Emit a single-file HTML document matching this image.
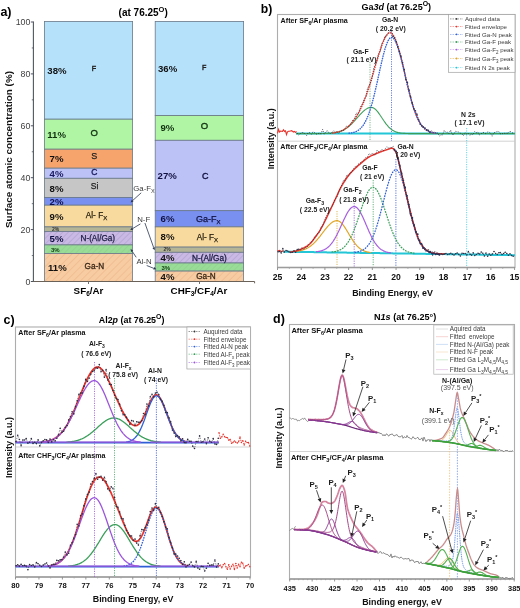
<!DOCTYPE html>
<html><head><meta charset="utf-8"><style>
html,body{margin:0;padding:0;background:#fff;width:520px;height:608px;overflow:hidden}
svg{display:block;will-change:transform;font-family:"Liberation Sans", sans-serif}
</style></head><body>
<svg width="520" height="608" viewBox="0 0 520 608">
<rect width="520" height="608" fill="#fff"/>
<text x="0.4" y="16.0" font-size="12.5" font-weight="bold" text-anchor="start" fill="#000" >a)</text>
<text x="143.2" y="15.6" font-size="10.0" font-weight="bold" text-anchor="middle" fill="#000" >(at 76.25<tspan baseline-shift="3.9" font-size="7.5">O</tspan>)</text>
<defs><pattern id="h1" patternUnits="userSpaceOnUse" width="4" height="4" patternTransform="rotate(45)"><rect width="4" height="4" fill="#c9b9e4"/><line x1="0" y1="0" x2="0" y2="4" stroke="#a999c8" stroke-width="1"/></pattern><pattern id="h2" patternUnits="userSpaceOnUse" width="4" height="4" patternTransform="rotate(45)"><rect width="4" height="4" fill="#99dc97"/><line x1="0" y1="0" x2="0" y2="4" stroke="#84ca84" stroke-width="0.8"/></pattern><pattern id="h3" patternUnits="userSpaceOnUse" width="5" height="5" patternTransform="rotate(45)"><rect width="5" height="5" fill="#f8cca2"/><line x1="0" y1="0" x2="0" y2="5" stroke="#e8b080" stroke-width="1"/></pattern></defs>
<rect x="44.5" y="21.5" width="88.1" height="97.7" fill="#b5e1fb" stroke="#6a7888" stroke-width="0.8"/>
<rect x="44.5" y="119.2" width="88.1" height="29.999999999999986" fill="#b0f5a4" stroke="#6a7888" stroke-width="0.8"/>
<rect x="44.5" y="149.2" width="88.1" height="19.0" fill="#f6a46c" stroke="#6a7888" stroke-width="0.8"/>
<rect x="44.5" y="168.2" width="88.1" height="10.100000000000023" fill="#bcc2f6" stroke="#6a7888" stroke-width="0.8"/>
<rect x="44.5" y="178.3" width="88.1" height="19.099999999999994" fill="#c6c6c6" stroke="#6a7888" stroke-width="0.8"/>
<rect x="44.5" y="197.4" width="88.1" height="7.799999999999983" fill="#7a90f0" stroke="#6a7888" stroke-width="0.8"/>
<rect x="44.5" y="205.2" width="88.1" height="21.700000000000017" fill="#f8da9e" stroke="#6a7888" stroke-width="0.8"/>
<rect x="44.5" y="226.9" width="88.1" height="4.599999999999994" fill="#b4b496" stroke="#6a7888" stroke-width="0.8"/>
<rect x="44.5" y="231.5" width="88.1" height="13.400000000000006" fill="url(#h1)" stroke="#6a7888" stroke-width="0.8"/>
<rect x="44.5" y="244.9" width="88.1" height="8.599999999999994" fill="url(#h2)" stroke="#6a7888" stroke-width="0.8"/>
<rect x="44.5" y="253.5" width="88.1" height="28.0" fill="url(#h3)" stroke="#6a7888" stroke-width="0.8"/>
<rect x="155.2" y="21.5" width="88.4" height="94.1" fill="#b5e1fb" stroke="#6a7888" stroke-width="0.8"/>
<rect x="155.2" y="115.6" width="88.4" height="24.700000000000017" fill="#b0f5a4" stroke="#6a7888" stroke-width="0.8"/>
<rect x="155.2" y="140.3" width="88.4" height="70.39999999999998" fill="#bcc2f6" stroke="#6a7888" stroke-width="0.8"/>
<rect x="155.2" y="210.7" width="88.4" height="16.200000000000017" fill="#7a90f0" stroke="#6a7888" stroke-width="0.8"/>
<rect x="155.2" y="226.9" width="88.4" height="20.19999999999999" fill="#f8da9e" stroke="#6a7888" stroke-width="0.8"/>
<rect x="155.2" y="247.1" width="88.4" height="5.200000000000017" fill="#b4b496" stroke="#6a7888" stroke-width="0.8"/>
<rect x="155.2" y="252.3" width="88.4" height="10.699999999999989" fill="url(#h1)" stroke="#6a7888" stroke-width="0.8"/>
<rect x="155.2" y="263.0" width="88.4" height="8.100000000000023" fill="url(#h2)" stroke="#6a7888" stroke-width="0.8"/>
<rect x="155.2" y="271.1" width="88.4" height="10.399999999999977" fill="url(#h3)" stroke="#6a7888" stroke-width="0.8"/>
<line x1="33.4" y1="21.5" x2="33.4" y2="282" stroke="#4e5660" stroke-width="1.1" />
<line x1="33" y1="281.5" x2="254.6" y2="281.5" stroke="#6a6258" stroke-width="1.1" />
<line x1="254.6" y1="281.5" x2="254.6" y2="283.3" stroke="#6a6258" stroke-width="1" />
<line x1="30.8" y1="281.5" x2="33.4" y2="281.5" stroke="#4e5660" stroke-width="1" />
<text x="30.4" y="284.7" font-size="8.8" font-weight="normal" text-anchor="end" fill="#404040" >0</text>
<line x1="31.8" y1="255.55" x2="33.4" y2="255.55" stroke="#4e5660" stroke-width="0.8" />
<line x1="30.8" y1="229.6" x2="33.4" y2="229.6" stroke="#4e5660" stroke-width="1" />
<text x="30.4" y="232.79999999999998" font-size="8.8" font-weight="normal" text-anchor="end" fill="#404040" >20</text>
<line x1="31.8" y1="203.64999999999998" x2="33.4" y2="203.64999999999998" stroke="#4e5660" stroke-width="0.8" />
<line x1="30.8" y1="177.7" x2="33.4" y2="177.7" stroke="#4e5660" stroke-width="1" />
<text x="30.4" y="180.89999999999998" font-size="8.8" font-weight="normal" text-anchor="end" fill="#404040" >40</text>
<line x1="31.8" y1="151.75" x2="33.4" y2="151.75" stroke="#4e5660" stroke-width="0.8" />
<line x1="30.8" y1="125.79999999999998" x2="33.4" y2="125.79999999999998" stroke="#4e5660" stroke-width="1" />
<text x="30.4" y="128.99999999999997" font-size="8.8" font-weight="normal" text-anchor="end" fill="#404040" >60</text>
<line x1="31.8" y1="99.85" x2="33.4" y2="99.85" stroke="#4e5660" stroke-width="0.8" />
<line x1="30.8" y1="73.89999999999998" x2="33.4" y2="73.89999999999998" stroke="#4e5660" stroke-width="1" />
<text x="30.4" y="77.09999999999998" font-size="8.8" font-weight="normal" text-anchor="end" fill="#404040" >80</text>
<line x1="31.8" y1="47.94999999999999" x2="33.4" y2="47.94999999999999" stroke="#4e5660" stroke-width="0.8" />
<line x1="30.8" y1="22.0" x2="33.4" y2="22.0" stroke="#4e5660" stroke-width="1" />
<text x="30.4" y="25.2" font-size="8.8" font-weight="normal" text-anchor="end" fill="#404040" >100</text>
<line x1="88.5" y1="281.5" x2="88.5" y2="284" stroke="#707070" stroke-width="1" />
<line x1="199.5" y1="281.5" x2="199.5" y2="284" stroke="#707070" stroke-width="1" />
<text x="88.5" y="294.2" font-size="9.8" font-weight="bold" text-anchor="middle" fill="#000" >SF<tspan baseline-shift="-2" font-size="6.5">6</tspan>/Ar</text>
<text x="199" y="294.2" font-size="9.8" font-weight="bold" text-anchor="middle" fill="#000" >CHF<tspan baseline-shift="-2" font-size="6.5">3</tspan>/CF<tspan baseline-shift="-2" font-size="6.5">4</tspan>/Ar</text>
<text transform="translate(12.1,149.5) rotate(-90)" font-size="9.9" font-weight="bold" text-anchor="middle" fill="#111">Surface atomic concentration (%)</text>
<text x="47.3" y="73.956" font-size="9.6" font-weight="bold" text-anchor="start" fill="#111" >38%</text>
<text x="94" y="71.392" font-size="7.2" font-weight="normal" text-anchor="middle" fill="#222" stroke="#222" stroke-width="0.4">F</text>
<text x="47.3" y="137.65599999999998" font-size="9.6" font-weight="bold" text-anchor="start" fill="#103010" >11%</text>
<text x="94.3" y="135.82" font-size="9.5" font-weight="normal" text-anchor="middle" fill="#103010" stroke="#103010" stroke-width="0.35">O</text>
<text x="49.6" y="162.356" font-size="9.6" font-weight="bold" text-anchor="start" fill="#111" >7%</text>
<text x="94.3" y="159.44" font-size="9" font-weight="normal" text-anchor="middle" fill="#222" stroke="#222" stroke-width="0.25">S</text>
<text x="49.6" y="176.956" font-size="9.6" font-weight="bold" text-anchor="start" fill="#1a1a60" >4%</text>
<text x="94.3" y="175.36" font-size="8.5" font-weight="normal" text-anchor="middle" fill="#1a1a60" stroke="#1a1a60" stroke-width="0.35">C</text>
<text x="49.6" y="191.956" font-size="9.6" font-weight="bold" text-anchor="start" fill="#111" >8%</text>
<text x="94.5" y="189.26" font-size="8.5" font-weight="normal" text-anchor="middle" fill="#222" stroke="#222" stroke-width="0.25">Si</text>
<text x="49.6" y="205.05599999999998" font-size="9.6" font-weight="bold" text-anchor="start" fill="#101050" >2%</text>
<text x="49.6" y="219.956" font-size="9.6" font-weight="bold" text-anchor="start" fill="#111" >9%</text>
<text x="96.5" y="217.852" font-size="8.2" font-weight="normal" text-anchor="middle" fill="#2a2210" stroke="#2a2210" stroke-width="0.25">Al- F<tspan baseline-shift="-2" font-size="6">X</tspan></text>
<text x="52" y="231" font-size="5" font-weight="bold" text-anchor="start" fill="#333" >2%</text>
<text x="49.6" y="241.956" font-size="9.6" font-weight="bold" text-anchor="start" fill="#101040" >5%</text>
<text x="97.8" y="240.952" font-size="8.2" font-weight="normal" text-anchor="middle" fill="#1c1c44" stroke="#1c1c44" stroke-width="0.25">N-(Al/Ga)</text>
<text x="51" y="251.5" font-size="6" font-weight="bold" text-anchor="start" fill="#104010" >3%</text>
<text x="48" y="270.75600000000003" font-size="9.6" font-weight="bold" text-anchor="start" fill="#111" >11%</text>
<text x="94.3" y="269.152" font-size="8.2" font-weight="normal" text-anchor="middle" fill="#3a2818" stroke="#3a2818" stroke-width="0.3">Ga-N</text>
<text x="158" y="72.256" font-size="9.6" font-weight="bold" text-anchor="start" fill="#111" >36%</text>
<text x="204.3" y="70.092" font-size="7.2" font-weight="normal" text-anchor="middle" fill="#222" stroke="#222" stroke-width="0.4">F</text>
<text x="160.5" y="130.956" font-size="9.6" font-weight="bold" text-anchor="start" fill="#103010" >9%</text>
<text x="204.4" y="129.22" font-size="9.5" font-weight="normal" text-anchor="middle" fill="#103010" stroke="#103010" stroke-width="0.35">O</text>
<text x="157.6" y="178.756" font-size="9.6" font-weight="bold" text-anchor="start" fill="#101040" >27%</text>
<text x="205.2" y="178.54000000000002" font-size="9" font-weight="normal" text-anchor="middle" fill="#101040" stroke="#101040" stroke-width="0.35">C</text>
<text x="160.6" y="222.256" font-size="9.6" font-weight="bold" text-anchor="start" fill="#101040" >6%</text>
<text x="208.2" y="221.54000000000002" font-size="9" font-weight="normal" text-anchor="middle" fill="#101040" stroke="#101040" stroke-width="0.25">Ga-F<tspan baseline-shift="-2" font-size="6">X</tspan></text>
<text x="160.6" y="240.356" font-size="9.6" font-weight="bold" text-anchor="start" fill="#111" >8%</text>
<text x="207.4" y="240.052" font-size="8.2" font-weight="normal" text-anchor="middle" fill="#2a2210" stroke="#2a2210" stroke-width="0.25">Al- F<tspan baseline-shift="-2" font-size="6">X</tspan></text>
<text x="163.5" y="251.3" font-size="5" font-weight="bold" text-anchor="start" fill="#333" >2%</text>
<text x="160.6" y="261.156" font-size="9.6" font-weight="bold" text-anchor="start" fill="#111" >4%</text>
<text x="209.4" y="260.652" font-size="8.2" font-weight="normal" text-anchor="middle" fill="#1c1c44" stroke="#1c1c44" stroke-width="0.3">N-(Al/Ga)</text>
<text x="161.5" y="269.5" font-size="6" font-weight="bold" text-anchor="start" fill="#104010" >3%</text>
<text x="160.6" y="279.956" font-size="9.6" font-weight="bold" text-anchor="start" fill="#111" >4%</text>
<text x="206" y="279.452" font-size="8.2" font-weight="normal" text-anchor="middle" fill="#3a2818" stroke="#3a2818" stroke-width="0.3">Ga-N</text>
<text x="144" y="190.808" font-size="7.8" font-weight="normal" text-anchor="middle" fill="#3a3a3a" >Ga-F<tspan baseline-shift="-2" font-size="5.5">X</tspan></text>
<text x="143.7" y="222.108" font-size="7.8" font-weight="normal" text-anchor="middle" fill="#3a3a3a" >N-F</text>
<text x="144" y="264.308" font-size="7.8" font-weight="normal" text-anchor="middle" fill="#3a3a3a" >Al-N</text>
<line x1="141.2" y1="192.8" x2="132.7" y2="200.5" stroke="#2a3550" stroke-width="0.8"/>
<path d="M130.6,202.4 L131.8,199.6 L133.5,201.5 Z" fill="#2a3550"/>
<line x1="140.4" y1="223.9" x2="132.6" y2="228.6" stroke="#2a3550" stroke-width="0.8"/>
<path d="M130.2,230.0 L131.9,227.4 L133.3,229.7 Z" fill="#2a3550"/>
<line x1="144.9" y1="223.0" x2="153.7" y2="247.7" stroke="#2a3550" stroke-width="0.8"/>
<path d="M154.6,250.3 L152.4,248.1 L154.9,247.2 Z" fill="#2a3550"/>
<line x1="136.2" y1="257.3" x2="132.2" y2="251.3" stroke="#2a3550" stroke-width="0.8"/>
<path d="M130.6,249.0 L133.2,250.6 L131.1,252.0 Z" fill="#2a3550"/>
<line x1="146.7" y1="265.5" x2="153.7" y2="268.3" stroke="#2a3550" stroke-width="0.8"/>
<path d="M156.3,269.3 L153.2,269.5 L154.2,267.1 Z" fill="#2a3550"/>
<text x="260.8" y="13.4" font-size="12.2" font-weight="bold" text-anchor="start" fill="#000" >b)</text>
<text x="396.3" y="9.6" font-size="9.0" font-weight="bold" text-anchor="middle" fill="#000" >Ga<tspan font-style="italic">3d</tspan> (at 76.25<tspan baseline-shift="3.6" font-size="6.9">O</tspan>)</text>
<rect x="277.5" y="14.5" width="237.5" height="253.0" fill="none" stroke="#adadad" stroke-width="1.1"/>
<line x1="277.5" y1="267.5" x2="515" y2="267.5" stroke="#9c9c9c" stroke-width="1.3" />
<line x1="277.5" y1="141.2" x2="515" y2="141.2" stroke="#c8c8c8" stroke-width="0.8" />
<line x1="370.0" y1="62" x2="370.0" y2="141" stroke="#5aa870" stroke-width="0.8" stroke-dasharray="1.2,1.2"/>
<line x1="391.5" y1="30" x2="391.5" y2="141" stroke="#4060d8" stroke-width="0.8" stroke-dasharray="1.2,1.2"/>
<line x1="466.7" y1="128" x2="466.7" y2="266.5" stroke="#40c8d8" stroke-width="0.8" stroke-dasharray="1.2,1.2"/>
<line x1="337.0" y1="211" x2="337.0" y2="266.5" stroke="#d8a830" stroke-width="0.8" stroke-dasharray="1.2,1.2"/>
<line x1="354.2" y1="203" x2="354.2" y2="266.5" stroke="#9050d0" stroke-width="0.8" stroke-dasharray="1.2,1.2"/>
<line x1="373.2" y1="180" x2="373.2" y2="266.5" stroke="#40a060" stroke-width="0.8" stroke-dasharray="1.2,1.2"/>
<line x1="395.9" y1="159" x2="395.9" y2="266.5" stroke="#3050d0" stroke-width="0.8" stroke-dasharray="1.2,1.2"/>
<path d="M296.0,133.6 L296.5,133.6 L297.0,133.6 L297.5,133.6 L298.0,133.6 L298.5,133.6 L299.0,133.6 L299.5,133.6 L300.0,133.6 L300.5,133.6 L301.0,133.6 L301.5,133.6 L302.0,133.6 L302.5,133.6 L303.0,133.6 L303.5,133.6 L304.0,133.6 L304.5,133.6 L305.0,133.6 L305.5,133.6 L306.0,133.6 L306.5,133.6 L307.0,133.6 L307.5,133.6 L308.0,133.6 L308.5,133.6 L309.0,133.6 L309.5,133.6 L310.0,133.6 L310.5,133.6 L311.0,133.6 L311.5,133.6 L312.0,133.6 L312.5,133.6 L313.0,133.6 L313.5,133.6 L314.0,133.6 L314.5,133.6 L315.0,133.6 L315.5,133.6 L316.0,133.6 L316.5,133.6 L317.0,133.6 L317.5,133.6 L318.0,133.6 L318.5,133.6 L319.0,133.6 L319.5,133.6 L320.0,133.6 L320.5,133.6 L321.0,133.6 L321.5,133.6 L322.0,133.6 L322.5,133.6 L323.0,133.6 L323.5,133.6 L324.0,133.6 L324.5,133.6 L325.0,133.6 L325.5,133.6 L326.0,133.6 L326.5,133.6 L327.0,133.6 L327.5,133.6 L328.0,133.6 L328.5,133.6 L329.0,133.6 L329.5,133.6 L330.0,133.6 L330.5,133.6 L331.0,133.6 L331.5,133.6 L332.0,133.6 L332.5,133.6 L333.0,133.6 L333.5,133.6 L334.0,133.6 L334.5,133.6 L335.0,133.6 L335.5,133.6 L336.0,133.6 L336.5,133.6 L337.0,133.6 L337.5,133.6 L338.0,133.6 L338.5,133.6 L339.0,133.6 L339.5,133.6 L340.0,133.6 L340.5,133.6 L341.0,133.6 L341.5,133.6 L342.0,133.6 L342.5,133.6 L343.0,133.6 L343.5,133.6 L344.0,133.6 L344.5,133.6 L345.0,133.6 L345.5,133.6 L346.0,133.6 L346.5,133.6 L347.0,133.6 L347.5,133.6 L348.0,133.6 L348.5,133.6 L349.0,133.6 L349.5,133.6 L350.0,133.6 L350.5,133.6 L351.0,133.6 L351.5,133.6 L352.0,133.6 L352.5,133.6 L353.0,133.6 L353.5,133.6 L354.0,133.6 L354.5,133.6 L355.0,133.6 L355.5,133.6 L356.0,133.6 L356.5,133.6 L357.0,133.6 L357.5,133.6 L358.0,133.6 L358.5,133.6 L359.0,133.6 L359.5,133.6 L360.0,133.6 L360.5,133.6 L361.0,133.6 L361.5,133.6 L362.0,133.6 L362.5,133.6 L363.0,133.6 L363.5,133.6 L364.0,133.6 L364.5,133.6 L365.0,133.6 L365.5,133.6 L366.0,133.6 L366.5,133.6 L367.0,133.6 L367.5,133.6 L368.0,133.6 L368.5,133.6 L369.0,133.6 L369.5,133.6 L370.0,133.6 L370.5,133.6 L371.0,133.6 L371.5,133.6 L372.0,133.6 L372.5,133.6 L373.0,133.6 L373.5,133.6 L374.0,133.6 L374.5,133.6 L375.0,133.6 L375.5,133.6 L376.0,133.6 L376.5,133.6 L377.0,133.6 L377.5,133.6 L378.0,133.6 L378.5,133.6 L379.0,133.6 L379.5,133.6 L380.0,133.6 L380.5,133.6 L381.0,133.6 L381.5,133.6 L382.0,133.6 L382.5,133.6 L383.0,133.6 L383.5,133.6 L384.0,133.6 L384.5,133.6 L385.0,133.6 L385.5,133.6 L386.0,133.6 L386.5,133.6 L387.0,133.6 L387.5,133.6 L388.0,133.6 L388.5,133.6 L389.0,133.6 L389.5,133.6 L390.0,133.6 L390.5,133.6 L391.0,133.6 L391.5,133.6 L392.0,133.6 L392.5,133.6 L393.0,133.6 L393.5,133.6 L394.0,133.6 L394.5,133.6 L395.0,133.6 L395.5,133.6 L396.0,133.6 L396.5,133.6 L397.0,133.6 L397.5,133.6 L398.0,133.6 L398.5,133.6 L399.0,133.6 L399.5,133.6 L400.0,133.6 L400.5,133.6 L401.0,133.6 L401.5,133.6 L402.0,133.6 L402.5,133.6 L403.0,133.6 L403.5,133.6 L404.0,133.6 L404.5,133.6 L405.0,133.6 L405.5,133.6 L406.0,133.6 L406.5,133.6 L407.0,133.6 L407.5,133.6 L408.0,133.6 L408.5,133.6 L409.0,133.6 L409.5,133.6 L410.0,133.6 L410.5,133.6 L411.0,133.6 L411.5,133.6 L412.0,133.6 L412.5,133.6 L413.0,133.6 L413.5,133.6 L414.0,133.6 L414.5,133.6 L415.0,133.6 L415.5,133.6 L416.0,133.6 L416.5,133.6 L417.0,133.6 L417.5,133.6 L418.0,133.6 L418.5,133.6 L419.0,133.6 L419.5,133.6 L420.0,133.6 L420.5,133.6 L421.0,133.6 L421.5,133.6 L422.0,133.6 L422.5,133.6 L423.0,133.6 L423.5,133.6 L424.0,133.6 L424.5,133.6 L425.0,133.6 L425.5,133.6 L426.0,133.6 L426.5,133.6 L427.0,133.6 L427.5,133.6 L428.0,133.6 L428.5,133.6 L429.0,133.6 L429.5,133.6 L430.0,133.6 L430.5,133.6 L431.0,133.6 L431.5,133.6 L432.0,133.6 L432.5,133.6 L433.0,133.6 L433.5,133.6 L434.0,133.6 L434.5,133.6 L435.0,133.6 L435.5,133.6 L436.0,133.6 L436.5,133.6 L437.0,133.6 L437.5,133.6 L438.0,133.6 L438.5,133.6 L439.0,133.6 L439.5,133.6 L440.0,133.6 L440.5,133.6 L441.0,133.6 L441.5,133.6 L442.0,133.6 L442.5,133.6 L443.0,133.6 L443.5,133.6 L444.0,133.6 L444.5,133.6 L445.0,133.6 L445.5,133.6 L446.0,133.6 L446.5,133.6 L447.0,133.6 L447.5,133.6 L448.0,133.6 L448.5,133.6 L449.0,133.6 L449.5,133.6 L450.0,133.6 L450.5,133.6 L451.0,133.6 L451.5,133.6 L452.0,133.6 L452.5,133.6 L453.0,133.6 L453.5,133.6 L454.0,133.6 L454.5,133.6 L455.0,133.6 L455.5,133.6 L456.0,133.6 L456.5,133.6 L457.0,133.6 L457.5,133.6 L458.0,133.6 L458.5,133.6 L459.0,133.6 L459.5,133.6 L460.0,133.6 L460.5,133.6 L461.0,133.6 L461.5,133.6 L462.0,133.6 L462.5,133.6 L463.0,133.6 L463.5,133.6 L464.0,133.6 L464.5,133.6 L465.0,133.6 L465.5,133.6 L466.0,133.6 L466.5,133.6 L467.0,133.6 L467.5,133.6 L468.0,133.6 L468.5,133.6 L469.0,133.6 L469.5,133.6 L470.0,133.6 L470.5,133.6 L471.0,133.6 L471.5,133.6 L472.0,133.6 L472.5,133.6 L473.0,133.6 L473.5,133.6 L474.0,133.6 L474.5,133.6 L475.0,133.6 L475.5,133.6 L476.0,133.6 L476.5,133.6 L477.0,133.6 L477.5,133.6 L478.0,133.6 L478.5,133.6 L479.0,133.6 L479.5,133.6 L480.0,133.6 L480.5,133.6 L481.0,133.6 L481.5,133.6 L482.0,133.6 L482.5,133.6 L483.0,133.6 L483.5,133.6 L484.0,133.6 L484.5,133.6 L485.0,133.6 L485.5,133.6 L486.0,133.6 L486.5,133.6 L487.0,133.6 L487.5,133.6 L488.0,133.6 L488.5,133.6 L489.0,133.6 L489.5,133.6 L490.0,133.6 L490.5,133.6 L491.0,133.6 L491.5,133.6 L492.0,133.6 L492.5,133.6 L493.0,133.6 L493.5,133.6 L494.0,133.6 L494.5,133.6 L495.0,133.6 L495.5,133.6 L496.0,133.6 L496.5,133.6 L497.0,133.6 L497.5,133.6 L498.0,133.6 L498.5,133.6 L499.0,133.6 L499.5,133.6 L500.0,133.6 L500.5,133.6 L501.0,133.6 L501.5,133.6 L502.0,133.6 L502.5,133.6 L503.0,133.6 L503.5,133.6 L504.0,133.6 L504.5,133.6 L505.0,133.6 L505.5,133.6 L506.0,133.6 L506.5,133.6 L507.0,133.6 L507.5,133.6 L508.0,133.6 L508.5,133.6 L509.0,133.6 L509.5,133.6 L510.0,133.6 L510.5,133.6 L511.0,133.6 L511.5,133.6 L512.0,133.6 L512.5,133.6 L513.0,133.6 L513.5,133.6 L514.0,133.6 L514.5,133.6 L515.0,133.6" fill="none" stroke="#22c6d6" stroke-width="2"/>
<path d="M296.0,133.6 L296.5,133.6 L297.0,133.6 L297.5,133.6 L298.0,133.6 L298.5,133.6 L299.0,133.6 L299.5,133.6 L300.0,133.6 L300.5,133.6 L301.0,133.6 L301.5,133.6 L302.0,133.6 L302.5,133.6 L303.0,133.6 L303.5,133.6 L304.0,133.6 L304.5,133.6 L305.0,133.6 L305.5,133.6 L306.0,133.6 L306.5,133.6 L307.0,133.6 L307.5,133.6 L308.0,133.6 L308.5,133.6 L309.0,133.6 L309.5,133.6 L310.0,133.6 L310.5,133.6 L311.0,133.6 L311.5,133.6 L312.0,133.6 L312.5,133.6 L313.0,133.6 L313.5,133.6 L314.0,133.6 L314.5,133.6 L315.0,133.6 L315.5,133.6 L316.0,133.6 L316.5,133.6 L317.0,133.6 L317.5,133.6 L318.0,133.6 L318.5,133.6 L319.0,133.6 L319.5,133.6 L320.0,133.6 L320.5,133.6 L321.0,133.6 L321.5,133.6 L322.0,133.5 L322.5,133.5 L323.0,133.5 L323.5,133.5 L324.0,133.5 L324.5,133.5 L325.0,133.5 L325.5,133.5 L326.0,133.5 L326.5,133.4 L327.0,133.4 L327.5,133.4 L328.0,133.4 L328.5,133.4 L329.0,133.3 L329.5,133.3 L330.0,133.3 L330.5,133.2 L331.0,133.2 L331.5,133.1 L332.0,133.1 L332.5,133.0 L333.0,133.0 L333.5,132.9 L334.0,132.8 L334.5,132.8 L335.0,132.7 L335.5,132.6 L336.0,132.5 L336.5,132.4 L337.0,132.3 L337.5,132.2 L338.0,132.1 L338.5,131.9 L339.0,131.8 L339.5,131.6 L340.0,131.4 L340.5,131.3 L341.0,131.1 L341.5,130.9 L342.0,130.7 L342.5,130.4 L343.0,130.2 L343.5,130.0 L344.0,129.7 L344.5,129.4 L345.0,129.1 L345.5,128.8 L346.0,128.5 L346.5,128.1 L347.0,127.8 L347.5,127.4 L348.0,127.0 L348.5,126.6 L349.0,126.2 L349.5,125.8 L350.0,125.4 L350.5,124.9 L351.0,124.4 L351.5,124.0 L352.0,123.5 L352.5,123.0 L353.0,122.4 L353.5,121.9 L354.0,121.4 L354.5,120.8 L355.0,120.3 L355.5,119.7 L356.0,119.2 L356.5,118.6 L357.0,118.0 L357.5,117.5 L358.0,116.9 L358.5,116.4 L359.0,115.8 L359.5,115.2 L360.0,114.7 L360.5,114.1 L361.0,113.6 L361.5,113.1 L362.0,112.6 L362.5,112.1 L363.0,111.6 L363.5,111.2 L364.0,110.7 L364.5,110.3 L365.0,109.9 L365.5,109.6 L366.0,109.2 L366.5,108.9 L367.0,108.6 L367.5,108.3 L368.0,108.1 L368.5,107.9 L369.0,107.8 L369.5,107.6 L370.0,107.5 L370.5,107.4 L371.0,107.4 L371.5,107.4 L372.0,107.5 L372.5,107.6 L373.0,107.7 L373.5,108.0 L374.0,108.3 L374.5,108.6 L375.0,109.0 L375.5,109.4 L376.0,109.9 L376.5,110.4 L377.0,111.0 L377.5,111.6 L378.0,112.2 L378.5,112.9 L379.0,113.6 L379.5,114.3 L380.0,115.0 L380.5,115.8 L381.0,116.5 L381.5,117.3 L382.0,118.0 L382.5,118.8 L383.0,119.5 L383.5,120.3 L384.0,121.0 L384.5,121.7 L385.0,122.4 L385.5,123.1 L386.0,123.8 L386.5,124.4 L387.0,125.0 L387.5,125.6 L388.0,126.2 L388.5,126.8 L389.0,127.3 L389.5,127.8 L390.0,128.2 L390.5,128.7 L391.0,129.1 L391.5,129.5 L392.0,129.8 L392.5,130.2 L393.0,130.5 L393.5,130.8 L394.0,131.1 L394.5,131.3 L395.0,131.5 L395.5,131.8 L396.0,132.0 L396.5,132.1 L397.0,132.3 L397.5,132.4 L398.0,132.6 L398.5,132.7 L399.0,132.8 L399.5,132.9 L400.0,133.0 L400.5,133.1 L401.0,133.1 L401.5,133.2 L402.0,133.2 L402.5,133.3 L403.0,133.3 L403.5,133.4 L404.0,133.4 L404.5,133.4 L405.0,133.4 L405.5,133.5 L406.0,133.5 L406.5,133.5 L407.0,133.5 L407.5,133.5 L408.0,133.5 L408.5,133.6 L409.0,133.6 L409.5,133.6 L410.0,133.6 L410.5,133.6 L411.0,133.6 L411.5,133.6 L412.0,133.6 L412.5,133.6 L413.0,133.6 L413.5,133.6 L414.0,133.6 L414.5,133.6 L415.0,133.6 L415.5,133.6 L416.0,133.6 L416.5,133.6 L417.0,133.6 L417.5,133.6 L418.0,133.6 L418.5,133.6 L419.0,133.6 L419.5,133.6 L420.0,133.6 L420.5,133.6 L421.0,133.6 L421.5,133.6 L422.0,133.6 L422.5,133.6 L423.0,133.6 L423.5,133.6 L424.0,133.6 L424.5,133.6 L425.0,133.6 L425.5,133.6 L426.0,133.6 L426.5,133.6 L427.0,133.6 L427.5,133.6 L428.0,133.6 L428.5,133.6 L429.0,133.6 L429.5,133.6 L430.0,133.6 L430.5,133.6 L431.0,133.6 L431.5,133.6 L432.0,133.6 L432.5,133.6 L433.0,133.6 L433.5,133.6 L434.0,133.6 L434.5,133.6 L435.0,133.6 L435.5,133.6 L436.0,133.6 L436.5,133.6 L437.0,133.6 L437.5,133.6 L438.0,133.6 L438.5,133.6 L439.0,133.6 L439.5,133.6 L440.0,133.6 L440.5,133.6 L441.0,133.6 L441.5,133.6 L442.0,133.6 L442.5,133.6 L443.0,133.6 L443.5,133.6 L444.0,133.6 L444.5,133.6 L445.0,133.6 L445.5,133.6 L446.0,133.6 L446.5,133.6 L447.0,133.6 L447.5,133.6 L448.0,133.6 L448.5,133.6 L449.0,133.6 L449.5,133.6 L450.0,133.6 L450.5,133.6 L451.0,133.6 L451.5,133.6 L452.0,133.6 L452.5,133.6 L453.0,133.6 L453.5,133.6 L454.0,133.6 L454.5,133.6 L455.0,133.6 L455.5,133.6 L456.0,133.6 L456.5,133.6 L457.0,133.6 L457.5,133.6 L458.0,133.6 L458.5,133.6 L459.0,133.6 L459.5,133.6 L460.0,133.6 L460.5,133.6 L461.0,133.6 L461.5,133.6 L462.0,133.6 L462.5,133.6 L463.0,133.6 L463.5,133.6 L464.0,133.6 L464.5,133.6 L465.0,133.6 L465.5,133.6 L466.0,133.6 L466.5,133.6 L467.0,133.6 L467.5,133.6 L468.0,133.6 L468.5,133.6 L469.0,133.6 L469.5,133.6 L470.0,133.6 L470.5,133.6 L471.0,133.6 L471.5,133.6 L472.0,133.6 L472.5,133.6 L473.0,133.6 L473.5,133.6 L474.0,133.6 L474.5,133.6 L475.0,133.6 L475.5,133.6 L476.0,133.6 L476.5,133.6 L477.0,133.6 L477.5,133.6 L478.0,133.6 L478.5,133.6 L479.0,133.6 L479.5,133.6 L480.0,133.6 L480.5,133.6 L481.0,133.6 L481.5,133.6 L482.0,133.6 L482.5,133.6 L483.0,133.6 L483.5,133.6 L484.0,133.6 L484.5,133.6 L485.0,133.6 L485.5,133.6 L486.0,133.6 L486.5,133.6 L487.0,133.6 L487.5,133.6 L488.0,133.6 L488.5,133.6 L489.0,133.6 L489.5,133.6 L490.0,133.6 L490.5,133.6 L491.0,133.6 L491.5,133.6 L492.0,133.6 L492.5,133.6 L493.0,133.6 L493.5,133.6 L494.0,133.6 L494.5,133.6 L495.0,133.6 L495.5,133.6 L496.0,133.6 L496.5,133.6 L497.0,133.6 L497.5,133.6 L498.0,133.6 L498.5,133.6 L499.0,133.6 L499.5,133.6 L500.0,133.6 L500.5,133.6 L501.0,133.6 L501.5,133.6 L502.0,133.6 L502.5,133.6 L503.0,133.6 L503.5,133.6 L504.0,133.6 L504.5,133.6 L505.0,133.6 L505.5,133.6 L506.0,133.6 L506.5,133.6 L507.0,133.6 L507.5,133.6 L508.0,133.6 L508.5,133.6 L509.0,133.6 L509.5,133.6 L510.0,133.6 L510.5,133.6 L511.0,133.6 L511.5,133.6 L512.0,133.6 L512.5,133.6 L513.0,133.6 L513.5,133.6 L514.0,133.6 L514.5,133.6 L515.0,133.6" fill="none" stroke="#3a9f5a" stroke-width="1.1"/>
<path d="M332.0,133.1 L332.5,133.0 L333.0,133.0 L333.5,132.9 L334.0,132.8 L334.5,132.8 L335.0,132.7 L335.5,132.6 L336.0,132.5 L336.5,132.4 L337.0,132.3 L337.5,132.2 L338.0,132.0 L338.5,131.9 L339.0,131.7 L339.5,131.6 L340.0,131.4 L340.5,131.2 L341.0,131.0 L341.5,130.8 L342.0,130.6 L342.5,130.4 L343.0,130.1 L343.5,129.9 L344.0,129.6 L344.5,129.3 L345.0,129.0 L345.5,128.7 L346.0,128.3 L346.5,127.9 L347.0,127.6 L347.5,127.2 L348.0,126.7 L348.5,126.3 L349.0,125.8 L349.5,125.4 L350.0,124.9 L350.5,124.3 L351.0,123.8 L351.5,123.2 L352.0,122.6 L352.5,122.0 L353.0,121.4 L353.5,120.8 L354.0,120.1 L354.5,119.4 L355.0,118.6 L355.5,117.9 L356.0,117.1 L356.5,116.3 L357.0,115.5 L357.5,114.7 L358.0,113.8 L358.5,112.9 L359.0,112.0 L359.5,111.0 L360.0,110.0 L360.5,109.0 L361.0,108.0 L361.5,106.9 L362.0,105.8 L362.5,104.7 L363.0,103.6 L363.5,102.4 L364.0,101.2 L364.5,99.9 L365.0,98.6 L365.5,97.3 L366.0,96.0 L366.5,94.6 L367.0,93.2 L367.5,91.8 L368.0,90.3 L368.5,88.8 L369.0,87.2 L369.5,85.7 L370.0,84.0 L370.5,82.4 L371.0,80.7 L371.5,79.0 L372.0,77.3 L372.5,75.6 L373.0,73.9 L373.5,72.2 L374.0,70.5 L374.5,68.8 L375.0,67.1 L375.5,65.4 L376.0,63.7 L376.5,62.0 L377.0,60.3 L377.5,58.7 L378.0,57.1 L378.5,55.5 L379.0,53.9 L379.5,52.3 L380.0,50.8 L380.5,49.3 L381.0,47.8 L381.5,46.4 L382.0,45.0 L382.5,43.6 L383.0,42.4 L383.5,41.1 L384.0,40.0 L384.5,38.9 L385.0,37.9 L385.5,36.9 L386.0,36.1 L386.5,35.3 L387.0,34.6 L387.5,34.0 L388.0,33.5 L388.5,33.2 L389.0,32.9 L389.5,32.7 L390.0,32.7 L390.5,32.8 L391.0,33.0 L391.5,33.3 L392.0,33.7 L392.5,34.2 L393.0,34.9 L393.5,35.6 L394.0,36.5 L394.5,37.4 L395.0,38.5 L395.5,39.6 L396.0,40.9 L396.5,42.2 L397.0,43.6 L397.5,45.2 L398.0,46.7 L398.5,48.4 L399.0,50.2 L399.5,52.0 L400.0,53.8 L400.5,55.8 L401.0,57.7 L401.5,59.8 L402.0,61.8 L402.5,63.9 L403.0,66.0 L403.5,68.2 L404.0,70.3 L404.5,72.5 L405.0,74.7 L405.5,76.8 L406.0,79.0 L406.5,81.1 L407.0,83.3 L407.5,85.4 L408.0,87.5 L408.5,89.5 L409.0,91.5 L409.5,93.5 L410.0,95.4 L410.5,97.3 L411.0,99.2 L411.5,101.0 L412.0,102.7 L412.5,104.4 L413.0,106.0 L413.5,107.6 L414.0,109.1 L414.5,110.6 L415.0,112.0 L415.5,113.3 L416.0,114.6 L416.5,115.8 L417.0,117.0 L417.5,118.1 L418.0,119.2 L418.5,120.2 L419.0,121.1 L419.5,122.0 L420.0,122.9 L420.5,123.7 L421.0,124.4 L421.5,125.2 L422.0,125.8 L422.5,126.4 L423.0,127.0 L423.5,127.6 L424.0,128.1 L424.5,128.5 L425.0,129.0 L425.5,129.4 L426.0,129.7 L426.5,130.1 L427.0,130.4 L427.5,130.7 L428.0,131.0 L428.5,131.2 L429.0,131.5 L429.5,131.7 L430.0,131.9 L430.5,132.0 L431.0,132.2 L431.5,132.3 L432.0,132.5 L432.5,132.6 L433.0,132.7 L433.5,132.8 L434.0,132.9 L434.5,133.0 L435.0,133.0 L435.5,133.1" fill="none" stroke="#e8322a" stroke-width="1.4" stroke-dasharray="1.6,0.7"/>
<path d="M348.5,133.3 L349.0,133.2 L349.5,133.2 L350.0,133.1 L350.5,133.0 L351.0,133.0 L351.5,132.9 L352.0,132.8 L352.5,132.7 L353.0,132.6 L353.5,132.4 L354.0,132.3 L354.5,132.1 L355.0,132.0 L355.5,131.8 L356.0,131.5 L356.5,131.3 L357.0,131.1 L357.5,130.8 L358.0,130.5 L358.5,130.1 L359.0,129.8 L359.5,129.4 L360.0,128.9 L360.5,128.5 L361.0,128.0 L361.5,127.4 L362.0,126.8 L362.5,126.2 L363.0,125.5 L363.5,124.8 L364.0,124.0 L364.5,123.2 L365.0,122.3 L365.5,121.4 L366.0,120.4 L366.5,119.3 L367.0,118.2 L367.5,117.0 L368.0,115.8 L368.5,114.5 L369.0,113.1 L369.5,111.6 L370.0,110.1 L370.5,108.6 L371.0,106.9 L371.5,105.2 L372.0,103.5 L372.5,101.6 L373.0,99.7 L373.5,97.8 L374.0,95.8 L374.5,93.8 L375.0,91.7 L375.5,89.6 L376.0,87.4 L376.5,85.2 L377.0,83.0 L377.5,80.7 L378.0,78.4 L378.5,76.2 L379.0,73.9 L379.5,71.6 L380.0,69.3 L380.5,67.1 L381.0,64.9 L381.5,62.7 L382.0,60.6 L382.5,58.5 L383.0,56.4 L383.5,54.5 L384.0,52.6 L384.5,50.8 L385.0,49.0 L385.5,47.4 L386.0,45.9 L386.5,44.5 L387.0,43.2 L387.5,42.0 L388.0,40.9 L388.5,40.0 L389.0,39.2 L389.5,38.6 L390.0,38.1 L390.5,37.7 L391.0,37.5 L391.5,37.4 L392.0,37.5 L392.5,37.7 L393.0,38.0 L393.5,38.4 L394.0,39.0 L394.5,39.7 L395.0,40.5 L395.5,41.5 L396.0,42.5 L396.5,43.7 L397.0,45.0 L397.5,46.3 L398.0,47.8 L398.5,49.3 L399.0,51.0 L399.5,52.7 L400.0,54.5 L400.5,56.3 L401.0,58.2 L401.5,60.2 L402.0,62.2 L402.5,64.2 L403.0,66.3 L403.5,68.4 L404.0,70.5 L404.5,72.7 L405.0,74.8 L405.5,77.0 L406.0,79.1 L406.5,81.2 L407.0,83.4 L407.5,85.4 L408.0,87.5 L408.5,89.6 L409.0,91.6 L409.5,93.5 L410.0,95.5 L410.5,97.3 L411.0,99.2 L411.5,101.0 L412.0,102.7 L412.5,104.4 L413.0,106.0 L413.5,107.6 L414.0,109.1 L414.5,110.6 L415.0,112.0 L415.5,113.3 L416.0,114.6 L416.5,115.8 L417.0,117.0 L417.5,118.1 L418.0,119.2 L418.5,120.2 L419.0,121.1 L419.5,122.0 L420.0,122.9 L420.5,123.7 L421.0,124.4 L421.5,125.2 L422.0,125.8 L422.5,126.4 L423.0,127.0 L423.5,127.6 L424.0,128.1 L424.5,128.5 L425.0,129.0 L425.5,129.4 L426.0,129.7 L426.5,130.1 L427.0,130.4 L427.5,130.7 L428.0,131.0 L428.5,131.2 L429.0,131.5 L429.5,131.7 L430.0,131.9 L430.5,132.0 L431.0,132.2 L431.5,132.3 L432.0,132.5 L432.5,132.6 L433.0,132.7 L433.5,132.8 L434.0,132.9 L434.5,133.0 L435.0,133.0 L435.5,133.1 L436.0,133.1 L436.5,133.2 L437.0,133.2 L437.5,133.3" fill="none" stroke="#2f5fd6" stroke-width="1.3" stroke-dasharray="1.6,0.8"/>
<path d="M277.5,133.4 L278.5,129.3 L279.5,132.0 L280.5,131.1 L281.5,131.2 L282.5,131.4 L283.5,129.8 L284.5,131.4 L285.5,130.8 L286.5,134.6 L287.5,131.8 L288.5,131.3 L289.5,131.3 L290.5,131.0 L291.5,130.7 L292.5,131.2 L293.5,132.0 L294.5,131.4 L295.5,132.5 L296.5,131.4" fill="none" stroke="#e8322a" stroke-width="1.1"/>
<path d="M297.0,133.0 L298.6,135.0 L300.2,133.7 L301.8,132.3 L303.4,132.8 L305.0,133.7 L306.6,135.5 L308.2,132.6 L309.8,132.7 L311.4,134.3 L313.0,131.8 L314.6,132.6 L316.2,134.1 L317.8,133.7 L319.4,133.1 L321.0,133.8 L322.6,129.3 L324.2,134.2 L325.8,131.6 L327.4,130.6 L329.0,133.1 L330.6,133.5 L332.2,131.9 L333.8,130.9 L335.4,132.0 L337.0,131.6 L338.6,133.1 L340.2,131.7 L341.8,130.4 L343.4,130.8 L345.0,128.1 L346.6,126.1 L348.2,126.7 L349.8,125.2 L351.4,122.5 L353.0,119.8 L354.6,118.9 L356.2,113.0 L357.8,114.4 L359.4,111.2 L361.0,105.3 L362.6,104.0 L364.2,98.8 L365.8,96.9 L367.4,88.8 L369.0,85.4 L370.6,82.4 L372.2,77.5 L373.8,67.7 L375.4,64.5 L377.0,60.2 L378.6,53.7 L380.2,51.6 L381.8,43.4 L383.4,41.2 L385.0,35.9 L386.6,36.4 L388.2,32.7 L389.8,31.6 L391.4,30.4 L393.0,36.5 L394.6,38.0 L396.2,41.8 L397.8,47.0 L399.4,51.5 L401.0,56.3 L402.6,62.7 L404.2,69.6 L405.8,79.3 L407.4,82.5 L409.0,90.1 L410.6,96.7 L412.2,103.1 L413.8,108.7 L415.4,110.8 L417.0,114.2 L418.6,119.8 L420.2,124.2 L421.8,125.9 L423.4,127.1 L425.0,128.0 L426.6,129.9 L428.2,130.2 L429.8,132.2 L431.4,130.7 L433.0,132.3 L434.6,132.2 L436.2,133.3 L437.8,133.0 L439.4,136.1 L441.0,134.8 L442.6,134.9 L444.2,130.3 L445.8,132.5 L447.4,132.2 L449.0,133.7 L450.6,130.0 L452.2,134.5 L453.8,134.4 L455.4,131.3 L457.0,131.7 L458.6,132.0 L460.2,133.1 L461.8,133.8 L463.4,135.7 L465.0,132.7 L466.6,134.0 L468.2,133.2 L469.8,135.3 L471.4,134.0 L473.0,134.8 L474.6,131.6 L476.2,132.8 L477.8,131.9 L479.4,135.0 L481.0,133.9 L482.6,132.6 L484.2,132.4 L485.8,133.6 L487.4,132.1 L489.0,131.8 L490.6,133.6 L492.2,136.2 L493.8,132.7 L495.4,132.3 L497.0,131.5 L498.6,131.3 L500.2,133.7 L501.8,134.1 L503.4,133.0 L505.0,133.4 L506.6,133.2 L508.2,133.2 L509.8,131.0 L511.4,132.4 L513.0,133.1" fill="none" stroke="#2a2a3a" stroke-width="0.7" stroke-dasharray="1.2,1.2"/>
<circle cx="393.0" cy="36.5" r="0.8" fill="#303050"/>
<circle cx="394.6" cy="38.0" r="0.8" fill="#303050"/>
<circle cx="396.2" cy="41.8" r="0.8" fill="#303050"/>
<circle cx="397.8" cy="47.0" r="0.8" fill="#303050"/>
<circle cx="399.4" cy="51.5" r="0.8" fill="#303050"/>
<circle cx="401.0" cy="56.3" r="0.8" fill="#303050"/>
<circle cx="402.6" cy="62.7" r="0.8" fill="#303050"/>
<circle cx="404.2" cy="69.6" r="0.8" fill="#303050"/>
<circle cx="405.8" cy="79.3" r="0.8" fill="#303050"/>
<circle cx="407.4" cy="82.5" r="0.8" fill="#303050"/>
<circle cx="409.0" cy="90.1" r="0.8" fill="#303050"/>
<circle cx="410.6" cy="96.7" r="0.8" fill="#303050"/>
<circle cx="412.2" cy="103.1" r="0.8" fill="#303050"/>
<circle cx="413.8" cy="108.7" r="0.8" fill="#303050"/>
<circle cx="415.4" cy="110.8" r="0.8" fill="#303050"/>
<circle cx="417.0" cy="114.2" r="0.8" fill="#303050"/>
<circle cx="418.6" cy="119.8" r="0.8" fill="#303050"/>
<circle cx="420.2" cy="124.2" r="0.8" fill="#303050"/>
<circle cx="421.8" cy="125.9" r="0.8" fill="#303050"/>
<circle cx="423.4" cy="127.1" r="0.8" fill="#303050"/>
<circle cx="425.0" cy="128.0" r="0.8" fill="#303050"/>
<circle cx="426.6" cy="129.9" r="0.8" fill="#303050"/>
<circle cx="428.2" cy="130.2" r="0.8" fill="#303050"/>
<circle cx="429.8" cy="132.2" r="0.8" fill="#303050"/>
<path d="M283.0,251.7 L283.5,251.7 L284.0,251.7 L284.5,251.7 L285.0,251.7 L285.5,251.7 L286.0,251.7 L286.5,251.7 L287.0,251.7 L287.5,251.8 L288.0,251.8 L288.5,251.8 L289.0,251.8 L289.5,251.8 L290.0,251.8 L290.5,251.8 L291.0,251.8 L291.5,251.8 L292.0,251.8 L292.5,251.8 L293.0,251.8 L293.5,251.8 L294.0,251.9 L294.5,251.9 L295.0,251.9 L295.5,251.9 L296.0,251.9 L296.5,251.9 L297.0,251.9 L297.5,251.9 L298.0,251.9 L298.5,251.9 L299.0,251.9 L299.5,251.9 L300.0,251.9 L300.5,251.9 L301.0,252.0 L301.5,252.0 L302.0,252.0 L302.5,252.0 L303.0,252.0 L303.5,252.0 L304.0,252.0 L304.5,252.0 L305.0,252.0 L305.5,252.0 L306.0,252.0 L306.5,252.0 L307.0,252.0 L307.5,252.1 L308.0,252.1 L308.5,252.1 L309.0,252.1 L309.5,252.1 L310.0,252.1 L310.5,252.1 L311.0,252.1 L311.5,252.1 L312.0,252.1 L312.5,252.1 L313.0,252.1 L313.5,252.1 L314.0,252.2 L314.5,252.2 L315.0,252.2 L315.5,252.2 L316.0,252.2 L316.5,252.2 L317.0,252.2 L317.5,252.2 L318.0,252.2 L318.5,252.2 L319.0,252.2 L319.5,252.2 L320.0,252.2 L320.5,252.3 L321.0,252.3 L321.5,252.3 L322.0,252.3 L322.5,252.3 L323.0,252.3 L323.5,252.3 L324.0,252.3 L324.5,252.3 L325.0,252.3 L325.5,252.3 L326.0,252.3 L326.5,252.3 L327.0,252.4 L327.5,252.4 L328.0,252.4 L328.5,252.4 L329.0,252.4 L329.5,252.4 L330.0,252.4 L330.5,252.4 L331.0,252.4 L331.5,252.4 L332.0,252.4 L332.5,252.4 L333.0,252.4 L333.5,252.4 L334.0,252.5 L334.5,252.5 L335.0,252.5 L335.5,252.5 L336.0,252.5 L336.5,252.5 L337.0,252.5 L337.5,252.5 L338.0,252.5 L338.5,252.5 L339.0,252.5 L339.5,252.5 L340.0,252.5 L340.5,252.6 L341.0,252.6 L341.5,252.6 L342.0,252.6 L342.5,252.6 L343.0,252.6 L343.5,252.6 L344.0,252.6 L344.5,252.6 L345.0,252.6 L345.5,252.6 L346.0,252.6 L346.5,252.6 L347.0,252.7 L347.5,252.7 L348.0,252.7 L348.5,252.7 L349.0,252.7 L349.5,252.7 L350.0,252.7 L350.5,252.7 L351.0,252.7 L351.5,252.7 L352.0,252.7 L352.5,252.7 L353.0,252.7 L353.5,252.8 L354.0,252.8 L354.5,252.8 L355.0,252.8 L355.5,252.8 L356.0,252.8 L356.5,252.8 L357.0,252.8 L357.5,252.8 L358.0,252.8 L358.5,252.8 L359.0,252.8 L359.5,252.8 L360.0,252.9 L360.5,252.9 L361.0,252.9 L361.5,252.9 L362.0,252.9 L362.5,252.9 L363.0,252.9 L363.5,252.9 L364.0,252.9 L364.5,252.9 L365.0,252.9 L365.5,252.9 L366.0,252.9 L366.5,252.9 L367.0,253.0 L367.5,253.0 L368.0,253.0 L368.5,253.0 L369.0,253.0 L369.5,253.0 L370.0,253.0 L370.5,253.0 L371.0,253.0 L371.5,253.0 L372.0,253.0 L372.5,253.0 L373.0,253.0 L373.5,253.1 L374.0,253.1 L374.5,253.1 L375.0,253.1 L375.5,253.1 L376.0,253.1 L376.5,253.1 L377.0,253.1 L377.5,253.1 L378.0,253.1 L378.5,253.1 L379.0,253.1 L379.5,253.1 L380.0,253.2 L380.5,253.2 L381.0,253.2 L381.5,253.2 L382.0,253.2 L382.5,253.2 L383.0,253.2 L383.5,253.2 L384.0,253.2 L384.5,253.2 L385.0,253.2 L385.5,253.2 L386.0,253.2 L386.5,253.3 L387.0,253.3 L387.5,253.3 L388.0,253.3 L388.5,253.3 L389.0,253.3 L389.5,253.3 L390.0,253.3 L390.5,253.3 L391.0,253.3 L391.5,253.3 L392.0,253.3 L392.5,253.3 L393.0,253.4 L393.5,253.4 L394.0,253.4 L394.5,253.4 L395.0,253.4 L395.5,253.4 L396.0,253.4 L396.5,253.4 L397.0,253.4 L397.5,253.4 L398.0,253.4 L398.5,253.4 L399.0,253.4 L399.5,253.4 L400.0,253.5 L400.5,253.5 L401.0,253.5 L401.5,253.5 L402.0,253.5 L402.5,253.5 L403.0,253.5 L403.5,253.5 L404.0,253.5 L404.5,253.5 L405.0,253.5 L405.5,253.5 L406.0,253.5 L406.5,253.6 L407.0,253.6 L407.5,253.6 L408.0,253.6 L408.5,253.6 L409.0,253.6 L409.5,253.6 L410.0,253.6 L410.5,253.6 L411.0,253.6 L411.5,253.6 L412.0,253.6 L412.5,253.6 L413.0,253.7 L413.5,253.7 L414.0,253.7 L414.5,253.7 L415.0,253.7 L415.5,253.7 L416.0,253.7 L416.5,253.7 L417.0,253.7 L417.5,253.7 L418.0,253.7 L418.5,253.7 L419.0,253.7 L419.5,253.8 L420.0,253.8 L420.5,253.8 L421.0,253.8 L421.5,253.8 L422.0,253.8 L422.5,253.8 L423.0,253.8 L423.5,253.8 L424.0,253.8 L424.5,253.8 L425.0,253.8 L425.5,253.8 L426.0,253.9 L426.5,253.9 L427.0,253.9 L427.5,253.9 L428.0,253.9 L428.5,253.9 L429.0,253.9 L429.5,253.9 L430.0,253.9 L430.5,253.9 L431.0,253.9 L431.5,253.9 L432.0,253.9 L432.5,253.9 L433.0,254.0 L433.5,254.0 L434.0,254.0 L434.5,254.0 L435.0,254.0 L435.5,254.0 L436.0,254.0 L436.5,254.0 L437.0,254.0 L437.5,254.0 L438.0,254.0 L438.5,254.0 L439.0,254.0 L439.5,254.1 L440.0,254.1 L440.5,254.1 L441.0,254.1 L441.5,254.1 L442.0,254.1 L442.5,254.1 L443.0,254.1 L443.5,254.1 L444.0,254.1 L444.5,254.1 L445.0,254.1 L445.5,254.1 L446.0,254.2 L446.5,254.2 L447.0,254.2 L447.5,254.2 L448.0,254.2 L448.5,254.2 L449.0,254.2 L449.5,254.2 L450.0,254.2 L450.5,254.2 L451.0,254.2 L451.5,254.2 L452.0,254.2 L452.5,254.3 L453.0,254.3 L453.5,254.3 L454.0,254.3 L454.5,254.3 L455.0,254.3 L455.5,254.3 L456.0,254.3 L456.5,254.3 L457.0,254.3 L457.5,254.3 L458.0,254.3 L458.5,254.3 L459.0,254.4 L459.5,254.4 L460.0,254.4 L460.5,254.4 L461.0,254.4 L461.5,254.4 L462.0,254.4 L462.5,254.4 L463.0,254.4 L463.5,254.4 L464.0,254.4 L464.5,254.4 L465.0,254.4 L465.5,254.4 L466.0,254.5 L466.5,254.5 L467.0,254.5 L467.5,254.5 L468.0,254.5 L468.5,254.5 L469.0,254.5 L469.5,254.5 L470.0,254.5 L470.5,254.5 L471.0,254.5 L471.5,254.5 L472.0,254.5 L472.5,254.6 L473.0,254.6 L473.5,254.6 L474.0,254.6 L474.5,254.6 L475.0,254.6 L475.5,254.6 L476.0,254.6 L476.5,254.6 L477.0,254.6 L477.5,254.6 L478.0,254.6 L478.5,254.6 L479.0,254.7 L479.5,254.7 L480.0,254.7 L480.5,254.7 L481.0,254.7 L481.5,254.7 L482.0,254.7 L482.5,254.7 L483.0,254.7 L483.5,254.7 L484.0,254.7 L484.5,254.7 L485.0,254.7 L485.5,254.8 L486.0,254.8 L486.5,254.8 L487.0,254.8 L487.5,254.8 L488.0,254.8 L488.5,254.8 L489.0,254.8 L489.5,254.8 L490.0,254.8 L490.5,254.8 L491.0,254.8 L491.5,254.8 L492.0,254.9 L492.5,254.9 L493.0,254.9 L493.5,254.9 L494.0,254.9 L494.5,254.9 L495.0,254.9 L495.5,254.9 L496.0,254.9 L496.5,254.9 L497.0,254.9 L497.5,254.9 L498.0,254.9 L498.5,254.9 L499.0,255.0 L499.5,255.0 L500.0,255.0 L500.5,255.0 L501.0,255.0 L501.5,255.0 L502.0,255.0 L502.5,255.0 L503.0,255.0 L503.5,255.0 L504.0,255.0 L504.5,255.0 L505.0,255.0 L505.5,255.1 L506.0,255.1 L506.5,255.1 L507.0,255.1 L507.5,255.1 L508.0,255.1 L508.5,255.1 L509.0,255.1 L509.5,255.1 L510.0,255.1 L510.5,255.1 L511.0,255.1 L511.5,255.1 L512.0,255.2 L512.5,255.2 L513.0,255.2 L513.5,255.2 L514.0,255.2 L514.5,255.2 L515.0,255.2" fill="none" stroke="#22c6d6" stroke-width="2"/>
<path d="M294.5,251.4 L295.0,251.4 L295.5,251.3 L296.0,251.3 L296.5,251.2 L297.0,251.2 L297.5,251.1 L298.0,251.1 L298.5,251.0 L299.0,250.9 L299.5,250.8 L300.0,250.7 L300.5,250.6 L301.0,250.5 L301.5,250.4 L302.0,250.2 L302.5,250.1 L303.0,250.0 L303.5,249.8 L304.0,249.6 L304.5,249.4 L305.0,249.2 L305.5,249.0 L306.0,248.8 L306.5,248.6 L307.0,248.3 L307.5,248.0 L308.0,247.8 L308.5,247.5 L309.0,247.1 L309.5,246.8 L310.0,246.5 L310.5,246.1 L311.0,245.7 L311.5,245.3 L312.0,244.9 L312.5,244.5 L313.0,244.1 L313.5,243.6 L314.0,243.1 L314.5,242.6 L315.0,242.1 L315.5,241.6 L316.0,241.0 L316.5,240.5 L317.0,239.9 L317.5,239.3 L318.0,238.7 L318.5,238.1 L319.0,237.5 L319.5,236.9 L320.0,236.3 L320.5,235.6 L321.0,235.0 L321.5,234.3 L322.0,233.7 L322.5,233.0 L323.0,232.3 L323.5,231.7 L324.0,231.0 L324.5,230.4 L325.0,229.7 L325.5,229.1 L326.0,228.5 L326.5,227.9 L327.0,227.3 L327.5,226.7 L328.0,226.1 L328.5,225.6 L329.0,225.1 L329.5,224.6 L330.0,224.1 L330.5,223.6 L331.0,223.2 L331.5,222.8 L332.0,222.5 L332.5,222.1 L333.0,221.8 L333.5,221.6 L334.0,221.3 L334.5,221.1 L335.0,221.0 L335.5,220.8 L336.0,220.8 L336.5,220.7 L337.0,220.7 L337.5,220.7 L338.0,220.8 L338.5,221.0 L339.0,221.2 L339.5,221.5 L340.0,221.8 L340.5,222.2 L341.0,222.6 L341.5,223.1 L342.0,223.6 L342.5,224.2 L343.0,224.8 L343.5,225.5 L344.0,226.2 L344.5,226.9 L345.0,227.7 L345.5,228.4 L346.0,229.2 L346.5,230.0 L347.0,230.9 L347.5,231.7 L348.0,232.5 L348.5,233.4 L349.0,234.2 L349.5,235.1 L350.0,235.9 L350.5,236.7 L351.0,237.6 L351.5,238.4 L352.0,239.1 L352.5,239.9 L353.0,240.7 L353.5,241.4 L354.0,242.1 L354.5,242.8 L355.0,243.4 L355.5,244.1 L356.0,244.7 L356.5,245.2 L357.0,245.8 L357.5,246.3 L358.0,246.8 L358.5,247.3 L359.0,247.7 L359.5,248.2 L360.0,248.5 L360.5,248.9 L361.0,249.3 L361.5,249.6 L362.0,249.9 L362.5,250.2 L363.0,250.4 L363.5,250.7 L364.0,250.9 L364.5,251.1 L365.0,251.3 L365.5,251.5 L366.0,251.6 L366.5,251.8 L367.0,251.9 L367.5,252.0 L368.0,252.1 L368.5,252.2 L369.0,252.3 L369.5,252.4 L370.0,252.5 L370.5,252.6 L371.0,252.6" fill="none" stroke="#e0a526" stroke-width="1.2"/>
<path d="M316.0,251.8 L316.5,251.7 L317.0,251.6 L317.5,251.6 L318.0,251.5 L318.5,251.4 L319.0,251.4 L319.5,251.3 L320.0,251.1 L320.5,251.0 L321.0,250.9 L321.5,250.8 L322.0,250.6 L322.5,250.4 L323.0,250.2 L323.5,250.0 L324.0,249.8 L324.5,249.6 L325.0,249.3 L325.5,249.0 L326.0,248.7 L326.5,248.4 L327.0,248.0 L327.5,247.6 L328.0,247.2 L328.5,246.8 L329.0,246.3 L329.5,245.8 L330.0,245.3 L330.5,244.7 L331.0,244.2 L331.5,243.5 L332.0,242.9 L332.5,242.2 L333.0,241.5 L333.5,240.7 L334.0,239.9 L334.5,239.1 L335.0,238.3 L335.5,237.4 L336.0,236.5 L336.5,235.5 L337.0,234.6 L337.5,233.6 L338.0,232.6 L338.5,231.5 L339.0,230.5 L339.5,229.4 L340.0,228.3 L340.5,227.2 L341.0,226.1 L341.5,225.0 L342.0,223.9 L342.5,222.8 L343.0,221.7 L343.5,220.6 L344.0,219.5 L344.5,218.4 L345.0,217.4 L345.5,216.4 L346.0,215.4 L346.5,214.4 L347.0,213.5 L347.5,212.6 L348.0,211.8 L348.5,211.0 L349.0,210.3 L349.5,209.6 L350.0,209.0 L350.5,208.5 L351.0,208.0 L351.5,207.6 L352.0,207.2 L352.5,207.0 L353.0,206.8 L353.5,206.6 L354.0,206.6 L354.5,206.6 L355.0,206.7 L355.5,206.9 L356.0,207.1 L356.5,207.4 L357.0,207.8 L357.5,208.3 L358.0,208.9 L358.5,209.5 L359.0,210.2 L359.5,210.9 L360.0,211.7 L360.5,212.6 L361.0,213.5 L361.5,214.5 L362.0,215.5 L362.5,216.5 L363.0,217.6 L363.5,218.7 L364.0,219.8 L364.5,221.0 L365.0,222.1 L365.5,223.3 L366.0,224.5 L366.5,225.6 L367.0,226.8 L367.5,228.0 L368.0,229.1 L368.5,230.3 L369.0,231.4 L369.5,232.5 L370.0,233.6 L370.5,234.6 L371.0,235.7 L371.5,236.7 L372.0,237.7 L372.5,238.6 L373.0,239.5 L373.5,240.4 L374.0,241.2 L374.5,242.0 L375.0,242.8 L375.5,243.5 L376.0,244.2 L376.5,244.9 L377.0,245.5 L377.5,246.1 L378.0,246.7 L378.5,247.2 L379.0,247.7 L379.5,248.1 L380.0,248.6 L380.5,249.0 L381.0,249.4 L381.5,249.7 L382.0,250.0 L382.5,250.3 L383.0,250.6 L383.5,250.9 L384.0,251.1 L384.5,251.3 L385.0,251.5 L385.5,251.7 L386.0,251.9 L386.5,252.0 L387.0,252.2 L387.5,252.3 L388.0,252.4 L388.5,252.5 L389.0,252.6 L389.5,252.7 L390.0,252.8 L390.5,252.8 L391.0,252.9" fill="none" stroke="#a55ee0" stroke-width="1.2"/>
<path d="M331.5,252.0 L332.0,252.0 L332.5,251.9 L333.0,251.9 L333.5,251.8 L334.0,251.7 L334.5,251.6 L335.0,251.6 L335.5,251.5 L336.0,251.3 L336.5,251.2 L337.0,251.1 L337.5,250.9 L338.0,250.8 L338.5,250.6 L339.0,250.4 L339.5,250.2 L340.0,249.9 L340.5,249.7 L341.0,249.4 L341.5,249.1 L342.0,248.7 L342.5,248.4 L343.0,248.0 L343.5,247.6 L344.0,247.1 L344.5,246.7 L345.0,246.2 L345.5,245.6 L346.0,245.0 L346.5,244.4 L347.0,243.7 L347.5,243.1 L348.0,242.3 L348.5,241.5 L349.0,240.7 L349.5,239.8 L350.0,238.9 L350.5,238.0 L351.0,237.0 L351.5,236.0 L352.0,234.9 L352.5,233.8 L353.0,232.6 L353.5,231.4 L354.0,230.1 L354.5,228.9 L355.0,227.5 L355.5,226.2 L356.0,224.8 L356.5,223.4 L357.0,222.0 L357.5,220.5 L358.0,219.0 L358.5,217.5 L359.0,216.0 L359.5,214.5 L360.0,212.9 L360.5,211.4 L361.0,209.9 L361.5,208.4 L362.0,206.9 L362.5,205.4 L363.0,203.9 L363.5,202.5 L364.0,201.1 L364.5,199.8 L365.0,198.5 L365.5,197.2 L366.0,196.0 L366.5,194.9 L367.0,193.8 L367.5,192.8 L368.0,191.9 L368.5,191.0 L369.0,190.2 L369.5,189.5 L370.0,188.9 L370.5,188.4 L371.0,188.0 L371.5,187.7 L372.0,187.4 L372.5,187.3 L373.0,187.2 L373.5,187.3 L374.0,187.5 L374.5,187.7 L375.0,188.1 L375.5,188.5 L376.0,189.0 L376.5,189.6 L377.0,190.4 L377.5,191.1 L378.0,192.0 L378.5,193.0 L379.0,194.0 L379.5,195.1 L380.0,196.2 L380.5,197.4 L381.0,198.7 L381.5,200.0 L382.0,201.4 L382.5,202.8 L383.0,204.3 L383.5,205.7 L384.0,207.2 L384.5,208.7 L385.0,210.3 L385.5,211.8 L386.0,213.3 L386.5,214.9 L387.0,216.4 L387.5,217.9 L388.0,219.5 L388.5,221.0 L389.0,222.4 L389.5,223.9 L390.0,225.3 L390.5,226.7 L391.0,228.1 L391.5,229.4 L392.0,230.7 L392.5,232.0 L393.0,233.2 L393.5,234.4 L394.0,235.5 L394.5,236.6 L395.0,237.7 L395.5,238.7 L396.0,239.6 L396.5,240.6 L397.0,241.4 L397.5,242.3 L398.0,243.1 L398.5,243.8 L399.0,244.5 L399.5,245.2 L400.0,245.8 L400.5,246.4 L401.0,247.0 L401.5,247.5 L402.0,248.0 L402.5,248.5 L403.0,248.9 L403.5,249.3 L404.0,249.7 L404.5,250.0 L405.0,250.4 L405.5,250.6 L406.0,250.9 L406.5,251.2 L407.0,251.4 L407.5,251.6 L408.0,251.8 L408.5,252.0 L409.0,252.2 L409.5,252.3 L410.0,252.5 L410.5,252.6 L411.0,252.7 L411.5,252.8 L412.0,252.9 L412.5,253.0 L413.0,253.1 L413.5,253.1 L414.0,253.2 L414.5,253.3" fill="none" stroke="#3a9f5a" stroke-width="1.2" stroke-dasharray="1.8,1"/>
<path d="M354.5,252.4 L355.0,252.3 L355.5,252.3 L356.0,252.2 L356.5,252.1 L357.0,252.0 L357.5,251.9 L358.0,251.8 L358.5,251.7 L359.0,251.6 L359.5,251.5 L360.0,251.3 L360.5,251.1 L361.0,250.9 L361.5,250.7 L362.0,250.5 L362.5,250.3 L363.0,250.0 L363.5,249.7 L364.0,249.3 L364.5,249.0 L365.0,248.6 L365.5,248.2 L366.0,247.7 L366.5,247.2 L367.0,246.7 L367.5,246.1 L368.0,245.5 L368.5,244.8 L369.0,244.1 L369.5,243.3 L370.0,242.5 L370.5,241.7 L371.0,240.8 L371.5,239.8 L372.0,238.8 L372.5,237.7 L373.0,236.6 L373.5,235.4 L374.0,234.1 L374.5,232.8 L375.0,231.5 L375.5,230.0 L376.0,228.6 L376.5,227.0 L377.0,225.5 L377.5,223.8 L378.0,222.1 L378.5,220.4 L379.0,218.6 L379.5,216.8 L380.0,214.9 L380.5,213.0 L381.0,211.1 L381.5,209.2 L382.0,207.2 L382.5,205.2 L383.0,203.2 L383.5,201.2 L384.0,199.3 L384.5,197.3 L385.0,195.3 L385.5,193.4 L386.0,191.5 L386.5,189.6 L387.0,187.8 L387.5,186.0 L388.0,184.3 L388.5,182.7 L389.0,181.1 L389.5,179.6 L390.0,178.2 L390.5,176.8 L391.0,175.6 L391.5,174.5 L392.0,173.5 L392.5,172.6 L393.0,171.8 L393.5,171.1 L394.0,170.6 L394.5,170.2 L395.0,169.9 L395.5,169.7 L396.0,169.7 L396.5,169.8 L397.0,170.1 L397.5,170.5 L398.0,171.0 L398.5,171.7 L399.0,172.5 L399.5,173.4 L400.0,174.5 L400.5,175.7 L401.0,177.0 L401.5,178.4 L402.0,179.9 L402.5,181.5 L403.0,183.2 L403.5,185.0 L404.0,186.9 L404.5,188.8 L405.0,190.7 L405.5,192.8 L406.0,194.8 L406.5,196.9 L407.0,199.0 L407.5,201.1 L408.0,203.2 L408.5,205.4 L409.0,207.5 L409.5,209.6 L410.0,211.6 L410.5,213.7 L411.0,215.7 L411.5,217.7 L412.0,219.6 L412.5,221.5 L413.0,223.3 L413.5,225.1 L414.0,226.8 L414.5,228.5 L415.0,230.1 L415.5,231.6 L416.0,233.1 L416.5,234.5 L417.0,235.9 L417.5,237.2 L418.0,238.4 L418.5,239.5 L419.0,240.6 L419.5,241.7 L420.0,242.6 L420.5,243.5 L421.0,244.4 L421.5,245.2 L422.0,245.9 L422.5,246.6 L423.0,247.3 L423.5,247.9 L424.0,248.4 L424.5,248.9 L425.0,249.4 L425.5,249.8 L426.0,250.2 L426.5,250.6 L427.0,251.0 L427.5,251.3 L428.0,251.5 L428.5,251.8 L429.0,252.0 L429.5,252.2 L430.0,252.4 L430.5,252.6 L431.0,252.8 L431.5,252.9 L432.0,253.0 L432.5,253.2 L433.0,253.3 L433.5,253.3 L434.0,253.4 L434.5,253.5 L435.0,253.6" fill="none" stroke="#2f5fd6" stroke-width="1.2" stroke-dasharray="1.8,1"/>
<path d="M290.0,252.0 L290.5,252.0 L291.0,251.9 L291.5,251.9 L292.0,251.8 L292.5,251.7 L293.0,251.6 L293.5,251.5 L294.0,251.4 L294.5,251.3 L295.0,251.2 L295.5,251.1 L296.0,251.0 L296.5,250.9 L297.0,250.7 L297.5,250.6 L298.0,250.4 L298.5,250.3 L299.0,250.1 L299.5,249.9 L300.0,249.7 L300.5,249.5 L301.0,249.2 L301.5,249.0 L302.0,248.8 L302.5,248.5 L303.0,248.3 L303.5,248.1 L304.0,247.8 L304.5,247.5 L305.0,247.3 L305.5,247.0 L306.0,246.7 L306.5,246.4 L307.0,246.1 L307.5,245.8 L308.0,245.4 L308.5,245.0 L309.0,244.7 L309.5,244.3 L310.0,243.8 L310.5,243.3 L311.0,242.8 L311.5,242.2 L312.0,241.6 L312.5,240.9 L313.0,240.2 L313.5,239.6 L314.0,238.9 L314.5,238.2 L315.0,237.5 L315.5,236.8 L316.0,236.2 L316.5,235.5 L317.0,234.8 L317.5,234.1 L318.0,233.4 L318.5,232.7 L319.0,231.9 L319.5,231.2 L320.0,230.4 L320.5,229.5 L321.0,228.6 L321.5,227.7 L322.0,226.8 L322.5,225.9 L323.0,224.9 L323.5,224.0 L324.0,223.0 L324.5,222.0 L325.0,221.0 L325.5,220.0 L326.0,218.9 L326.5,217.9 L327.0,216.8 L327.5,215.8 L328.0,214.7 L328.5,213.6 L329.0,212.6 L329.5,211.5 L330.0,210.4 L330.5,209.4 L331.0,208.3 L331.5,207.3 L332.0,206.2 L332.5,205.1 L333.0,204.1 L333.5,203.0 L334.0,202.0 L334.5,200.9 L335.0,199.8 L335.5,198.8 L336.0,197.7 L336.5,196.6 L337.0,195.6 L337.5,194.5 L338.0,193.4 L338.5,192.3 L339.0,191.2 L339.5,190.2 L340.0,189.2 L340.5,188.2 L341.0,187.2 L341.5,186.3 L342.0,185.4 L342.5,184.6 L343.0,183.7 L343.5,182.9 L344.0,182.1 L344.5,181.3 L345.0,180.5 L345.5,179.7 L346.0,179.0 L346.5,178.3 L347.0,177.5 L347.5,176.8 L348.0,176.2 L348.5,175.5 L349.0,174.9 L349.5,174.3 L350.0,173.7 L350.5,173.1 L351.0,172.5 L351.5,172.0 L352.0,171.5 L352.5,170.9 L353.0,170.4 L353.5,170.0 L354.0,169.5 L354.5,169.0 L355.0,168.5 L355.5,168.0 L356.0,167.6 L356.5,167.1 L357.0,166.7 L357.5,166.2 L358.0,165.8 L358.5,165.3 L359.0,164.9 L359.5,164.5 L360.0,164.1 L360.5,163.6 L361.0,163.2 L361.5,162.8 L362.0,162.4 L362.5,161.9 L363.0,161.5 L363.5,161.1 L364.0,160.6 L364.5,160.2 L365.0,159.8 L365.5,159.4 L366.0,159.0 L366.5,158.7 L367.0,158.3 L367.5,157.9 L368.0,157.6 L368.5,157.3 L369.0,157.0 L369.5,156.7 L370.0,156.4 L370.5,156.2 L371.0,155.9 L371.5,155.7 L372.0,155.4 L372.5,155.2 L373.0,155.0 L373.5,154.7 L374.0,154.5 L374.5,154.3 L375.0,154.1 L375.5,153.9 L376.0,153.7 L376.5,153.5 L377.0,153.3 L377.5,153.1 L378.0,152.9 L378.5,152.7 L379.0,152.5 L379.5,152.3 L380.0,152.1 L380.5,151.9 L381.0,151.7 L381.5,151.5 L382.0,151.3 L382.5,151.1 L383.0,151.0 L383.5,150.8 L384.0,150.6 L384.5,150.4 L385.0,150.3 L385.5,150.1 L386.0,149.9 L386.5,149.8 L387.0,149.6 L387.5,149.5 L388.0,149.3 L388.5,149.1 L389.0,148.9 L389.5,148.8 L390.0,148.6 L390.5,148.4 L391.0,148.3 L391.5,148.2 L392.0,148.2 L392.5,148.3 L393.0,148.6 L393.5,149.0 L394.0,149.5 L394.5,150.1 L395.0,150.8 L395.5,151.5 L396.0,152.4 L396.5,153.6 L397.0,155.1 L397.5,156.8 L398.0,158.7 L398.5,160.8 L399.0,163.0 L399.5,165.2 L400.0,167.5 L400.5,169.7 L401.0,171.8 L401.5,173.9 L402.0,176.0 L402.5,178.1 L403.0,180.3 L403.5,182.5 L404.0,184.7 L404.5,186.9 L405.0,189.2 L405.5,191.4 L406.0,193.6 L406.5,195.8 L407.0,197.9 L407.5,200.0 L408.0,202.1 L408.5,204.2 L409.0,206.2 L409.5,208.3 L410.0,210.3 L410.5,212.3 L411.0,214.3 L411.5,216.3 L412.0,218.1 L412.5,220.0 L413.0,221.8 L413.5,223.5 L414.0,225.2 L414.5,227.0 L415.0,228.7 L415.5,230.4 L416.0,232.1 L416.5,233.7 L417.0,235.2 L417.5,236.6 L418.0,238.0 L418.5,239.2 L419.0,240.2 L419.5,241.1 L420.0,242.0 L420.5,242.9 L421.0,243.7 L421.5,244.5 L422.0,245.2 L422.5,246.0 L423.0,246.6 L423.5,247.3 L424.0,247.9 L424.5,248.4 L425.0,249.0 L425.5,249.4 L426.0,249.8 L426.5,250.2 L427.0,250.5 L427.5,250.8 L428.0,251.0 L428.5,251.3 L429.0,251.6 L429.5,251.8 L430.0,252.0 L430.5,252.2 L431.0,252.4 L431.5,252.6 L432.0,252.8 L432.5,252.9 L433.0,253.1 L433.5,253.2 L434.0,253.3 L434.5,253.3 L435.0,253.4 L435.5,253.4 L436.0,253.5 L436.5,253.5 L437.0,253.6 L437.5,253.6 L438.0,253.6 L438.5,253.7 L439.0,253.7 L439.5,253.7 L440.0,253.8 L440.5,253.8 L441.0,253.8 L441.5,253.8 L442.0,253.8 L442.5,253.9 L443.0,253.9 L443.5,253.9 L444.0,253.9 L444.5,253.9 L445.0,253.9" fill="none" stroke="#e8322a" stroke-width="1.5"/>
<path d="M277.5,250.6 L278.5,250.8 L279.5,250.5 L280.5,250.9 L281.5,251.9 L282.5,250.9 L283.5,251.1" fill="none" stroke="#e8322a" stroke-width="1.2"/>
<path d="M278.0,251.8 L279.6,251.6 L281.2,252.9 L282.8,248.4 L284.4,251.9 L286.0,250.4 L287.6,251.1 L289.2,252.0 L290.8,252.4 L292.4,252.2 L294.0,250.8 L295.6,252.2 L297.2,249.5 L298.8,249.2 L300.4,249.7 L302.0,247.3 L303.6,249.8 L305.2,247.6 L306.8,248.0 L308.4,244.3 L310.0,242.6 L311.6,241.5 L313.2,240.1 L314.8,236.3 L316.4,235.3 L318.0,232.6 L319.6,232.1 L321.2,226.7 L322.8,225.8 L324.4,220.6 L326.0,217.0 L327.6,213.9 L329.2,209.9 L330.8,208.1 L332.4,205.8 L334.0,201.4 L335.6,198.5 L337.2,196.3 L338.8,191.2 L340.4,187.8 L342.0,184.3 L343.6,180.0 L345.2,180.3 L346.8,174.9 L348.4,175.6 L350.0,172.8 L351.6,172.4 L353.2,169.4 L354.8,166.9 L356.4,166.8 L358.0,164.3 L359.6,163.4 L361.2,162.3 L362.8,160.7 L364.4,159.3 L366.0,157.2 L367.6,156.9 L369.2,153.5 L370.8,155.0 L372.4,153.0 L374.0,155.0 L375.6,154.6 L377.2,150.0 L378.8,151.9 L380.4,151.0 L382.0,149.3 L383.6,150.6 L385.2,148.8 L386.8,146.8 L388.4,148.0 L390.0,147.6 L391.6,147.5 L393.2,146.4 L394.8,150.5 L396.4,153.4 L398.0,156.6 L399.6,164.1 L401.2,171.8 L402.8,177.9 L404.4,187.8 L406.0,193.1 L407.6,198.4 L409.2,205.3 L410.8,212.7 L412.4,221.6 L414.0,224.2 L415.6,230.1 L417.2,235.6 L418.8,239.0 L420.4,244.6 L422.0,243.8 L423.6,247.5 L425.2,248.5 L426.8,250.3 L428.4,249.0 L430.0,253.3 L431.6,251.7 L433.2,252.3 L434.8,251.5 L436.4,251.8 L438.0,253.5 L439.6,254.1 L441.2,253.9 L442.8,254.5 L444.4,254.0 L446.0,253.4 L447.6,254.4 L449.2,254.1 L450.8,253.3 L452.4,254.3 L454.0,255.0 L455.6,253.8 L457.2,253.1 L458.8,254.4 L460.4,255.9 L462.0,253.3 L463.6,253.5 L465.2,253.5 L466.8,255.1 L468.4,251.5 L470.0,254.2 L471.6,255.2 L473.2,252.8 L474.8,255.6 L476.4,254.5 L478.0,253.2 L479.6,254.1 L481.2,252.0 L482.8,253.2 L484.4,256.1 L486.0,252.9 L487.6,256.2 L489.2,253.9 L490.8,255.2 L492.4,254.1 L494.0,251.4 L495.6,253.4 L497.2,254.4 L498.8,252.8 L500.4,252.6 L502.0,254.6 L503.6,253.4 L505.2,252.2 L506.8,253.5 L508.4,255.3 L510.0,253.8 L511.6,255.5 L513.2,256.2" fill="none" stroke="#2a2a3a" stroke-width="0.7" stroke-dasharray="1.2,1.2"/>
<circle cx="278.0" cy="251.8" r="0.75" fill="#303048"/>
<circle cx="279.6" cy="251.6" r="0.75" fill="#303048"/>
<circle cx="281.2" cy="252.9" r="0.75" fill="#303048"/>
<circle cx="282.8" cy="248.4" r="0.75" fill="#303048"/>
<circle cx="284.4" cy="251.9" r="0.75" fill="#303048"/>
<circle cx="286.0" cy="250.4" r="0.75" fill="#303048"/>
<circle cx="287.6" cy="251.1" r="0.75" fill="#303048"/>
<circle cx="289.2" cy="252.0" r="0.75" fill="#303048"/>
<circle cx="290.8" cy="252.4" r="0.75" fill="#303048"/>
<circle cx="292.4" cy="252.2" r="0.75" fill="#303048"/>
<circle cx="294.0" cy="250.8" r="0.75" fill="#303048"/>
<circle cx="295.6" cy="252.2" r="0.75" fill="#303048"/>
<circle cx="297.2" cy="249.5" r="0.75" fill="#303048"/>
<circle cx="298.8" cy="249.2" r="0.75" fill="#303048"/>
<circle cx="441.2" cy="253.9" r="0.75" fill="#303048"/>
<circle cx="442.8" cy="254.5" r="0.75" fill="#303048"/>
<circle cx="444.4" cy="254.0" r="0.75" fill="#303048"/>
<circle cx="446.0" cy="253.4" r="0.75" fill="#303048"/>
<circle cx="447.6" cy="254.4" r="0.75" fill="#303048"/>
<circle cx="449.2" cy="254.1" r="0.75" fill="#303048"/>
<circle cx="450.8" cy="253.3" r="0.75" fill="#303048"/>
<circle cx="452.4" cy="254.3" r="0.75" fill="#303048"/>
<circle cx="454.0" cy="255.0" r="0.75" fill="#303048"/>
<circle cx="455.6" cy="253.8" r="0.75" fill="#303048"/>
<circle cx="457.2" cy="253.1" r="0.75" fill="#303048"/>
<circle cx="458.8" cy="254.4" r="0.75" fill="#303048"/>
<circle cx="460.4" cy="255.9" r="0.75" fill="#303048"/>
<circle cx="462.0" cy="253.3" r="0.75" fill="#303048"/>
<circle cx="463.6" cy="253.5" r="0.75" fill="#303048"/>
<circle cx="465.2" cy="253.5" r="0.75" fill="#303048"/>
<circle cx="466.8" cy="255.1" r="0.75" fill="#303048"/>
<circle cx="468.4" cy="251.5" r="0.75" fill="#303048"/>
<circle cx="470.0" cy="254.2" r="0.75" fill="#303048"/>
<circle cx="471.6" cy="255.2" r="0.75" fill="#303048"/>
<circle cx="473.2" cy="252.8" r="0.75" fill="#303048"/>
<circle cx="474.8" cy="255.6" r="0.75" fill="#303048"/>
<circle cx="476.4" cy="254.5" r="0.75" fill="#303048"/>
<circle cx="478.0" cy="253.2" r="0.75" fill="#303048"/>
<circle cx="479.6" cy="254.1" r="0.75" fill="#303048"/>
<circle cx="481.2" cy="252.0" r="0.75" fill="#303048"/>
<circle cx="482.8" cy="253.2" r="0.75" fill="#303048"/>
<circle cx="484.4" cy="256.1" r="0.75" fill="#303048"/>
<circle cx="486.0" cy="252.9" r="0.75" fill="#303048"/>
<circle cx="487.6" cy="256.2" r="0.75" fill="#303048"/>
<circle cx="489.2" cy="253.9" r="0.75" fill="#303048"/>
<circle cx="490.8" cy="255.2" r="0.75" fill="#303048"/>
<circle cx="492.4" cy="254.1" r="0.75" fill="#303048"/>
<circle cx="494.0" cy="251.4" r="0.75" fill="#303048"/>
<circle cx="495.6" cy="253.4" r="0.75" fill="#303048"/>
<circle cx="497.2" cy="254.4" r="0.75" fill="#303048"/>
<circle cx="498.8" cy="252.8" r="0.75" fill="#303048"/>
<circle cx="500.4" cy="252.6" r="0.75" fill="#303048"/>
<circle cx="502.0" cy="254.6" r="0.75" fill="#303048"/>
<circle cx="503.6" cy="253.4" r="0.75" fill="#303048"/>
<circle cx="505.2" cy="252.2" r="0.75" fill="#303048"/>
<circle cx="506.8" cy="253.5" r="0.75" fill="#303048"/>
<circle cx="508.4" cy="255.3" r="0.75" fill="#303048"/>
<circle cx="510.0" cy="253.8" r="0.75" fill="#303048"/>
<circle cx="511.6" cy="255.5" r="0.75" fill="#303048"/>
<circle cx="513.2" cy="256.2" r="0.75" fill="#303048"/>
<path d="M394.0,149.8 L394.9,150.0 L395.8,151.3 L396.7,154.4 L397.6,158.2 L398.5,161.3 L399.4,165.5 L400.3,168.7 L401.2,173.2 L402.1,176.3 L403.0,180.3 L403.9,183.5 L404.8,187.3 L405.7,192.2 L406.6,195.7 L407.5,199.6 L408.4,204.6 L409.3,207.7 L410.2,213.8 L411.1,215.7 L412.0,217.9 L412.9,222.3 L413.8,225.1 L414.7,227.4 L415.6,231.9 L416.5,233.3 L417.4,234.2 L418.3,239.6 L419.2,240.4 L420.1,243.7 L421.0,243.5 L421.9,244.4 L422.8,247.9 L423.7,247.0 L424.6,249.0 L425.5,250.9 L426.4,250.5 L427.3,250.9 L428.2,251.5 L429.1,252.6 L430.0,251.7 L430.9,253.2 L431.8,253.5 L432.7,255.1 L433.6,253.2 L434.5,252.9 L435.4,254.3 L436.3,253.5 L437.2,254.1 L438.1,254.1 L439.0,254.9 L439.9,253.5" fill="none" stroke="#283058" stroke-width="1.1" stroke-dasharray="1.4,0.6"/>
<circle cx="394.4" cy="149.8" r="0.85" fill="#283058"/>
<circle cx="396.2" cy="151.3" r="0.85" fill="#283058"/>
<circle cx="398.0" cy="158.2" r="0.85" fill="#283058"/>
<circle cx="399.8" cy="165.5" r="0.85" fill="#283058"/>
<circle cx="401.6" cy="173.2" r="0.85" fill="#283058"/>
<circle cx="403.4" cy="180.3" r="0.85" fill="#283058"/>
<circle cx="405.2" cy="187.3" r="0.85" fill="#283058"/>
<circle cx="407.0" cy="195.7" r="0.85" fill="#283058"/>
<circle cx="408.8" cy="204.6" r="0.85" fill="#283058"/>
<circle cx="410.6" cy="213.8" r="0.85" fill="#283058"/>
<circle cx="412.4" cy="217.9" r="0.85" fill="#283058"/>
<circle cx="414.2" cy="225.1" r="0.85" fill="#283058"/>
<circle cx="416.0" cy="231.9" r="0.85" fill="#283058"/>
<circle cx="417.8" cy="234.2" r="0.85" fill="#283058"/>
<circle cx="419.6" cy="240.4" r="0.85" fill="#283058"/>
<circle cx="421.4" cy="243.5" r="0.85" fill="#283058"/>
<circle cx="423.2" cy="247.9" r="0.85" fill="#283058"/>
<circle cx="425.0" cy="249.0" r="0.85" fill="#283058"/>
<circle cx="426.8" cy="250.5" r="0.85" fill="#283058"/>
<circle cx="428.6" cy="251.5" r="0.85" fill="#283058"/>
<circle cx="430.4" cy="251.7" r="0.85" fill="#283058"/>
<circle cx="432.2" cy="253.5" r="0.85" fill="#283058"/>
<circle cx="434.0" cy="253.2" r="0.85" fill="#283058"/>
<circle cx="435.8" cy="254.3" r="0.85" fill="#283058"/>
<circle cx="437.6" cy="254.1" r="0.85" fill="#283058"/>
<circle cx="439.4" cy="254.9" r="0.85" fill="#283058"/>
<text x="390" y="22.448" font-size="6.8" font-weight="bold" text-anchor="middle" fill="#1a1a1a" >Ga-N</text>
<text x="390.8" y="30.648" font-size="6.8" font-weight="bold" text-anchor="middle" fill="#1a1a1a" >( 20.2 eV)</text>
<text x="360.8" y="54.248" font-size="6.8" font-weight="bold" text-anchor="middle" fill="#1a1a1a" >Ga-F</text>
<text x="361.5" y="62.448" font-size="6.8" font-weight="bold" text-anchor="middle" fill="#1a1a1a" >( 21.1 eV)</text>
<text x="468.3" y="117.24799999999999" font-size="6.8" font-weight="bold" text-anchor="middle" fill="#1a1a1a" >N 2s</text>
<text x="469.5" y="124.948" font-size="6.8" font-weight="bold" text-anchor="middle" fill="#1a1a1a" >( 17.1 eV)</text>
<text x="405.6" y="148.74800000000002" font-size="6.8" font-weight="bold" text-anchor="middle" fill="#1a1a1a" >Ga-N</text>
<text x="408.1" y="157.448" font-size="6.8" font-weight="bold" text-anchor="middle" fill="#1a1a1a" >( 20 eV)</text>
<text x="370" y="169.948" font-size="6.8" font-weight="bold" text-anchor="middle" fill="#1a1a1a" >Ga-F</text>
<text x="372.1" y="178.74800000000002" font-size="6.8" font-weight="bold" text-anchor="middle" fill="#1a1a1a" >( 21 eV)</text>
<text x="352.5" y="192.448" font-size="6.8" font-weight="bold" text-anchor="middle" fill="#1a1a1a" >Ga-F<tspan baseline-shift="-1.8" font-size="5.3">2</tspan></text>
<text x="354.1" y="201.948" font-size="6.8" font-weight="bold" text-anchor="middle" fill="#1a1a1a" >( 21.8 eV)</text>
<text x="315" y="203.24800000000002" font-size="6.8" font-weight="bold" text-anchor="middle" fill="#1a1a1a" >Ga-F<tspan baseline-shift="-1.8" font-size="5.3">3</tspan></text>
<text x="314.8" y="211.948" font-size="6.8" font-weight="bold" text-anchor="middle" fill="#1a1a1a" >( 22.5 eV)</text>
<text x="280.6" y="22.5" font-size="7.15" font-weight="bold" text-anchor="start" fill="#111" >After SF<tspan baseline-shift="-1.8" font-size="5.3">6</tspan>/Ar plasma</text>
<text x="280.3" y="149.1" font-size="7.15" font-weight="bold" text-anchor="start" fill="#111" >After CHF<tspan baseline-shift="-1.8" font-size="5.3">3</tspan>/CF<tspan baseline-shift="-1.8" font-size="5.3">4</tspan>/Ar plasma</text>
<rect x="448.6" y="14.5" width="66.4" height="57.8" fill="#fff" stroke="#a0a0a0" stroke-width="0.7"/>
<line x1="450" y1="18.9" x2="463" y2="18.9" stroke="#333" stroke-width="0.6" stroke-dasharray="1.5,1" opacity="0.8"/>
<circle cx="456.5" cy="18.9" r="0.9" fill="#333"/>
<text x="465" y="21.099999999999998" font-size="6.15" font-weight="normal" text-anchor="start" fill="#3a3a3a" >Aquired data</text>
<line x1="450" y1="26.6" x2="463" y2="26.6" stroke="#e8322a" stroke-width="0.6" stroke-dasharray="1.5,1" opacity="0.8"/>
<circle cx="456.5" cy="26.6" r="0.9" fill="#e8322a"/>
<text x="465" y="28.8" font-size="6.15" font-weight="normal" text-anchor="start" fill="#3a3a3a" >Fitted envelope</text>
<line x1="450" y1="34.3" x2="463" y2="34.3" stroke="#2f5fd6" stroke-width="0.6" stroke-dasharray="1.5,1" opacity="0.8"/>
<circle cx="456.5" cy="34.3" r="0.9" fill="#2f5fd6"/>
<text x="465" y="36.5" font-size="6.15" font-weight="normal" text-anchor="start" fill="#3a3a3a" >Fitted Ga-N peak</text>
<line x1="450" y1="42.0" x2="463" y2="42.0" stroke="#3a9f5a" stroke-width="0.6" stroke-dasharray="1.5,1" opacity="0.8"/>
<circle cx="456.5" cy="42.0" r="0.9" fill="#3a9f5a"/>
<text x="465" y="44.2" font-size="6.15" font-weight="normal" text-anchor="start" fill="#3a3a3a" >Fitted Ga-F peak</text>
<line x1="450" y1="49.7" x2="463" y2="49.7" stroke="#a55ee0" stroke-width="0.6" stroke-dasharray="1.5,1" opacity="0.8"/>
<circle cx="456.5" cy="49.7" r="0.9" fill="#a55ee0"/>
<text x="465" y="51.900000000000006" font-size="6.15" font-weight="normal" text-anchor="start" fill="#3a3a3a" >Fitted Ga-F<tspan baseline-shift="-1.5" font-size="4.5">2</tspan> peak</text>
<line x1="450" y1="58.5" x2="463" y2="58.5" stroke="#e0a526" stroke-width="0.6" stroke-dasharray="1.5,1" opacity="0.8"/>
<circle cx="456.5" cy="58.5" r="0.9" fill="#e0a526"/>
<text x="465" y="60.7" font-size="6.15" font-weight="normal" text-anchor="start" fill="#3a3a3a" >Fitted Ga-F<tspan baseline-shift="-1.5" font-size="4.5">3</tspan> peak</text>
<line x1="450" y1="67.7" x2="463" y2="67.7" stroke="#22c6d6" stroke-width="0.6" stroke-dasharray="1.5,1" opacity="0.8"/>
<circle cx="456.5" cy="67.7" r="0.9" fill="#22c6d6"/>
<text x="465" y="69.9" font-size="6.15" font-weight="normal" text-anchor="start" fill="#3a3a3a" >Fitted N 2s peak</text>
<line x1="514.6" y1="267.5" x2="514.6" y2="270.0" stroke="#8a8a8a" stroke-width="0.9" />
<text x="514.6" y="279.9" font-size="8.6" font-weight="bold" text-anchor="middle" fill="#111" >15</text>
<line x1="490.89" y1="267.5" x2="490.89" y2="270.0" stroke="#8a8a8a" stroke-width="0.9" />
<text x="490.89" y="279.9" font-size="8.6" font-weight="bold" text-anchor="middle" fill="#111" >16</text>
<line x1="467.18" y1="267.5" x2="467.18" y2="270.0" stroke="#8a8a8a" stroke-width="0.9" />
<text x="467.18" y="279.9" font-size="8.6" font-weight="bold" text-anchor="middle" fill="#111" >17</text>
<line x1="443.47" y1="267.5" x2="443.47" y2="270.0" stroke="#8a8a8a" stroke-width="0.9" />
<text x="443.47" y="279.9" font-size="8.6" font-weight="bold" text-anchor="middle" fill="#111" >18</text>
<line x1="419.76" y1="267.5" x2="419.76" y2="270.0" stroke="#8a8a8a" stroke-width="0.9" />
<text x="419.76" y="279.9" font-size="8.6" font-weight="bold" text-anchor="middle" fill="#111" >19</text>
<line x1="396.05" y1="267.5" x2="396.05" y2="270.0" stroke="#8a8a8a" stroke-width="0.9" />
<text x="396.05" y="279.9" font-size="8.6" font-weight="bold" text-anchor="middle" fill="#111" >20</text>
<line x1="372.34000000000003" y1="267.5" x2="372.34000000000003" y2="270.0" stroke="#8a8a8a" stroke-width="0.9" />
<text x="372.34000000000003" y="279.9" font-size="8.6" font-weight="bold" text-anchor="middle" fill="#111" >21</text>
<line x1="348.63" y1="267.5" x2="348.63" y2="270.0" stroke="#8a8a8a" stroke-width="0.9" />
<text x="348.63" y="279.9" font-size="8.6" font-weight="bold" text-anchor="middle" fill="#111" >22</text>
<line x1="324.92" y1="267.5" x2="324.92" y2="270.0" stroke="#8a8a8a" stroke-width="0.9" />
<text x="324.92" y="279.9" font-size="8.6" font-weight="bold" text-anchor="middle" fill="#111" >23</text>
<line x1="301.21" y1="267.5" x2="301.21" y2="270.0" stroke="#8a8a8a" stroke-width="0.9" />
<text x="301.21" y="279.9" font-size="8.6" font-weight="bold" text-anchor="middle" fill="#111" >24</text>
<line x1="277.5" y1="267.5" x2="277.5" y2="270.0" stroke="#8a8a8a" stroke-width="0.9" />
<text x="277.5" y="279.9" font-size="8.6" font-weight="bold" text-anchor="middle" fill="#111" >25</text>
<line x1="502.745" y1="267.5" x2="502.745" y2="269.0" stroke="#a0a0a0" stroke-width="0.7" />
<line x1="479.03499999999997" y1="267.5" x2="479.03499999999997" y2="269.0" stroke="#a0a0a0" stroke-width="0.7" />
<line x1="455.32500000000005" y1="267.5" x2="455.32500000000005" y2="269.0" stroke="#a0a0a0" stroke-width="0.7" />
<line x1="431.615" y1="267.5" x2="431.615" y2="269.0" stroke="#a0a0a0" stroke-width="0.7" />
<line x1="407.905" y1="267.5" x2="407.905" y2="269.0" stroke="#a0a0a0" stroke-width="0.7" />
<line x1="384.195" y1="267.5" x2="384.195" y2="269.0" stroke="#a0a0a0" stroke-width="0.7" />
<line x1="360.485" y1="267.5" x2="360.485" y2="269.0" stroke="#a0a0a0" stroke-width="0.7" />
<line x1="336.775" y1="267.5" x2="336.775" y2="269.0" stroke="#a0a0a0" stroke-width="0.7" />
<line x1="313.065" y1="267.5" x2="313.065" y2="269.0" stroke="#a0a0a0" stroke-width="0.7" />
<line x1="289.355" y1="267.5" x2="289.355" y2="269.0" stroke="#a0a0a0" stroke-width="0.7" />
<text x="392.5" y="296" font-size="8.9" font-weight="bold" text-anchor="middle" fill="#111" >Binding Energy, eV</text>
<text transform="translate(274.3,138.7) rotate(-90)" font-size="9.0" font-weight="bold" text-anchor="middle" fill="#111">Intensity (a.u.)</text>
<text x="3.5" y="324" font-size="12.5" font-weight="bold" text-anchor="start" fill="#000" >c)</text>
<text x="131.6" y="323" font-size="8.9" font-weight="bold" text-anchor="middle" fill="#000" >Al2<tspan font-style="italic">p</tspan> (at 76.25<tspan baseline-shift="3.6" font-size="6.9">O</tspan>)</text>
<rect x="15.5" y="327" width="235.0" height="250" fill="none" stroke="#adadad" stroke-width="1.1"/>
<line x1="15.5" y1="577" x2="250.5" y2="577" stroke="#9c9c9c" stroke-width="1.3" />
<line x1="15.5" y1="447" x2="250.5" y2="447" stroke="#c8c8c8" stroke-width="0.8" />
<line x1="94.5" y1="362" x2="94.5" y2="577" stroke="#a050e0" stroke-width="0.8" stroke-dasharray="1.2,1.2"/>
<line x1="114.5" y1="378" x2="114.5" y2="577" stroke="#40a860" stroke-width="0.8" stroke-dasharray="1.2,1.2"/>
<line x1="156.4" y1="378" x2="156.4" y2="577" stroke="#3050d8" stroke-width="0.8" stroke-dasharray="1.2,1.2"/>
<path d="M15.5,442.6 L16.0,442.6 L16.5,442.6 L17.0,442.6 L17.5,442.6 L18.0,442.6 L18.5,442.6 L19.0,442.6 L19.5,442.6 L20.0,442.6 L20.5,442.6 L21.0,442.6 L21.5,442.6 L22.0,442.6 L22.5,442.6 L23.0,442.6 L23.5,442.6 L24.0,442.6 L24.5,442.6 L25.0,442.6 L25.5,442.6 L26.0,442.6 L26.5,442.6 L27.0,442.6 L27.5,442.6 L28.0,442.6 L28.5,442.6 L29.0,442.6 L29.5,442.6 L30.0,442.6 L30.5,442.6 L31.0,442.6 L31.5,442.6 L32.0,442.6 L32.5,442.6 L33.0,442.6 L33.5,442.6 L34.0,442.6 L34.5,442.6 L35.0,442.6 L35.5,442.6 L36.0,442.6 L36.5,442.6 L37.0,442.6 L37.5,442.6 L38.0,442.6 L38.5,442.6 L39.0,442.6 L39.5,442.6 L40.0,442.6 L40.5,442.6 L41.0,442.6 L41.5,442.6 L42.0,442.6 L42.5,442.6 L43.0,442.6 L43.5,442.6 L44.0,442.6 L44.5,442.6 L45.0,442.6 L45.5,442.6 L46.0,442.6 L46.5,442.6 L47.0,442.6 L47.5,442.6 L48.0,442.6 L48.5,442.6 L49.0,442.6 L49.5,442.6 L50.0,442.6 L50.5,442.6 L51.0,442.6 L51.5,442.6 L52.0,442.6 L52.5,442.6 L53.0,442.6 L53.5,442.6 L54.0,442.6 L54.5,442.6 L55.0,442.6 L55.5,442.6 L56.0,442.6 L56.5,442.6 L57.0,442.6 L57.5,442.6 L58.0,442.6 L58.5,442.6 L59.0,442.6 L59.5,442.6 L60.0,442.6 L60.5,442.6 L61.0,442.6 L61.5,442.6 L62.0,442.6 L62.5,442.6 L63.0,442.6 L63.5,442.6 L64.0,442.6 L64.5,442.6 L65.0,442.6 L65.5,442.6 L66.0,442.6 L66.5,442.6 L67.0,442.6 L67.5,442.6 L68.0,442.6 L68.5,442.6 L69.0,442.6 L69.5,442.6 L70.0,442.6 L70.5,442.6 L71.0,442.6 L71.5,442.6 L72.0,442.6 L72.5,442.6 L73.0,442.6 L73.5,442.6 L74.0,442.6 L74.5,442.6 L75.0,442.6 L75.5,442.6 L76.0,442.6 L76.5,442.6 L77.0,442.6 L77.5,442.6 L78.0,442.6 L78.5,442.6 L79.0,442.6 L79.5,442.6 L80.0,442.6 L80.5,442.6 L81.0,442.6 L81.5,442.6 L82.0,442.6 L82.5,442.6 L83.0,442.6 L83.5,442.6 L84.0,442.6 L84.5,442.6 L85.0,442.6 L85.5,442.6 L86.0,442.6 L86.5,442.6 L87.0,442.6 L87.5,442.6 L88.0,442.6 L88.5,442.6 L89.0,442.6 L89.5,442.6 L90.0,442.6 L90.5,442.6 L91.0,442.6 L91.5,442.6 L92.0,442.6 L92.5,442.6 L93.0,442.6 L93.5,442.6 L94.0,442.6 L94.5,442.6 L95.0,442.6 L95.5,442.6 L96.0,442.6 L96.5,442.6 L97.0,442.6 L97.5,442.6 L98.0,442.6 L98.5,442.6 L99.0,442.6 L99.5,442.6 L100.0,442.6 L100.5,442.6 L101.0,442.6 L101.5,442.6 L102.0,442.6 L102.5,442.6 L103.0,442.6 L103.5,442.6 L104.0,442.6 L104.5,442.6 L105.0,442.6 L105.5,442.6 L106.0,442.6 L106.5,442.6 L107.0,442.6 L107.5,442.6 L108.0,442.6 L108.5,442.6 L109.0,442.6 L109.5,442.6 L110.0,442.6 L110.5,442.6 L111.0,442.6 L111.5,442.6 L112.0,442.6 L112.5,442.6 L113.0,442.6 L113.5,442.6 L114.0,442.6 L114.5,442.6 L115.0,442.6 L115.5,442.6 L116.0,442.6 L116.5,442.6 L117.0,442.6 L117.5,442.6 L118.0,442.6 L118.5,442.6 L119.0,442.6 L119.5,442.6 L120.0,442.6 L120.5,442.6 L121.0,442.6 L121.5,442.6 L122.0,442.6 L122.5,442.6 L123.0,442.6 L123.5,442.6 L124.0,442.6 L124.5,442.6 L125.0,442.6 L125.5,442.6 L126.0,442.6 L126.5,442.6 L127.0,442.6 L127.5,442.6 L128.0,442.6 L128.5,442.6 L129.0,442.6 L129.5,442.6 L130.0,442.6 L130.5,442.6 L131.0,442.6 L131.5,442.6 L132.0,442.6 L132.5,442.6 L133.0,442.6 L133.5,442.6 L134.0,442.6 L134.5,442.6 L135.0,442.6 L135.5,442.6 L136.0,442.6 L136.5,442.6 L137.0,442.6 L137.5,442.6 L138.0,442.6 L138.5,442.6 L139.0,442.6 L139.5,442.6 L140.0,442.6 L140.5,442.6 L141.0,442.6 L141.5,442.6 L142.0,442.6 L142.5,442.6 L143.0,442.6 L143.5,442.6 L144.0,442.6 L144.5,442.6 L145.0,442.6 L145.5,442.6 L146.0,442.6 L146.5,442.6 L147.0,442.6 L147.5,442.6 L148.0,442.6 L148.5,442.6 L149.0,442.6 L149.5,442.6 L150.0,442.6 L150.5,442.6 L151.0,442.6 L151.5,442.6 L152.0,442.6 L152.5,442.6 L153.0,442.6 L153.5,442.6 L154.0,442.6 L154.5,442.6 L155.0,442.6 L155.5,442.6 L156.0,442.6 L156.5,442.6 L157.0,442.6 L157.5,442.6 L158.0,442.6 L158.5,442.6 L159.0,442.6 L159.5,442.6 L160.0,442.6 L160.5,442.6 L161.0,442.6 L161.5,442.6 L162.0,442.6 L162.5,442.6 L163.0,442.6 L163.5,442.6 L164.0,442.6 L164.5,442.6 L165.0,442.6 L165.5,442.6 L166.0,442.6 L166.5,442.6 L167.0,442.6 L167.5,442.6 L168.0,442.6 L168.5,442.6 L169.0,442.6 L169.5,442.6 L170.0,442.6 L170.5,442.6 L171.0,442.6 L171.5,442.6 L172.0,442.6 L172.5,442.6 L173.0,442.6 L173.5,442.6 L174.0,442.6 L174.5,442.6 L175.0,442.6 L175.5,442.6 L176.0,442.6 L176.5,442.6 L177.0,442.6 L177.5,442.6 L178.0,442.6 L178.5,442.6 L179.0,442.6 L179.5,442.6 L180.0,442.6 L180.5,442.6 L181.0,442.6 L181.5,442.6 L182.0,442.6 L182.5,442.6 L183.0,442.6 L183.5,442.6 L184.0,442.6 L184.5,442.6 L185.0,442.6 L185.5,442.6 L186.0,442.6 L186.5,442.6 L187.0,442.6 L187.5,442.6 L188.0,442.6 L188.5,442.6 L189.0,442.6 L189.5,442.6 L190.0,442.6 L190.5,442.6 L191.0,442.6 L191.5,442.6 L192.0,442.6 L192.5,442.6 L193.0,442.6 L193.5,442.6 L194.0,442.6 L194.5,442.6 L195.0,442.6 L195.5,442.6 L196.0,442.6 L196.5,442.6 L197.0,442.6 L197.5,442.6 L198.0,442.6 L198.5,442.6 L199.0,442.6 L199.5,442.6 L200.0,442.6 L200.5,442.6 L201.0,442.6 L201.5,442.6 L202.0,442.6 L202.5,442.6 L203.0,442.6 L203.5,442.6 L204.0,442.6 L204.5,442.6 L205.0,442.6 L205.5,442.6 L206.0,442.6 L206.5,442.6 L207.0,442.6 L207.5,442.6 L208.0,442.6 L208.5,442.6 L209.0,442.6 L209.5,442.6 L210.0,442.6 L210.5,442.6 L211.0,442.6 L211.5,442.6 L212.0,442.6 L212.5,442.6 L213.0,442.6 L213.5,442.6 L214.0,442.6 L214.5,442.6 L215.0,442.6 L215.5,442.6 L216.0,442.6 L216.5,442.6 L217.0,442.6 L217.5,442.6 L218.0,442.6 L218.5,442.6 L219.0,442.6" fill="none" stroke="#2f5fd6" stroke-width="1.6"/>
<path d="M42.5,442.0 L43.0,441.9 L43.5,441.9 L44.0,441.8 L44.5,441.7 L45.0,441.7 L45.5,441.6 L46.0,441.5 L46.5,441.4 L47.0,441.3 L47.5,441.2 L48.0,441.0 L48.5,440.9 L49.0,440.8 L49.5,440.6 L50.0,440.5 L50.5,440.3 L51.0,440.1 L51.5,439.9 L52.0,439.7 L52.5,439.5 L53.0,439.3 L53.5,439.0 L54.0,438.8 L54.5,438.5 L55.0,438.2 L55.5,437.9 L56.0,437.6 L56.5,437.2 L57.0,436.9 L57.5,436.5 L58.0,436.1 L58.5,435.7 L59.0,435.2 L59.5,434.8 L60.0,434.3 L60.5,433.8 L61.0,433.2 L61.5,432.7 L62.0,432.1 L62.5,431.5 L63.0,430.9 L63.5,430.2 L64.0,429.5 L64.5,428.8 L65.0,428.1 L65.5,427.4 L66.0,426.6 L66.5,425.8 L67.0,424.9 L67.5,424.1 L68.0,423.2 L68.5,422.3 L69.0,421.3 L69.5,420.4 L70.0,419.4 L70.5,418.4 L71.0,417.3 L71.5,416.3 L72.0,415.2 L72.5,414.1 L73.0,413.0 L73.5,411.8 L74.0,410.7 L74.5,409.5 L75.0,408.3 L75.5,407.1 L76.0,405.9 L76.5,404.6 L77.0,403.4 L77.5,402.1 L78.0,400.9 L78.5,399.6 L79.0,398.4 L79.5,397.1 L80.0,395.8 L80.5,394.6 L81.0,393.3 L81.5,392.1 L82.0,390.8 L82.5,389.6 L83.0,388.4 L83.5,387.2 L84.0,386.0 L84.5,384.8 L85.0,383.7 L85.5,382.6 L86.0,381.5 L86.5,380.4 L87.0,379.3 L87.5,378.3 L88.0,377.3 L88.5,376.4 L89.0,375.5 L89.5,374.6 L90.0,373.8 L90.5,373.0 L91.0,372.2 L91.5,371.5 L92.0,370.8 L92.5,370.2 L93.0,369.6 L93.5,369.1 L94.0,368.6 L94.5,368.2 L95.0,367.8 L95.5,367.5 L96.0,367.3 L96.5,367.1 L97.0,367.1 L97.5,367.0 L98.0,367.1 L98.5,367.2 L99.0,367.3 L99.5,367.6 L100.0,367.8 L100.5,368.2 L101.0,368.6 L101.5,369.1 L102.0,369.6 L102.5,370.2 L103.0,370.8 L103.5,371.5 L104.0,372.2 L104.5,372.9 L105.0,373.8 L105.5,374.6 L106.0,375.5 L106.5,376.4 L107.0,377.3 L107.5,378.3 L108.0,379.3 L108.5,380.4 L109.0,381.4 L109.5,382.5 L110.0,383.6 L110.5,384.7 L111.0,385.8 L111.5,386.9 L112.0,388.1 L112.5,389.2 L113.0,390.4 L113.5,391.5 L114.0,392.7 L114.5,393.8 L115.0,395.0 L115.5,396.1 L116.0,397.3 L116.5,398.4 L117.0,399.5 L117.5,400.6 L118.0,401.7 L118.5,402.8 L119.0,403.9 L119.5,405.0 L120.0,406.0 L120.5,407.1 L121.0,408.1 L121.5,409.1 L122.0,410.1 L122.5,411.1 L123.0,412.0 L123.5,413.0 L124.0,413.9 L124.5,414.8 L125.0,415.6 L125.5,416.4 L126.0,417.3 L126.5,418.0 L127.0,418.8 L127.5,419.5 L128.0,420.2 L128.5,420.9 L129.0,421.5 L129.5,422.1 L130.0,422.6 L130.5,423.2 L131.0,423.6 L131.5,424.1 L132.0,424.5 L132.5,424.8 L133.0,425.1 L133.5,425.3 L134.0,425.5 L134.5,425.6 L135.0,425.7 L135.5,425.7 L136.0,425.7 L136.5,425.5 L137.0,425.4 L137.5,425.1 L138.0,424.8 L138.5,424.4 L139.0,424.0 L139.5,423.5 L140.0,422.9 L140.5,422.3 L141.0,421.6 L141.5,420.8 L142.0,420.0 L142.5,419.1 L143.0,418.1 L143.5,417.1 L144.0,416.1 L144.5,415.0 L145.0,413.9 L145.5,412.7 L146.0,411.5 L146.5,410.4 L147.0,409.2 L147.5,408.0 L148.0,406.8 L148.5,405.6 L149.0,404.4 L149.5,403.3 L150.0,402.2 L150.5,401.2 L151.0,400.2 L151.5,399.3 L152.0,398.4 L152.5,397.6 L153.0,396.9 L153.5,396.3 L154.0,395.8 L154.5,395.4 L155.0,395.2 L155.5,395.0 L156.0,394.9 L156.5,394.9 L157.0,395.1 L157.5,395.3 L158.0,395.7 L158.5,396.1 L159.0,396.6 L159.5,397.3 L160.0,398.0 L160.5,398.8 L161.0,399.7 L161.5,400.6 L162.0,401.7 L162.5,402.8 L163.0,403.9 L163.5,405.1 L164.0,406.3 L164.5,407.6 L165.0,408.9 L165.5,410.3 L166.0,411.6 L166.5,413.0 L167.0,414.3 L167.5,415.7 L168.0,417.1 L168.5,418.4 L169.0,419.7 L169.5,421.0 L170.0,422.3 L170.5,423.5 L171.0,424.7 L171.5,425.9 L172.0,427.0 L172.5,428.1 L173.0,429.1 L173.5,430.1 L174.0,431.1 L174.5,432.0 L175.0,432.8 L175.5,433.6 L176.0,434.4 L176.5,435.1 L177.0,435.8 L177.5,436.4 L178.0,436.9 L178.5,437.5 L179.0,438.0 L179.5,438.4 L180.0,438.8 L180.5,439.2 L181.0,439.6 L181.5,439.9 L182.0,440.2 L182.5,440.5 L183.0,440.7 L183.5,440.9 L184.0,441.1 L184.5,441.3 L185.0,441.5 L185.5,441.6 L186.0,441.7 L186.5,441.8 L187.0,441.9" fill="none" stroke="#e8322a" stroke-width="1.7"/>
<path d="M126.0,442.1 L126.5,442.1 L127.0,442.0 L127.5,441.9 L128.0,441.8 L128.5,441.6 L129.0,441.5 L129.5,441.3 L130.0,441.2 L130.5,441.0 L131.0,440.7 L131.5,440.5 L132.0,440.2 L132.5,439.9 L133.0,439.6 L133.5,439.2 L134.0,438.8 L134.5,438.3 L135.0,437.9 L135.5,437.3 L136.0,436.8 L136.5,436.1 L137.0,435.5 L137.5,434.8 L138.0,434.0 L138.5,433.2 L139.0,432.3 L139.5,431.4 L140.0,430.4 L140.5,429.4 L141.0,428.3 L141.5,427.2 L142.0,426.0 L142.5,424.8 L143.0,423.5 L143.5,422.2 L144.0,420.9 L144.5,419.5 L145.0,418.2 L145.5,416.8 L146.0,415.3 L146.5,413.9 L147.0,412.5 L147.5,411.1 L148.0,409.7 L148.5,408.3 L149.0,407.0 L149.5,405.7 L150.0,404.5 L150.5,403.3 L151.0,402.1 L151.5,401.1 L152.0,400.1 L152.5,399.2 L153.0,398.4 L153.5,397.7 L154.0,397.1 L154.5,396.6 L155.0,396.3 L155.5,396.0 L156.0,395.8 L156.5,395.8 L157.0,395.9 L157.5,396.1 L158.0,396.3 L158.5,396.7 L159.0,397.2 L159.5,397.8 L160.0,398.5 L160.5,399.2 L161.0,400.1 L161.5,401.0 L162.0,402.0 L162.5,403.1 L163.0,404.2 L163.5,405.4 L164.0,406.6 L164.5,407.8 L165.0,409.1 L165.5,410.5 L166.0,411.8 L166.5,413.1 L167.0,414.5 L167.5,415.8 L168.0,417.2 L168.5,418.5 L169.0,419.8 L169.5,421.1 L170.0,422.4 L170.5,423.6 L171.0,424.8 L171.5,426.0 L172.0,427.1 L172.5,428.2 L173.0,429.2 L173.5,430.2 L174.0,431.1 L174.5,432.0 L175.0,432.9 L175.5,433.7 L176.0,434.4 L176.5,435.1 L177.0,435.8 L177.5,436.4 L178.0,437.0 L178.5,437.5 L179.0,438.0 L179.5,438.4 L180.0,438.9 L180.5,439.2 L181.0,439.6 L181.5,439.9 L182.0,440.2 L182.5,440.5 L183.0,440.7 L183.5,440.9 L184.0,441.1 L184.5,441.3 L185.0,441.5 L185.5,441.6 L186.0,441.7 L186.5,441.8 L187.0,441.9 L187.5,442.0 L188.0,442.1 L188.5,442.2" fill="none" stroke="#2f5fd6" stroke-width="1.3"/>
<path d="M66.5,442.2 L67.0,442.2 L67.5,442.1 L68.0,442.1 L68.5,442.0 L69.0,442.0 L69.5,441.9 L70.0,441.9 L70.5,441.8 L71.0,441.7 L71.5,441.7 L72.0,441.6 L72.5,441.5 L73.0,441.4 L73.5,441.4 L74.0,441.3 L74.5,441.2 L75.0,441.1 L75.5,440.9 L76.0,440.8 L76.5,440.7 L77.0,440.6 L77.5,440.4 L78.0,440.3 L78.5,440.1 L79.0,439.9 L79.5,439.8 L80.0,439.6 L80.5,439.4 L81.0,439.2 L81.5,439.0 L82.0,438.8 L82.5,438.5 L83.0,438.3 L83.5,438.0 L84.0,437.8 L84.5,437.5 L85.0,437.2 L85.5,436.9 L86.0,436.7 L86.5,436.3 L87.0,436.0 L87.5,435.7 L88.0,435.4 L88.5,435.0 L89.0,434.6 L89.5,434.3 L90.0,433.9 L90.5,433.5 L91.0,433.1 L91.5,432.7 L92.0,432.3 L92.5,431.9 L93.0,431.5 L93.5,431.1 L94.0,430.6 L94.5,430.2 L95.0,429.7 L95.5,429.3 L96.0,428.9 L96.5,428.4 L97.0,428.0 L97.5,427.5 L98.0,427.0 L98.5,426.6 L99.0,426.1 L99.5,425.7 L100.0,425.3 L100.5,424.8 L101.0,424.4 L101.5,424.0 L102.0,423.6 L102.5,423.1 L103.0,422.7 L103.5,422.4 L104.0,422.0 L104.5,421.6 L105.0,421.3 L105.5,420.9 L106.0,420.6 L106.5,420.3 L107.0,420.0 L107.5,419.7 L108.0,419.5 L108.5,419.2 L109.0,419.0 L109.5,418.8 L110.0,418.6 L110.5,418.5 L111.0,418.4 L111.5,418.2 L112.0,418.1 L112.5,418.1 L113.0,418.0 L113.5,418.0 L114.0,418.0 L114.5,418.0 L115.0,418.1 L115.5,418.1 L116.0,418.2 L116.5,418.3 L117.0,418.5 L117.5,418.6 L118.0,418.8 L118.5,419.0 L119.0,419.2 L119.5,419.4 L120.0,419.7 L120.5,419.9 L121.0,420.2 L121.5,420.5 L122.0,420.9 L122.5,421.2 L123.0,421.5 L123.5,421.9 L124.0,422.3 L124.5,422.7 L125.0,423.1 L125.5,423.5 L126.0,423.9 L126.5,424.3 L127.0,424.7 L127.5,425.2 L128.0,425.6 L128.5,426.1 L129.0,426.5 L129.5,427.0 L130.0,427.4 L130.5,427.9 L131.0,428.3 L131.5,428.8 L132.0,429.2 L132.5,429.7 L133.0,430.1 L133.5,430.5 L134.0,431.0 L134.5,431.4 L135.0,431.8 L135.5,432.2 L136.0,432.6 L136.5,433.1 L137.0,433.4 L137.5,433.8 L138.0,434.2 L138.5,434.6 L139.0,434.9 L139.5,435.3 L140.0,435.6 L140.5,436.0 L141.0,436.3 L141.5,436.6 L142.0,436.9 L142.5,437.2 L143.0,437.5 L143.5,437.7 L144.0,438.0 L144.5,438.2 L145.0,438.5 L145.5,438.7 L146.0,438.9 L146.5,439.1 L147.0,439.4 L147.5,439.5 L148.0,439.7 L148.5,439.9 L149.0,440.1 L149.5,440.2 L150.0,440.4 L150.5,440.5 L151.0,440.7 L151.5,440.8 L152.0,440.9 L152.5,441.0 L153.0,441.1 L153.5,441.2 L154.0,441.3 L154.5,441.4 L155.0,441.5 L155.5,441.6 L156.0,441.7 L156.5,441.7 L157.0,441.8 L157.5,441.9 L158.0,441.9 L158.5,442.0 L159.0,442.0 L159.5,442.1 L160.0,442.1 L160.5,442.2 L161.0,442.2" fill="none" stroke="#3a9f5a" stroke-width="1.3"/>
<path d="M40.5,442.2 L41.0,442.1 L41.5,442.1 L42.0,442.0 L42.5,442.0 L43.0,441.9 L43.5,441.9 L44.0,441.8 L44.5,441.7 L45.0,441.7 L45.5,441.6 L46.0,441.5 L46.5,441.4 L47.0,441.3 L47.5,441.2 L48.0,441.1 L48.5,440.9 L49.0,440.8 L49.5,440.6 L50.0,440.5 L50.5,440.3 L51.0,440.1 L51.5,440.0 L52.0,439.8 L52.5,439.5 L53.0,439.3 L53.5,439.1 L54.0,438.8 L54.5,438.5 L55.0,438.3 L55.5,438.0 L56.0,437.6 L56.5,437.3 L57.0,436.9 L57.5,436.6 L58.0,436.2 L58.5,435.8 L59.0,435.3 L59.5,434.9 L60.0,434.4 L60.5,433.9 L61.0,433.4 L61.5,432.9 L62.0,432.3 L62.5,431.7 L63.0,431.1 L63.5,430.5 L64.0,429.8 L64.5,429.1 L65.0,428.4 L65.5,427.7 L66.0,426.9 L66.5,426.2 L67.0,425.4 L67.5,424.5 L68.0,423.7 L68.5,422.8 L69.0,421.9 L69.5,421.0 L70.0,420.1 L70.5,419.1 L71.0,418.2 L71.5,417.2 L72.0,416.2 L72.5,415.1 L73.0,414.1 L73.5,413.1 L74.0,412.0 L74.5,410.9 L75.0,409.8 L75.5,408.7 L76.0,407.6 L76.5,406.5 L77.0,405.4 L77.5,404.3 L78.0,403.2 L78.5,402.1 L79.0,401.0 L79.5,399.9 L80.0,398.9 L80.5,397.8 L81.0,396.7 L81.5,395.7 L82.0,394.7 L82.5,393.7 L83.0,392.7 L83.5,391.7 L84.0,390.8 L84.5,389.9 L85.0,389.0 L85.5,388.2 L86.0,387.4 L86.5,386.6 L87.0,385.9 L87.5,385.2 L88.0,384.6 L88.5,384.0 L89.0,383.4 L89.5,382.9 L90.0,382.5 L90.5,382.1 L91.0,381.7 L91.5,381.4 L92.0,381.1 L92.5,380.9 L93.0,380.8 L93.5,380.7 L94.0,380.6 L94.5,380.6 L95.0,380.7 L95.5,380.8 L96.0,381.1 L96.5,381.3 L97.0,381.7 L97.5,382.1 L98.0,382.6 L98.5,383.2 L99.0,383.8 L99.5,384.5 L100.0,385.2 L100.5,386.0 L101.0,386.8 L101.5,387.7 L102.0,388.6 L102.5,389.6 L103.0,390.6 L103.5,391.7 L104.0,392.8 L104.5,393.9 L105.0,395.1 L105.5,396.3 L106.0,397.5 L106.5,398.7 L107.0,399.9 L107.5,401.2 L108.0,402.5 L108.5,403.7 L109.0,405.0 L109.5,406.3 L110.0,407.5 L110.5,408.8 L111.0,410.0 L111.5,411.3 L112.0,412.5 L112.5,413.7 L113.0,414.9 L113.5,416.1 L114.0,417.3 L114.5,418.4 L115.0,419.5 L115.5,420.6 L116.0,421.6 L116.5,422.7 L117.0,423.7 L117.5,424.6 L118.0,425.6 L118.5,426.5 L119.0,427.4 L119.5,428.2 L120.0,429.0 L120.5,429.8 L121.0,430.6 L121.5,431.3 L122.0,432.0 L122.5,432.6 L123.0,433.3 L123.5,433.9 L124.0,434.4 L124.5,435.0 L125.0,435.5 L125.5,436.0 L126.0,436.4 L126.5,436.9 L127.0,437.3 L127.5,437.7 L128.0,438.0 L128.5,438.4 L129.0,438.7 L129.5,439.0 L130.0,439.3 L130.5,439.5 L131.0,439.8 L131.5,440.0 L132.0,440.2 L132.5,440.4 L133.0,440.6 L133.5,440.8 L134.0,440.9 L134.5,441.1 L135.0,441.2 L135.5,441.3 L136.0,441.5 L136.5,441.6 L137.0,441.7 L137.5,441.7 L138.0,441.8 L138.5,441.9 L139.0,442.0 L139.5,442.0 L140.0,442.1 L140.5,442.1 L141.0,442.2" fill="none" stroke="#9b55dc" stroke-width="1.3"/>
<path d="M15.5,442.1 L16.0,442.1 L16.5,442.1 L17.0,442.1 L17.5,442.1 L18.0,442.1 L18.5,442.1 L19.0,442.1 L19.5,442.1 L20.0,442.1 L20.5,442.1 L21.0,442.1 L21.5,442.1 L22.0,442.1 L22.5,442.1 L23.0,442.1 L23.5,442.1 L24.0,442.1 L24.5,442.1 L25.0,442.1 L25.5,442.1 L26.0,442.1 L26.5,442.1 L27.0,442.1 L27.5,442.1 L28.0,442.1 L28.5,442.1 L29.0,442.1 L29.5,442.1 L30.0,442.1 L30.5,442.1 L31.0,442.1 L31.5,442.1 L32.0,442.1 L32.5,442.1 L33.0,442.1 L33.5,442.1 L34.0,442.1 L34.5,442.1 L35.0,442.1 L35.5,442.1 L36.0,442.1 L36.5,442.1 L37.0,442.1 L37.5,442.1 L38.0,442.1 L38.5,442.1 L39.0,442.1 L39.5,442.1 L40.0,442.1 L40.5,442.1 L41.0,442.1 L41.5,442.1 L42.0,442.1 L42.5,442.1 L43.0,442.1 L43.5,442.1 L44.0,442.1 L44.5,442.1 L45.0,442.1 L45.5,442.1 L46.0,442.1 L46.5,442.1 L47.0,442.1 L47.5,442.1 L48.0,442.1 L48.5,442.1 L49.0,442.1 L49.5,442.1 L50.0,442.1 L50.5,442.1 L51.0,442.1 L51.5,442.1 L52.0,442.1 L52.5,442.1 L53.0,442.1 L53.5,442.1 L54.0,442.1 L54.5,442.1 L55.0,442.1 L55.5,442.1 L56.0,442.1 L56.5,442.1 L57.0,442.1 L57.5,442.1 L58.0,442.1 L58.5,442.1 L59.0,442.1 L59.5,442.1 L60.0,442.1 L60.5,442.1 L61.0,442.1 L61.5,442.1 L62.0,442.1 L62.5,442.1 L63.0,442.1 L63.5,442.1 L64.0,442.1 L64.5,442.1 L65.0,442.1 L65.5,442.1 L66.0,442.1 L66.5,442.1 L67.0,442.1 L67.5,442.1 L68.0,442.1 L68.5,442.1 L69.0,442.1 L69.5,442.1 L70.0,442.1 L70.5,442.1 L71.0,442.1 L71.5,442.1 L72.0,442.1 L72.5,442.1 L73.0,442.1 L73.5,442.1 L74.0,442.1 L74.5,442.1 L75.0,442.1 L75.5,442.1 L76.0,442.1 L76.5,442.1 L77.0,442.1 L77.5,442.1 L78.0,442.1 L78.5,442.1 L79.0,442.1 L79.5,442.1 L80.0,442.1 L80.5,442.1 L81.0,442.1 L81.5,442.1 L82.0,442.1 L82.5,442.1 L83.0,442.1 L83.5,442.1 L84.0,442.1 L84.5,442.1 L85.0,442.1 L85.5,442.1 L86.0,442.1 L86.5,442.1 L87.0,442.1 L87.5,442.1 L88.0,442.1 L88.5,442.1 L89.0,442.1 L89.5,442.1 L90.0,442.1 L90.5,442.1 L91.0,442.1 L91.5,442.1 L92.0,442.1 L92.5,442.1 L93.0,442.1 L93.5,442.1 L94.0,442.1 L94.5,442.1 L95.0,442.1 L95.5,442.1 L96.0,442.1 L96.5,442.1 L97.0,442.1 L97.5,442.1 L98.0,442.1 L98.5,442.1 L99.0,442.1 L99.5,442.1 L100.0,442.1 L100.5,442.1 L101.0,442.1 L101.5,442.1 L102.0,442.1 L102.5,442.1 L103.0,442.1 L103.5,442.1 L104.0,442.1 L104.5,442.1 L105.0,442.1 L105.5,442.1 L106.0,442.1 L106.5,442.1 L107.0,442.1 L107.5,442.1 L108.0,442.1 L108.5,442.1 L109.0,442.1 L109.5,442.1 L110.0,442.1 L110.5,442.1 L111.0,442.1 L111.5,442.1 L112.0,442.1 L112.5,442.1 L113.0,442.1 L113.5,442.1 L114.0,442.1 L114.5,442.1 L115.0,442.1 L115.5,442.1 L116.0,442.1 L116.5,442.1 L117.0,442.1 L117.5,442.1 L118.0,442.1 L118.5,442.1 L119.0,442.1 L119.5,442.1 L120.0,442.1 L120.5,442.1 L121.0,442.1 L121.5,442.1 L122.0,442.1 L122.5,442.1 L123.0,442.1 L123.5,442.1 L124.0,442.1 L124.5,442.1 L125.0,442.1 L125.5,442.1 L126.0,442.1 L126.5,442.1 L127.0,442.1 L127.5,442.1 L128.0,442.1 L128.5,442.1 L129.0,442.1 L129.5,442.1 L130.0,442.1 L130.5,442.1 L131.0,442.1 L131.5,442.1 L132.0,442.1 L132.5,442.1 L133.0,442.1 L133.5,442.1 L134.0,442.1 L134.5,442.1 L135.0,442.1 L135.5,442.1 L136.0,442.1 L136.5,442.1 L137.0,442.1 L137.5,442.1 L138.0,442.1 L138.5,442.1 L139.0,442.1 L139.5,442.1" fill="none" stroke="#9b55dc" stroke-width="1.3"/>
<path d="M150.5,442.1 L151.0,442.1 L151.5,442.1 L152.0,442.1 L152.5,442.1 L153.0,442.1 L153.5,442.1 L154.0,442.1 L154.5,442.1 L155.0,442.1 L155.5,442.1 L156.0,442.1 L156.5,442.1 L157.0,442.1 L157.5,442.1 L158.0,442.1 L158.5,442.1 L159.0,442.1 L159.5,442.1 L160.0,442.1 L160.5,442.1 L161.0,442.1 L161.5,442.1 L162.0,442.1 L162.5,442.1 L163.0,442.1 L163.5,442.1 L164.0,442.1 L164.5,442.1 L165.0,442.1 L165.5,442.1 L166.0,442.1 L166.5,442.1 L167.0,442.1 L167.5,442.1 L168.0,442.1 L168.5,442.1 L169.0,442.1 L169.5,442.1 L170.0,442.1 L170.5,442.1 L171.0,442.1 L171.5,442.1 L172.0,442.1 L172.5,442.1 L173.0,442.1 L173.5,442.1 L174.0,442.1 L174.5,442.1 L175.0,442.1 L175.5,442.1 L176.0,442.1 L176.5,442.1 L177.0,442.1 L177.5,442.1 L178.0,442.1 L178.5,442.1 L179.0,442.1 L179.5,442.1 L180.0,442.1 L180.5,442.1 L181.0,442.1 L181.5,442.1 L182.0,442.1 L182.5,442.1 L183.0,442.1 L183.5,442.1 L184.0,442.1 L184.5,442.1 L185.0,442.1 L185.5,442.1 L186.0,442.1 L186.5,442.1 L187.0,442.1 L187.5,442.1 L188.0,442.1 L188.5,442.1 L189.0,442.1 L189.5,442.1 L190.0,442.1 L190.5,442.1 L191.0,442.1 L191.5,442.1 L192.0,442.1 L192.5,442.1 L193.0,442.1 L193.5,442.1 L194.0,442.1 L194.5,442.1 L195.0,442.1 L195.5,442.1 L196.0,442.1 L196.5,442.1 L197.0,442.1 L197.5,442.1 L198.0,442.1 L198.5,442.1 L199.0,442.1 L199.5,442.1 L200.0,442.1 L200.5,442.1 L201.0,442.1 L201.5,442.1 L202.0,442.1 L202.5,442.1 L203.0,442.1 L203.5,442.1 L204.0,442.1 L204.5,442.1 L205.0,442.1 L205.5,442.1 L206.0,442.1 L206.5,442.1 L207.0,442.1 L207.5,442.1 L208.0,442.1 L208.5,442.1 L209.0,442.1 L209.5,442.1 L210.0,442.1 L210.5,442.1 L211.0,442.1 L211.5,442.1 L212.0,442.1 L212.5,442.1 L213.0,442.1 L213.5,442.1 L214.0,442.1 L214.5,442.1 L215.0,442.1 L215.5,442.1 L216.0,442.1 L216.5,442.1 L217.0,442.1 L217.5,442.1 L218.0,442.1 L218.5,442.1 L219.0,442.1" fill="none" stroke="#9b55dc" stroke-width="1.3"/>
<path d="M16.0,441.6 L17.7,435.2 L19.4,439.5 L21.1,445.8 L22.8,440.0 L24.5,440.0 L26.2,438.6 L27.9,443.3 L29.6,442.2 L31.3,438.6 L33.0,443.4 L34.7,442.3 L36.4,443.6 L38.1,439.9 L39.8,445.9 L41.5,442.4 L43.2,440.8 L44.9,439.5 L46.6,439.9 L48.3,442.4 L50.0,439.0 L51.7,441.9 L53.4,439.8 L55.1,440.9 L56.8,438.3 L58.5,434.7 L60.2,428.3 L61.9,432.2 L63.6,431.3 L65.3,427.3 L67.0,425.6 L68.7,419.9 L70.4,416.8 L72.1,411.7 L73.8,413.9 L75.5,406.7 L77.2,400.8 L78.9,394.4 L80.6,393.1 L82.3,393.0 L84.0,386.4 L85.7,379.4 L87.4,381.4 L89.1,378.2 L90.8,374.3 L92.5,371.5 L94.2,370.7 L95.9,368.0 L97.6,368.2 L99.3,364.6 L101.0,371.7 L102.7,370.2 L104.4,377.3 L106.1,369.6 L107.8,380.0 L109.5,384.2 L111.2,384.6 L112.9,390.5 L114.6,395.2 L116.3,398.6 L118.0,399.5 L119.7,404.2 L121.4,410.8 L123.1,414.7 L124.8,414.7 L126.5,417.4 L128.2,420.2 L129.9,424.4 L131.6,420.6 L133.3,421.0 L135.0,425.2 L136.7,421.8 L138.4,422.2 L140.1,422.2 L141.8,420.7 L143.5,413.5 L145.2,414.7 L146.9,404.0 L148.6,406.0 L150.3,396.7 L152.0,394.3 L153.7,397.0 L155.4,393.1 L157.1,392.2 L158.8,394.5 L160.5,399.2 L162.2,401.2 L163.9,405.2 L165.6,412.5 L167.3,412.5 L169.0,417.7 L170.7,421.9 L172.4,430.1 L174.1,433.0 L175.8,436.6 L177.5,435.5 L179.2,436.9 L180.9,440.9 L182.6,438.7 L184.3,442.6 L186.0,442.8 L187.7,439.4 L189.4,441.2 L191.1,441.3 L192.8,446.2 L194.5,448.5 L196.2,441.5 L197.9,441.8 L199.6,435.9 L201.3,442.3 L203.0,441.8 L204.7,439.0 L206.4,443.8 L208.1,437.7 L209.8,441.2 L211.5,442.2 L213.2,438.6 L214.9,444.0 L216.6,444.5 L218.3,438.2" fill="none" stroke="#2a2a3a" stroke-width="0.6" stroke-dasharray="1.3,1.3"/>
<circle cx="16.0" cy="441.6" r="0.8" fill="#2a2a40"/>
<circle cx="17.7" cy="435.2" r="0.8" fill="#2a2a40"/>
<circle cx="19.4" cy="439.5" r="0.8" fill="#2a2a40"/>
<circle cx="21.1" cy="445.8" r="0.8" fill="#2a2a40"/>
<circle cx="22.8" cy="440.0" r="0.8" fill="#2a2a40"/>
<circle cx="24.5" cy="440.0" r="0.8" fill="#2a2a40"/>
<circle cx="26.2" cy="438.6" r="0.8" fill="#2a2a40"/>
<circle cx="27.9" cy="443.3" r="0.8" fill="#2a2a40"/>
<circle cx="29.6" cy="442.2" r="0.8" fill="#2a2a40"/>
<circle cx="31.3" cy="438.6" r="0.8" fill="#2a2a40"/>
<circle cx="33.0" cy="443.4" r="0.8" fill="#2a2a40"/>
<circle cx="34.7" cy="442.3" r="0.8" fill="#2a2a40"/>
<circle cx="36.4" cy="443.6" r="0.8" fill="#2a2a40"/>
<circle cx="38.1" cy="439.9" r="0.8" fill="#2a2a40"/>
<circle cx="39.8" cy="445.9" r="0.8" fill="#2a2a40"/>
<circle cx="41.5" cy="442.4" r="0.8" fill="#2a2a40"/>
<circle cx="43.2" cy="440.8" r="0.8" fill="#2a2a40"/>
<circle cx="44.9" cy="439.5" r="0.8" fill="#2a2a40"/>
<circle cx="46.6" cy="439.9" r="0.8" fill="#2a2a40"/>
<circle cx="48.3" cy="442.4" r="0.8" fill="#2a2a40"/>
<circle cx="50.0" cy="439.0" r="0.8" fill="#2a2a40"/>
<circle cx="51.7" cy="441.9" r="0.8" fill="#2a2a40"/>
<circle cx="53.4" cy="439.8" r="0.8" fill="#2a2a40"/>
<circle cx="55.1" cy="440.9" r="0.8" fill="#2a2a40"/>
<circle cx="56.8" cy="438.3" r="0.8" fill="#2a2a40"/>
<circle cx="58.5" cy="434.7" r="0.8" fill="#2a2a40"/>
<circle cx="60.2" cy="428.3" r="0.8" fill="#2a2a40"/>
<circle cx="61.9" cy="432.2" r="0.8" fill="#2a2a40"/>
<circle cx="63.6" cy="431.3" r="0.8" fill="#2a2a40"/>
<circle cx="65.3" cy="427.3" r="0.8" fill="#2a2a40"/>
<circle cx="67.0" cy="425.6" r="0.8" fill="#2a2a40"/>
<circle cx="68.7" cy="419.9" r="0.8" fill="#2a2a40"/>
<circle cx="70.4" cy="416.8" r="0.8" fill="#2a2a40"/>
<circle cx="72.1" cy="411.7" r="0.8" fill="#2a2a40"/>
<circle cx="73.8" cy="413.9" r="0.8" fill="#2a2a40"/>
<circle cx="75.5" cy="406.7" r="0.8" fill="#2a2a40"/>
<circle cx="77.2" cy="400.8" r="0.8" fill="#2a2a40"/>
<circle cx="78.9" cy="394.4" r="0.8" fill="#2a2a40"/>
<circle cx="80.6" cy="393.1" r="0.8" fill="#2a2a40"/>
<circle cx="82.3" cy="393.0" r="0.8" fill="#2a2a40"/>
<circle cx="84.0" cy="386.4" r="0.8" fill="#2a2a40"/>
<circle cx="85.7" cy="379.4" r="0.8" fill="#2a2a40"/>
<circle cx="87.4" cy="381.4" r="0.8" fill="#2a2a40"/>
<circle cx="89.1" cy="378.2" r="0.8" fill="#2a2a40"/>
<circle cx="90.8" cy="374.3" r="0.8" fill="#2a2a40"/>
<circle cx="92.5" cy="371.5" r="0.8" fill="#2a2a40"/>
<circle cx="94.2" cy="370.7" r="0.8" fill="#2a2a40"/>
<circle cx="95.9" cy="368.0" r="0.8" fill="#2a2a40"/>
<circle cx="97.6" cy="368.2" r="0.8" fill="#2a2a40"/>
<circle cx="99.3" cy="364.6" r="0.8" fill="#2a2a40"/>
<circle cx="101.0" cy="371.7" r="0.8" fill="#2a2a40"/>
<circle cx="102.7" cy="370.2" r="0.8" fill="#2a2a40"/>
<circle cx="104.4" cy="377.3" r="0.8" fill="#2a2a40"/>
<circle cx="106.1" cy="369.6" r="0.8" fill="#2a2a40"/>
<circle cx="107.8" cy="380.0" r="0.8" fill="#2a2a40"/>
<circle cx="109.5" cy="384.2" r="0.8" fill="#2a2a40"/>
<circle cx="111.2" cy="384.6" r="0.8" fill="#2a2a40"/>
<circle cx="112.9" cy="390.5" r="0.8" fill="#2a2a40"/>
<circle cx="114.6" cy="395.2" r="0.8" fill="#2a2a40"/>
<circle cx="116.3" cy="398.6" r="0.8" fill="#2a2a40"/>
<circle cx="118.0" cy="399.5" r="0.8" fill="#2a2a40"/>
<circle cx="119.7" cy="404.2" r="0.8" fill="#2a2a40"/>
<circle cx="121.4" cy="410.8" r="0.8" fill="#2a2a40"/>
<circle cx="123.1" cy="414.7" r="0.8" fill="#2a2a40"/>
<circle cx="124.8" cy="414.7" r="0.8" fill="#2a2a40"/>
<circle cx="126.5" cy="417.4" r="0.8" fill="#2a2a40"/>
<circle cx="128.2" cy="420.2" r="0.8" fill="#2a2a40"/>
<circle cx="129.9" cy="424.4" r="0.8" fill="#2a2a40"/>
<circle cx="131.6" cy="420.6" r="0.8" fill="#2a2a40"/>
<circle cx="133.3" cy="421.0" r="0.8" fill="#2a2a40"/>
<circle cx="135.0" cy="425.2" r="0.8" fill="#2a2a40"/>
<circle cx="136.7" cy="421.8" r="0.8" fill="#2a2a40"/>
<circle cx="138.4" cy="422.2" r="0.8" fill="#2a2a40"/>
<circle cx="140.1" cy="422.2" r="0.8" fill="#2a2a40"/>
<circle cx="141.8" cy="420.7" r="0.8" fill="#2a2a40"/>
<circle cx="143.5" cy="413.5" r="0.8" fill="#2a2a40"/>
<circle cx="145.2" cy="414.7" r="0.8" fill="#2a2a40"/>
<circle cx="146.9" cy="404.0" r="0.8" fill="#2a2a40"/>
<circle cx="148.6" cy="406.0" r="0.8" fill="#2a2a40"/>
<circle cx="150.3" cy="396.7" r="0.8" fill="#2a2a40"/>
<circle cx="152.0" cy="394.3" r="0.8" fill="#2a2a40"/>
<circle cx="153.7" cy="397.0" r="0.8" fill="#2a2a40"/>
<circle cx="155.4" cy="393.1" r="0.8" fill="#2a2a40"/>
<circle cx="157.1" cy="392.2" r="0.8" fill="#2a2a40"/>
<circle cx="158.8" cy="394.5" r="0.8" fill="#2a2a40"/>
<circle cx="160.5" cy="399.2" r="0.8" fill="#2a2a40"/>
<circle cx="162.2" cy="401.2" r="0.8" fill="#2a2a40"/>
<circle cx="163.9" cy="405.2" r="0.8" fill="#2a2a40"/>
<circle cx="165.6" cy="412.5" r="0.8" fill="#2a2a40"/>
<circle cx="167.3" cy="412.5" r="0.8" fill="#2a2a40"/>
<circle cx="169.0" cy="417.7" r="0.8" fill="#2a2a40"/>
<circle cx="170.7" cy="421.9" r="0.8" fill="#2a2a40"/>
<circle cx="172.4" cy="430.1" r="0.8" fill="#2a2a40"/>
<circle cx="174.1" cy="433.0" r="0.8" fill="#2a2a40"/>
<circle cx="175.8" cy="436.6" r="0.8" fill="#2a2a40"/>
<circle cx="177.5" cy="435.5" r="0.8" fill="#2a2a40"/>
<circle cx="179.2" cy="436.9" r="0.8" fill="#2a2a40"/>
<circle cx="180.9" cy="440.9" r="0.8" fill="#2a2a40"/>
<circle cx="182.6" cy="438.7" r="0.8" fill="#2a2a40"/>
<circle cx="184.3" cy="442.6" r="0.8" fill="#2a2a40"/>
<circle cx="186.0" cy="442.8" r="0.8" fill="#2a2a40"/>
<circle cx="187.7" cy="439.4" r="0.8" fill="#2a2a40"/>
<circle cx="189.4" cy="441.2" r="0.8" fill="#2a2a40"/>
<circle cx="191.1" cy="441.3" r="0.8" fill="#2a2a40"/>
<circle cx="192.8" cy="446.2" r="0.8" fill="#2a2a40"/>
<circle cx="194.5" cy="448.5" r="0.8" fill="#2a2a40"/>
<circle cx="196.2" cy="441.5" r="0.8" fill="#2a2a40"/>
<circle cx="197.9" cy="441.8" r="0.8" fill="#2a2a40"/>
<circle cx="199.6" cy="435.9" r="0.8" fill="#2a2a40"/>
<circle cx="201.3" cy="442.3" r="0.8" fill="#2a2a40"/>
<circle cx="203.0" cy="441.8" r="0.8" fill="#2a2a40"/>
<circle cx="204.7" cy="439.0" r="0.8" fill="#2a2a40"/>
<circle cx="206.4" cy="443.8" r="0.8" fill="#2a2a40"/>
<circle cx="208.1" cy="437.7" r="0.8" fill="#2a2a40"/>
<circle cx="209.8" cy="441.2" r="0.8" fill="#2a2a40"/>
<circle cx="211.5" cy="442.2" r="0.8" fill="#2a2a40"/>
<circle cx="213.2" cy="438.6" r="0.8" fill="#2a2a40"/>
<circle cx="214.9" cy="444.0" r="0.8" fill="#2a2a40"/>
<circle cx="216.6" cy="444.5" r="0.8" fill="#2a2a40"/>
<circle cx="218.3" cy="438.2" r="0.8" fill="#2a2a40"/>
<path d="M219.0,432.8 L220.4,438.3 L221.8,436.9 L223.2,434.1 L224.6,436.7 L226.0,437.4 L227.4,437.6 L228.8,440.3 L230.2,439.4 L231.6,443.2 L233.0,442.5 L234.4,440.9 L235.8,442.2 L237.2,443.0 L238.6,441.7 L240.0,436.9 L241.4,442.5 L242.8,440.7 L244.2,445.0 L245.6,441.3 L247.0,442.6 L248.4,442.4 L249.8,446.1" fill="none" stroke="#e8322a" stroke-width="0.9" stroke-dasharray="1.5,1"/>
<circle cx="219.0" cy="432.8" r="0.7" fill="#e8322a"/>
<circle cx="220.4" cy="438.3" r="0.7" fill="#e8322a"/>
<circle cx="221.8" cy="436.9" r="0.7" fill="#e8322a"/>
<circle cx="223.2" cy="434.1" r="0.7" fill="#e8322a"/>
<circle cx="224.6" cy="436.7" r="0.7" fill="#e8322a"/>
<circle cx="226.0" cy="437.4" r="0.7" fill="#e8322a"/>
<circle cx="227.4" cy="437.6" r="0.7" fill="#e8322a"/>
<circle cx="228.8" cy="440.3" r="0.7" fill="#e8322a"/>
<circle cx="230.2" cy="439.4" r="0.7" fill="#e8322a"/>
<circle cx="231.6" cy="443.2" r="0.7" fill="#e8322a"/>
<circle cx="233.0" cy="442.5" r="0.7" fill="#e8322a"/>
<circle cx="234.4" cy="440.9" r="0.7" fill="#e8322a"/>
<circle cx="235.8" cy="442.2" r="0.7" fill="#e8322a"/>
<circle cx="237.2" cy="443.0" r="0.7" fill="#e8322a"/>
<circle cx="238.6" cy="441.7" r="0.7" fill="#e8322a"/>
<circle cx="240.0" cy="436.9" r="0.7" fill="#e8322a"/>
<circle cx="241.4" cy="442.5" r="0.7" fill="#e8322a"/>
<circle cx="242.8" cy="440.7" r="0.7" fill="#e8322a"/>
<circle cx="244.2" cy="445.0" r="0.7" fill="#e8322a"/>
<circle cx="245.6" cy="441.3" r="0.7" fill="#e8322a"/>
<circle cx="247.0" cy="442.6" r="0.7" fill="#e8322a"/>
<circle cx="248.4" cy="442.4" r="0.7" fill="#e8322a"/>
<circle cx="249.8" cy="446.1" r="0.7" fill="#e8322a"/>
<path d="M15.5,566.6 L16.0,566.6 L16.5,566.6 L17.0,566.6 L17.5,566.6 L18.0,566.6 L18.5,566.6 L19.0,566.6 L19.5,566.6 L20.0,566.6 L20.5,566.6 L21.0,566.6 L21.5,566.6 L22.0,566.6 L22.5,566.6 L23.0,566.6 L23.5,566.6 L24.0,566.6 L24.5,566.6 L25.0,566.6 L25.5,566.6 L26.0,566.6 L26.5,566.6 L27.0,566.6 L27.5,566.6 L28.0,566.6 L28.5,566.6 L29.0,566.6 L29.5,566.6 L30.0,566.6 L30.5,566.6 L31.0,566.6 L31.5,566.6 L32.0,566.6 L32.5,566.6 L33.0,566.6 L33.5,566.6 L34.0,566.6 L34.5,566.6 L35.0,566.6 L35.5,566.6 L36.0,566.6 L36.5,566.6 L37.0,566.6 L37.5,566.6 L38.0,566.6 L38.5,566.6 L39.0,566.6 L39.5,566.6 L40.0,566.6 L40.5,566.6 L41.0,566.6 L41.5,566.6 L42.0,566.6 L42.5,566.6 L43.0,566.6 L43.5,566.6 L44.0,566.6 L44.5,566.6 L45.0,566.6 L45.5,566.6 L46.0,566.6 L46.5,566.6 L47.0,566.6 L47.5,566.6 L48.0,566.6 L48.5,566.6 L49.0,566.6 L49.5,566.6 L50.0,566.6 L50.5,566.6 L51.0,566.6 L51.5,566.6 L52.0,566.6 L52.5,566.6 L53.0,566.6 L53.5,566.6 L54.0,566.6 L54.5,566.6 L55.0,566.6 L55.5,566.6 L56.0,566.6 L56.5,566.6 L57.0,566.6 L57.5,566.6 L58.0,566.6 L58.5,566.6 L59.0,566.6 L59.5,566.6 L60.0,566.6 L60.5,566.6 L61.0,566.6 L61.5,566.6 L62.0,566.6 L62.5,566.6 L63.0,566.6 L63.5,566.6 L64.0,566.6 L64.5,566.6 L65.0,566.6 L65.5,566.6 L66.0,566.6 L66.5,566.6 L67.0,566.6 L67.5,566.6 L68.0,566.6 L68.5,566.6 L69.0,566.6 L69.5,566.6 L70.0,566.6 L70.5,566.6 L71.0,566.6 L71.5,566.6 L72.0,566.6 L72.5,566.6 L73.0,566.6 L73.5,566.6 L74.0,566.6 L74.5,566.6 L75.0,566.6 L75.5,566.6 L76.0,566.6 L76.5,566.6 L77.0,566.6 L77.5,566.6 L78.0,566.6 L78.5,566.6 L79.0,566.6 L79.5,566.6 L80.0,566.6 L80.5,566.6 L81.0,566.6 L81.5,566.6 L82.0,566.6 L82.5,566.6 L83.0,566.6 L83.5,566.6 L84.0,566.6 L84.5,566.6 L85.0,566.6 L85.5,566.6 L86.0,566.6 L86.5,566.6 L87.0,566.6 L87.5,566.6 L88.0,566.6 L88.5,566.6 L89.0,566.6 L89.5,566.6 L90.0,566.6 L90.5,566.6 L91.0,566.6 L91.5,566.6 L92.0,566.6 L92.5,566.6 L93.0,566.6 L93.5,566.6 L94.0,566.6 L94.5,566.6 L95.0,566.6 L95.5,566.6 L96.0,566.6 L96.5,566.6 L97.0,566.6 L97.5,566.6 L98.0,566.6 L98.5,566.6 L99.0,566.6 L99.5,566.6 L100.0,566.6 L100.5,566.6 L101.0,566.6 L101.5,566.6 L102.0,566.6 L102.5,566.6 L103.0,566.6 L103.5,566.6 L104.0,566.6 L104.5,566.6 L105.0,566.6 L105.5,566.6 L106.0,566.6 L106.5,566.6 L107.0,566.6 L107.5,566.6 L108.0,566.6 L108.5,566.6 L109.0,566.6 L109.5,566.6 L110.0,566.6 L110.5,566.6 L111.0,566.6 L111.5,566.6 L112.0,566.6 L112.5,566.6 L113.0,566.6 L113.5,566.6 L114.0,566.6 L114.5,566.6 L115.0,566.6 L115.5,566.6 L116.0,566.6 L116.5,566.6 L117.0,566.6 L117.5,566.6 L118.0,566.6 L118.5,566.6 L119.0,566.6 L119.5,566.6 L120.0,566.6 L120.5,566.6 L121.0,566.6 L121.5,566.6 L122.0,566.6 L122.5,566.6 L123.0,566.6 L123.5,566.6 L124.0,566.6 L124.5,566.6 L125.0,566.6 L125.5,566.6 L126.0,566.6 L126.5,566.6 L127.0,566.6 L127.5,566.6 L128.0,566.6 L128.5,566.6 L129.0,566.6 L129.5,566.6 L130.0,566.6 L130.5,566.6 L131.0,566.6 L131.5,566.6 L132.0,566.6 L132.5,566.6 L133.0,566.6 L133.5,566.6 L134.0,566.6 L134.5,566.6 L135.0,566.6 L135.5,566.6 L136.0,566.6 L136.5,566.6 L137.0,566.6 L137.5,566.6 L138.0,566.6 L138.5,566.6 L139.0,566.6 L139.5,566.6 L140.0,566.6 L140.5,566.6 L141.0,566.6 L141.5,566.6 L142.0,566.6 L142.5,566.6 L143.0,566.6 L143.5,566.6 L144.0,566.6 L144.5,566.6 L145.0,566.6 L145.5,566.6 L146.0,566.6 L146.5,566.6 L147.0,566.6 L147.5,566.6 L148.0,566.6 L148.5,566.6 L149.0,566.6 L149.5,566.6 L150.0,566.6 L150.5,566.6 L151.0,566.6 L151.5,566.6 L152.0,566.6 L152.5,566.6 L153.0,566.6 L153.5,566.6 L154.0,566.6 L154.5,566.6 L155.0,566.6 L155.5,566.6 L156.0,566.6 L156.5,566.6 L157.0,566.6 L157.5,566.6 L158.0,566.6 L158.5,566.6 L159.0,566.6 L159.5,566.6 L160.0,566.6 L160.5,566.6 L161.0,566.6 L161.5,566.6 L162.0,566.6 L162.5,566.6 L163.0,566.6 L163.5,566.6 L164.0,566.6 L164.5,566.6 L165.0,566.6 L165.5,566.6 L166.0,566.6 L166.5,566.6 L167.0,566.6 L167.5,566.6 L168.0,566.6 L168.5,566.6 L169.0,566.6 L169.5,566.6 L170.0,566.6 L170.5,566.6 L171.0,566.6 L171.5,566.6 L172.0,566.6 L172.5,566.6 L173.0,566.6 L173.5,566.6 L174.0,566.6 L174.5,566.6 L175.0,566.6 L175.5,566.6 L176.0,566.6 L176.5,566.6 L177.0,566.6 L177.5,566.6 L178.0,566.6 L178.5,566.6 L179.0,566.6 L179.5,566.6 L180.0,566.6 L180.5,566.6 L181.0,566.6 L181.5,566.6 L182.0,566.6 L182.5,566.6 L183.0,566.6 L183.5,566.6 L184.0,566.6 L184.5,566.6 L185.0,566.6 L185.5,566.6 L186.0,566.6 L186.5,566.6 L187.0,566.6 L187.5,566.6 L188.0,566.6 L188.5,566.6 L189.0,566.6 L189.5,566.6 L190.0,566.6 L190.5,566.6 L191.0,566.6 L191.5,566.6 L192.0,566.6 L192.5,566.6 L193.0,566.6 L193.5,566.6 L194.0,566.6 L194.5,566.6 L195.0,566.6 L195.5,566.6 L196.0,566.6 L196.5,566.6 L197.0,566.6 L197.5,566.6 L198.0,566.6 L198.5,566.6 L199.0,566.6 L199.5,566.6 L200.0,566.6 L200.5,566.6 L201.0,566.6 L201.5,566.6 L202.0,566.6 L202.5,566.6 L203.0,566.6 L203.5,566.6 L204.0,566.6 L204.5,566.6 L205.0,566.6 L205.5,566.6 L206.0,566.6 L206.5,566.6 L207.0,566.6 L207.5,566.6 L208.0,566.6 L208.5,566.6 L209.0,566.6 L209.5,566.6 L210.0,566.6 L210.5,566.6 L211.0,566.6 L211.5,566.6 L212.0,566.6 L212.5,566.6 L213.0,566.6 L213.5,566.6 L214.0,566.6 L214.5,566.6 L215.0,566.6 L215.5,566.6 L216.0,566.6 L216.5,566.6 L217.0,566.6 L217.5,566.6 L218.0,566.6 L218.5,566.6 L219.0,566.6" fill="none" stroke="#2f5fd6" stroke-width="1.6"/>
<path d="M49.0,565.9 L49.5,565.9 L50.0,565.8 L50.5,565.7 L51.0,565.6 L51.5,565.5 L52.0,565.4 L52.5,565.3 L53.0,565.2 L53.5,565.0 L54.0,564.9 L54.5,564.7 L55.0,564.5 L55.5,564.3 L56.0,564.1 L56.5,563.9 L57.0,563.6 L57.5,563.4 L58.0,563.1 L58.5,562.8 L59.0,562.5 L59.5,562.1 L60.0,561.8 L60.5,561.4 L61.0,560.9 L61.5,560.5 L62.0,560.0 L62.5,559.5 L63.0,559.0 L63.5,558.4 L64.0,557.8 L64.5,557.2 L65.0,556.5 L65.5,555.8 L66.0,555.1 L66.5,554.3 L67.0,553.5 L67.5,552.7 L68.0,551.8 L68.5,550.9 L69.0,549.9 L69.5,548.9 L70.0,547.9 L70.5,546.8 L71.0,545.7 L71.5,544.6 L72.0,543.4 L72.5,542.1 L73.0,540.9 L73.5,539.6 L74.0,538.2 L74.5,536.8 L75.0,535.4 L75.5,534.0 L76.0,532.5 L76.5,531.0 L77.0,529.5 L77.5,527.9 L78.0,526.4 L78.5,524.8 L79.0,523.2 L79.5,521.5 L80.0,519.9 L80.5,518.2 L81.0,516.6 L81.5,514.9 L82.0,513.3 L82.5,511.6 L83.0,509.9 L83.5,508.3 L84.0,506.7 L84.5,505.0 L85.0,503.4 L85.5,501.8 L86.0,500.3 L86.5,498.8 L87.0,497.3 L87.5,495.8 L88.0,494.4 L88.5,493.0 L89.0,491.6 L89.5,490.3 L90.0,489.1 L90.5,487.8 L91.0,486.7 L91.5,485.6 L92.0,484.6 L92.5,483.6 L93.0,482.6 L93.5,481.8 L94.0,481.0 L94.5,480.2 L95.0,479.6 L95.5,479.0 L96.0,478.5 L96.5,478.1 L97.0,477.7 L97.5,477.4 L98.0,477.2 L98.5,477.1 L99.0,477.0 L99.5,477.1 L100.0,477.1 L100.5,477.3 L101.0,477.5 L101.5,477.8 L102.0,478.2 L102.5,478.6 L103.0,479.1 L103.5,479.6 L104.0,480.2 L104.5,480.8 L105.0,481.5 L105.5,482.2 L106.0,483.0 L106.5,483.8 L107.0,484.7 L107.5,485.6 L108.0,486.5 L108.5,487.5 L109.0,488.5 L109.5,489.5 L110.0,490.6 L110.5,491.6 L111.0,492.7 L111.5,493.8 L112.0,495.0 L112.5,496.1 L113.0,497.3 L113.5,498.5 L114.0,499.7 L114.5,500.9 L115.0,502.1 L115.5,503.3 L116.0,504.5 L116.5,505.8 L117.0,507.0 L117.5,508.3 L118.0,509.5 L118.5,510.8 L119.0,512.0 L119.5,513.3 L120.0,514.5 L120.5,515.8 L121.0,517.0 L121.5,518.2 L122.0,519.5 L122.5,520.7 L123.0,521.9 L123.5,523.1 L124.0,524.2 L124.5,525.4 L125.0,526.5 L125.5,527.7 L126.0,528.7 L126.5,529.8 L127.0,530.8 L127.5,531.9 L128.0,532.8 L128.5,533.8 L129.0,534.7 L129.5,535.5 L130.0,536.3 L130.5,537.1 L131.0,537.8 L131.5,538.4 L132.0,539.0 L132.5,539.6 L133.0,540.0 L133.5,540.4 L134.0,540.8 L134.5,541.0 L135.0,541.2 L135.5,541.3 L136.0,541.4 L136.5,541.3 L137.0,541.2 L137.5,541.0 L138.0,540.7 L138.5,540.3 L139.0,539.8 L139.5,539.3 L140.0,538.7 L140.5,538.0 L141.0,537.2 L141.5,536.3 L142.0,535.4 L142.5,534.4 L143.0,533.3 L143.5,532.1 L144.0,531.0 L144.5,529.7 L145.0,528.5 L145.5,527.2 L146.0,525.8 L146.5,524.5 L147.0,523.1 L147.5,521.8 L148.0,520.4 L148.5,519.1 L149.0,517.8 L149.5,516.5 L150.0,515.3 L150.5,514.1 L151.0,513.0 L151.5,512.0 L152.0,511.0 L152.5,510.2 L153.0,509.4 L153.5,508.7 L154.0,508.2 L154.5,507.8 L155.0,507.4 L155.5,507.2 L156.0,507.2 L156.5,507.2 L157.0,507.4 L157.5,507.7 L158.0,508.1 L158.5,508.6 L159.0,509.3 L159.5,510.1 L160.0,511.0 L160.5,512.0 L161.0,513.1 L161.5,514.3 L162.0,515.6 L162.5,516.9 L163.0,518.3 L163.5,519.8 L164.0,521.4 L164.5,523.0 L165.0,524.6 L165.5,526.3 L166.0,528.0 L166.5,529.7 L167.0,531.4 L167.5,533.1 L168.0,534.7 L168.5,536.4 L169.0,538.1 L169.5,539.7 L170.0,541.3 L170.5,542.8 L171.0,544.3 L171.5,545.8 L172.0,547.2 L172.5,548.5 L173.0,549.8 L173.5,551.0 L174.0,552.2 L174.5,553.3 L175.0,554.4 L175.5,555.4 L176.0,556.3 L176.5,557.2 L177.0,558.1 L177.5,558.8 L178.0,559.5 L178.5,560.2 L179.0,560.8 L179.5,561.4 L180.0,561.9 L180.5,562.4 L181.0,562.8 L181.5,563.2 L182.0,563.6 L182.5,563.9 L183.0,564.2 L183.5,564.5 L184.0,564.8 L184.5,565.0 L185.0,565.2 L185.5,565.3 L186.0,565.5 L186.5,565.6 L187.0,565.8 L187.5,565.9 L188.0,566.0" fill="none" stroke="#e8322a" stroke-width="1.7"/>
<path d="M123.5,566.2 L124.0,566.1 L124.5,566.0 L125.0,565.9 L125.5,565.8 L126.0,565.7 L126.5,565.6 L127.0,565.4 L127.5,565.3 L128.0,565.1 L128.5,564.9 L129.0,564.7 L129.5,564.4 L130.0,564.1 L130.5,563.8 L131.0,563.5 L131.5,563.1 L132.0,562.7 L132.5,562.2 L133.0,561.7 L133.5,561.2 L134.0,560.6 L134.5,560.0 L135.0,559.3 L135.5,558.5 L136.0,557.7 L136.5,556.9 L137.0,556.0 L137.5,555.0 L138.0,554.0 L138.5,552.9 L139.0,551.8 L139.5,550.6 L140.0,549.3 L140.5,548.0 L141.0,546.6 L141.5,545.2 L142.0,543.8 L142.5,542.2 L143.0,540.7 L143.5,539.1 L144.0,537.5 L144.5,535.8 L145.0,534.2 L145.5,532.5 L146.0,530.8 L146.5,529.1 L147.0,527.4 L147.5,525.8 L148.0,524.1 L148.5,522.5 L149.0,521.0 L149.5,519.5 L150.0,518.0 L150.5,516.6 L151.0,515.3 L151.5,514.1 L152.0,513.0 L152.5,512.0 L153.0,511.1 L153.5,510.3 L154.0,509.6 L154.5,509.0 L155.0,508.6 L155.5,508.3 L156.0,508.1 L156.5,508.1 L157.0,508.2 L157.5,508.4 L158.0,508.8 L158.5,509.3 L159.0,509.9 L159.5,510.6 L160.0,511.4 L160.5,512.4 L161.0,513.5 L161.5,514.6 L162.0,515.9 L162.5,517.2 L163.0,518.6 L163.5,520.1 L164.0,521.6 L164.5,523.2 L165.0,524.8 L165.5,526.4 L166.0,528.1 L166.5,529.8 L167.0,531.5 L167.5,533.1 L168.0,534.8 L168.5,536.5 L169.0,538.1 L169.5,539.7 L170.0,541.3 L170.5,542.9 L171.0,544.4 L171.5,545.8 L172.0,547.2 L172.5,548.5 L173.0,549.8 L173.5,551.1 L174.0,552.2 L174.5,553.4 L175.0,554.4 L175.5,555.4 L176.0,556.4 L176.5,557.2 L177.0,558.1 L177.5,558.8 L178.0,559.5 L178.5,560.2 L179.0,560.8 L179.5,561.4 L180.0,561.9 L180.5,562.4 L181.0,562.8 L181.5,563.2 L182.0,563.6 L182.5,563.9 L183.0,564.2 L183.5,564.5 L184.0,564.8 L184.5,565.0 L185.0,565.2 L185.5,565.3 L186.0,565.5 L186.5,565.6 L187.0,565.8 L187.5,565.9 L188.0,566.0 L188.5,566.1 L189.0,566.1 L189.5,566.2" fill="none" stroke="#2f5fd6" stroke-width="1.3" stroke-dasharray="1.6,1"/>
<path d="M68.0,566.2 L68.5,566.2 L69.0,566.1 L69.5,566.1 L70.0,566.0 L70.5,565.9 L71.0,565.9 L71.5,565.8 L72.0,565.7 L72.5,565.7 L73.0,565.6 L73.5,565.5 L74.0,565.4 L74.5,565.3 L75.0,565.1 L75.5,565.0 L76.0,564.9 L76.5,564.7 L77.0,564.6 L77.5,564.4 L78.0,564.2 L78.5,564.0 L79.0,563.8 L79.5,563.6 L80.0,563.4 L80.5,563.1 L81.0,562.9 L81.5,562.6 L82.0,562.3 L82.5,562.0 L83.0,561.7 L83.5,561.3 L84.0,561.0 L84.5,560.6 L85.0,560.2 L85.5,559.8 L86.0,559.4 L86.5,558.9 L87.0,558.5 L87.5,558.0 L88.0,557.5 L88.5,556.9 L89.0,556.4 L89.5,555.8 L90.0,555.2 L90.5,554.6 L91.0,554.0 L91.5,553.4 L92.0,552.7 L92.5,552.0 L93.0,551.3 L93.5,550.6 L94.0,549.9 L94.5,549.1 L95.0,548.4 L95.5,547.6 L96.0,546.8 L96.5,546.0 L97.0,545.2 L97.5,544.4 L98.0,543.6 L98.5,542.8 L99.0,542.0 L99.5,541.1 L100.0,540.3 L100.5,539.5 L101.0,538.7 L101.5,537.8 L102.0,537.0 L102.5,536.2 L103.0,535.4 L103.5,534.7 L104.0,533.9 L104.5,533.2 L105.0,532.4 L105.5,531.7 L106.0,531.1 L106.5,530.4 L107.0,529.8 L107.5,529.2 L108.0,528.6 L108.5,528.1 L109.0,527.6 L109.5,527.1 L110.0,526.7 L110.5,526.3 L111.0,525.9 L111.5,525.6 L112.0,525.3 L112.5,525.1 L113.0,524.9 L113.5,524.8 L114.0,524.7 L114.5,524.6 L115.0,524.6 L115.5,524.6 L116.0,524.7 L116.5,524.8 L117.0,525.0 L117.5,525.2 L118.0,525.5 L118.5,525.8 L119.0,526.1 L119.5,526.5 L120.0,527.0 L120.5,527.4 L121.0,527.9 L121.5,528.5 L122.0,529.1 L122.5,529.7 L123.0,530.3 L123.5,531.0 L124.0,531.7 L124.5,532.4 L125.0,533.1 L125.5,533.9 L126.0,534.7 L126.5,535.5 L127.0,536.3 L127.5,537.1 L128.0,537.9 L128.5,538.8 L129.0,539.6 L129.5,540.4 L130.0,541.3 L130.5,542.1 L131.0,543.0 L131.5,543.8 L132.0,544.7 L132.5,545.5 L133.0,546.3 L133.5,547.1 L134.0,547.9 L134.5,548.7 L135.0,549.5 L135.5,550.2 L136.0,551.0 L136.5,551.7 L137.0,552.4 L137.5,553.1 L138.0,553.8 L138.5,554.4 L139.0,555.0 L139.5,555.7 L140.0,556.2 L140.5,556.8 L141.0,557.4 L141.5,557.9 L142.0,558.4 L142.5,558.9 L143.0,559.3 L143.5,559.8 L144.0,560.2 L144.5,560.6 L145.0,561.0 L145.5,561.4 L146.0,561.7 L146.5,562.0 L147.0,562.3 L147.5,562.6 L148.0,562.9 L148.5,563.2 L149.0,563.4 L149.5,563.7 L150.0,563.9 L150.5,564.1 L151.0,564.3 L151.5,564.5 L152.0,564.6 L152.5,564.8 L153.0,564.9 L153.5,565.1 L154.0,565.2 L154.5,565.3 L155.0,565.4 L155.5,565.5 L156.0,565.6 L156.5,565.7 L157.0,565.8 L157.5,565.9 L158.0,565.9 L158.5,566.0 L159.0,566.0 L159.5,566.1 L160.0,566.1 L160.5,566.2" fill="none" stroke="#3a9f5a" stroke-width="1.3"/>
<path d="M47.0,566.2 L47.5,566.1 L48.0,566.1 L48.5,566.0 L49.0,566.0 L49.5,565.9 L50.0,565.8 L50.5,565.7 L51.0,565.6 L51.5,565.5 L52.0,565.4 L52.5,565.3 L53.0,565.2 L53.5,565.0 L54.0,564.9 L54.5,564.7 L55.0,564.5 L55.5,564.3 L56.0,564.1 L56.5,563.9 L57.0,563.7 L57.5,563.4 L58.0,563.1 L58.5,562.8 L59.0,562.5 L59.5,562.2 L60.0,561.8 L60.5,561.4 L61.0,561.0 L61.5,560.6 L62.0,560.1 L62.5,559.6 L63.0,559.1 L63.5,558.6 L64.0,558.0 L64.5,557.4 L65.0,556.8 L65.5,556.1 L66.0,555.4 L66.5,554.6 L67.0,553.9 L67.5,553.1 L68.0,552.2 L68.5,551.3 L69.0,550.4 L69.5,549.5 L70.0,548.5 L70.5,547.5 L71.0,546.4 L71.5,545.3 L72.0,544.2 L72.5,543.1 L73.0,541.9 L73.5,540.7 L74.0,539.5 L74.5,538.2 L75.0,536.9 L75.5,535.6 L76.0,534.3 L76.5,532.9 L77.0,531.5 L77.5,530.1 L78.0,528.8 L78.5,527.3 L79.0,525.9 L79.5,524.5 L80.0,523.1 L80.5,521.7 L81.0,520.3 L81.5,518.9 L82.0,517.5 L82.5,516.2 L83.0,514.9 L83.5,513.5 L84.0,512.3 L84.5,511.0 L85.0,509.8 L85.5,508.6 L86.0,507.5 L86.5,506.4 L87.0,505.4 L87.5,504.4 L88.0,503.5 L88.5,502.6 L89.0,501.8 L89.5,501.1 L90.0,500.4 L90.5,499.8 L91.0,499.3 L91.5,498.8 L92.0,498.5 L92.5,498.2 L93.0,497.9 L93.5,497.8 L94.0,497.7 L94.5,497.7 L95.0,497.8 L95.5,498.0 L96.0,498.3 L96.5,498.6 L97.0,499.1 L97.5,499.6 L98.0,500.2 L98.5,500.9 L99.0,501.7 L99.5,502.5 L100.0,503.4 L100.5,504.4 L101.0,505.5 L101.5,506.6 L102.0,507.7 L102.5,509.0 L103.0,510.2 L103.5,511.5 L104.0,512.9 L104.5,514.2 L105.0,515.7 L105.5,517.1 L106.0,518.5 L106.5,520.0 L107.0,521.5 L107.5,523.0 L108.0,524.5 L108.5,526.0 L109.0,527.5 L109.5,529.0 L110.0,530.5 L110.5,532.0 L111.0,533.4 L111.5,534.8 L112.0,536.3 L112.5,537.6 L113.0,539.0 L113.5,540.3 L114.0,541.6 L114.5,542.9 L115.0,544.1 L115.5,545.3 L116.0,546.5 L116.5,547.6 L117.0,548.7 L117.5,549.7 L118.0,550.7 L118.5,551.7 L119.0,552.6 L119.5,553.5 L120.0,554.3 L120.5,555.1 L121.0,555.9 L121.5,556.6 L122.0,557.3 L122.5,557.9 L123.0,558.5 L123.5,559.1 L124.0,559.7 L124.5,560.2 L125.0,560.7 L125.5,561.1 L126.0,561.6 L126.5,562.0 L127.0,562.3 L127.5,562.7 L128.0,563.0 L128.5,563.3 L129.0,563.6 L129.5,563.9 L130.0,564.1 L130.5,564.3 L131.0,564.5 L131.5,564.7 L132.0,564.9 L132.5,565.1 L133.0,565.2 L133.5,565.3 L134.0,565.5 L134.5,565.6 L135.0,565.7 L135.5,565.8 L136.0,565.9 L136.5,565.9 L137.0,566.0 L137.5,566.1 L138.0,566.1 L138.5,566.2" fill="none" stroke="#9b55dc" stroke-width="1.3"/>
<path d="M15.5,566.1 L16.0,566.1 L16.5,566.1 L17.0,566.1 L17.5,566.1 L18.0,566.1 L18.5,566.1 L19.0,566.1 L19.5,566.1 L20.0,566.1 L20.5,566.1 L21.0,566.1 L21.5,566.1 L22.0,566.1 L22.5,566.1 L23.0,566.1 L23.5,566.1 L24.0,566.1 L24.5,566.1 L25.0,566.1 L25.5,566.1 L26.0,566.1 L26.5,566.1 L27.0,566.1 L27.5,566.1 L28.0,566.1 L28.5,566.1 L29.0,566.1 L29.5,566.1 L30.0,566.1 L30.5,566.1 L31.0,566.1 L31.5,566.1 L32.0,566.1 L32.5,566.1 L33.0,566.1 L33.5,566.1 L34.0,566.1 L34.5,566.1 L35.0,566.1 L35.5,566.1 L36.0,566.1 L36.5,566.1 L37.0,566.1 L37.5,566.1 L38.0,566.1 L38.5,566.1 L39.0,566.1 L39.5,566.1 L40.0,566.1 L40.5,566.1 L41.0,566.1 L41.5,566.1 L42.0,566.1 L42.5,566.1 L43.0,566.1 L43.5,566.1 L44.0,566.1 L44.5,566.1 L45.0,566.1 L45.5,566.1 L46.0,566.1 L46.5,566.1 L47.0,566.1 L47.5,566.1 L48.0,566.1 L48.5,566.1 L49.0,566.1 L49.5,566.1 L50.0,566.1 L50.5,566.1 L51.0,566.1 L51.5,566.1 L52.0,566.1 L52.5,566.1 L53.0,566.1 L53.5,566.1 L54.0,566.1 L54.5,566.1 L55.0,566.1 L55.5,566.1 L56.0,566.1 L56.5,566.1 L57.0,566.1 L57.5,566.1 L58.0,566.1 L58.5,566.1 L59.0,566.1 L59.5,566.1 L60.0,566.1 L60.5,566.1 L61.0,566.1 L61.5,566.1 L62.0,566.1 L62.5,566.1 L63.0,566.1 L63.5,566.1 L64.0,566.1 L64.5,566.1 L65.0,566.1 L65.5,566.1 L66.0,566.1 L66.5,566.1 L67.0,566.1 L67.5,566.1 L68.0,566.1 L68.5,566.1 L69.0,566.1 L69.5,566.1 L70.0,566.1 L70.5,566.1 L71.0,566.1 L71.5,566.1 L72.0,566.1 L72.5,566.1 L73.0,566.1 L73.5,566.1 L74.0,566.1 L74.5,566.1 L75.0,566.1 L75.5,566.1 L76.0,566.1 L76.5,566.1 L77.0,566.1 L77.5,566.1 L78.0,566.1 L78.5,566.1 L79.0,566.1 L79.5,566.1 L80.0,566.1 L80.5,566.1 L81.0,566.1 L81.5,566.1 L82.0,566.1 L82.5,566.1 L83.0,566.1 L83.5,566.1 L84.0,566.1 L84.5,566.1 L85.0,566.1 L85.5,566.1 L86.0,566.1 L86.5,566.1 L87.0,566.1 L87.5,566.1 L88.0,566.1 L88.5,566.1 L89.0,566.1 L89.5,566.1 L90.0,566.1 L90.5,566.1 L91.0,566.1 L91.5,566.1 L92.0,566.1 L92.5,566.1 L93.0,566.1 L93.5,566.1 L94.0,566.1 L94.5,566.1 L95.0,566.1 L95.5,566.1 L96.0,566.1 L96.5,566.1 L97.0,566.1 L97.5,566.1 L98.0,566.1 L98.5,566.1 L99.0,566.1 L99.5,566.1 L100.0,566.1 L100.5,566.1 L101.0,566.1 L101.5,566.1 L102.0,566.1 L102.5,566.1 L103.0,566.1 L103.5,566.1 L104.0,566.1 L104.5,566.1 L105.0,566.1 L105.5,566.1 L106.0,566.1 L106.5,566.1 L107.0,566.1 L107.5,566.1 L108.0,566.1 L108.5,566.1 L109.0,566.1 L109.5,566.1 L110.0,566.1 L110.5,566.1 L111.0,566.1 L111.5,566.1 L112.0,566.1 L112.5,566.1 L113.0,566.1 L113.5,566.1 L114.0,566.1 L114.5,566.1 L115.0,566.1 L115.5,566.1 L116.0,566.1 L116.5,566.1 L117.0,566.1 L117.5,566.1 L118.0,566.1 L118.5,566.1 L119.0,566.1 L119.5,566.1 L120.0,566.1 L120.5,566.1 L121.0,566.1 L121.5,566.1 L122.0,566.1 L122.5,566.1 L123.0,566.1 L123.5,566.1 L124.0,566.1 L124.5,566.1 L125.0,566.1 L125.5,566.1 L126.0,566.1 L126.5,566.1 L127.0,566.1 L127.5,566.1 L128.0,566.1 L128.5,566.1 L129.0,566.1 L129.5,566.1 L130.0,566.1 L130.5,566.1 L131.0,566.1 L131.5,566.1 L132.0,566.1 L132.5,566.1 L133.0,566.1 L133.5,566.1 L134.0,566.1 L134.5,566.1 L135.0,566.1 L135.5,566.1 L136.0,566.1 L136.5,566.1 L137.0,566.1 L137.5,566.1 L138.0,566.1 L138.5,566.1 L139.0,566.1 L139.5,566.1" fill="none" stroke="#9b55dc" stroke-width="1.3"/>
<path d="M150.5,566.1 L151.0,566.1 L151.5,566.1 L152.0,566.1 L152.5,566.1 L153.0,566.1 L153.5,566.1 L154.0,566.1 L154.5,566.1 L155.0,566.1 L155.5,566.1 L156.0,566.1 L156.5,566.1 L157.0,566.1 L157.5,566.1 L158.0,566.1 L158.5,566.1 L159.0,566.1 L159.5,566.1 L160.0,566.1 L160.5,566.1 L161.0,566.1 L161.5,566.1 L162.0,566.1 L162.5,566.1 L163.0,566.1 L163.5,566.1 L164.0,566.1 L164.5,566.1 L165.0,566.1 L165.5,566.1 L166.0,566.1 L166.5,566.1 L167.0,566.1 L167.5,566.1 L168.0,566.1 L168.5,566.1 L169.0,566.1 L169.5,566.1 L170.0,566.1 L170.5,566.1 L171.0,566.1 L171.5,566.1 L172.0,566.1 L172.5,566.1 L173.0,566.1 L173.5,566.1 L174.0,566.1 L174.5,566.1 L175.0,566.1 L175.5,566.1 L176.0,566.1 L176.5,566.1 L177.0,566.1 L177.5,566.1 L178.0,566.1 L178.5,566.1 L179.0,566.1 L179.5,566.1 L180.0,566.1 L180.5,566.1 L181.0,566.1 L181.5,566.1 L182.0,566.1 L182.5,566.1 L183.0,566.1 L183.5,566.1 L184.0,566.1 L184.5,566.1 L185.0,566.1 L185.5,566.1 L186.0,566.1 L186.5,566.1 L187.0,566.1 L187.5,566.1 L188.0,566.1 L188.5,566.1 L189.0,566.1 L189.5,566.1 L190.0,566.1 L190.5,566.1 L191.0,566.1 L191.5,566.1 L192.0,566.1 L192.5,566.1 L193.0,566.1 L193.5,566.1 L194.0,566.1 L194.5,566.1 L195.0,566.1 L195.5,566.1 L196.0,566.1 L196.5,566.1 L197.0,566.1 L197.5,566.1 L198.0,566.1 L198.5,566.1 L199.0,566.1 L199.5,566.1 L200.0,566.1 L200.5,566.1 L201.0,566.1 L201.5,566.1 L202.0,566.1 L202.5,566.1 L203.0,566.1 L203.5,566.1 L204.0,566.1 L204.5,566.1 L205.0,566.1 L205.5,566.1 L206.0,566.1 L206.5,566.1 L207.0,566.1 L207.5,566.1 L208.0,566.1 L208.5,566.1 L209.0,566.1 L209.5,566.1 L210.0,566.1 L210.5,566.1 L211.0,566.1 L211.5,566.1 L212.0,566.1 L212.5,566.1 L213.0,566.1 L213.5,566.1 L214.0,566.1 L214.5,566.1 L215.0,566.1 L215.5,566.1 L216.0,566.1 L216.5,566.1 L217.0,566.1 L217.5,566.1 L218.0,566.1 L218.5,566.1 L219.0,566.1" fill="none" stroke="#9b55dc" stroke-width="1.3"/>
<path d="M16.0,565.8 L17.7,564.8 L19.4,566.1 L21.1,564.4 L22.8,565.8 L24.5,565.4 L26.2,566.0 L27.9,569.8 L29.6,564.5 L31.3,565.5 L33.0,564.9 L34.7,566.9 L36.4,562.6 L38.1,563.8 L39.8,565.2 L41.5,566.5 L43.2,565.1 L44.9,564.0 L46.6,563.0 L48.3,566.0 L50.0,567.9 L51.7,565.0 L53.4,564.3 L55.1,564.3 L56.8,560.4 L58.5,560.9 L60.2,559.8 L61.9,559.6 L63.6,557.0 L65.3,552.1 L67.0,554.9 L68.7,553.2 L70.4,545.2 L72.1,542.8 L73.8,538.2 L75.5,534.6 L77.2,524.3 L78.9,526.0 L80.6,515.6 L82.3,514.0 L84.0,505.6 L85.7,499.1 L87.4,494.6 L89.1,492.2 L90.8,484.0 L92.5,481.5 L94.2,478.4 L95.9,473.5 L97.6,479.2 L99.3,477.2 L101.0,476.3 L102.7,480.2 L104.4,477.3 L106.1,481.8 L107.8,488.9 L109.5,490.6 L111.2,486.9 L112.9,488.2 L114.6,497.5 L116.3,506.5 L118.0,507.2 L119.7,512.1 L121.4,518.2 L123.1,518.9 L124.8,525.4 L126.5,530.4 L128.2,533.1 L129.9,535.9 L131.6,536.0 L133.3,540.3 L135.0,539.0 L136.7,543.1 L138.4,545.1 L140.1,535.6 L141.8,529.5 L143.5,530.0 L145.2,527.6 L146.9,524.6 L148.6,520.1 L150.3,511.6 L152.0,508.0 L153.7,510.2 L155.4,503.6 L157.1,508.7 L158.8,507.3 L160.5,512.5 L162.2,516.5 L163.9,521.7 L165.6,527.3 L167.3,528.9 L169.0,537.5 L170.7,542.2 L172.4,547.8 L174.1,554.1 L175.8,554.1 L177.5,556.0 L179.2,558.2 L180.9,560.8 L182.6,564.5 L184.3,561.8 L186.0,567.0 L187.7,565.4 L189.4,564.5 L191.1,562.1 L192.8,565.8 L194.5,566.9 L196.2,561.3 L197.9,568.1 L199.6,569.2 L201.3,566.2 L203.0,566.5 L204.7,571.0 L206.4,568.2 L208.1,563.3 L209.8,565.4 L211.5,565.0 L213.2,565.1 L214.9,560.0 L216.6,567.1 L218.3,563.9" fill="none" stroke="#2a2a3a" stroke-width="0.6" stroke-dasharray="1.3,1.3"/>
<circle cx="16.0" cy="565.8" r="0.8" fill="#2a2a40"/>
<circle cx="17.7" cy="564.8" r="0.8" fill="#2a2a40"/>
<circle cx="19.4" cy="566.1" r="0.8" fill="#2a2a40"/>
<circle cx="21.1" cy="564.4" r="0.8" fill="#2a2a40"/>
<circle cx="22.8" cy="565.8" r="0.8" fill="#2a2a40"/>
<circle cx="24.5" cy="565.4" r="0.8" fill="#2a2a40"/>
<circle cx="26.2" cy="566.0" r="0.8" fill="#2a2a40"/>
<circle cx="27.9" cy="569.8" r="0.8" fill="#2a2a40"/>
<circle cx="29.6" cy="564.5" r="0.8" fill="#2a2a40"/>
<circle cx="31.3" cy="565.5" r="0.8" fill="#2a2a40"/>
<circle cx="33.0" cy="564.9" r="0.8" fill="#2a2a40"/>
<circle cx="34.7" cy="566.9" r="0.8" fill="#2a2a40"/>
<circle cx="36.4" cy="562.6" r="0.8" fill="#2a2a40"/>
<circle cx="38.1" cy="563.8" r="0.8" fill="#2a2a40"/>
<circle cx="39.8" cy="565.2" r="0.8" fill="#2a2a40"/>
<circle cx="41.5" cy="566.5" r="0.8" fill="#2a2a40"/>
<circle cx="43.2" cy="565.1" r="0.8" fill="#2a2a40"/>
<circle cx="44.9" cy="564.0" r="0.8" fill="#2a2a40"/>
<circle cx="46.6" cy="563.0" r="0.8" fill="#2a2a40"/>
<circle cx="48.3" cy="566.0" r="0.8" fill="#2a2a40"/>
<circle cx="50.0" cy="567.9" r="0.8" fill="#2a2a40"/>
<circle cx="51.7" cy="565.0" r="0.8" fill="#2a2a40"/>
<circle cx="53.4" cy="564.3" r="0.8" fill="#2a2a40"/>
<circle cx="55.1" cy="564.3" r="0.8" fill="#2a2a40"/>
<circle cx="56.8" cy="560.4" r="0.8" fill="#2a2a40"/>
<circle cx="58.5" cy="560.9" r="0.8" fill="#2a2a40"/>
<circle cx="60.2" cy="559.8" r="0.8" fill="#2a2a40"/>
<circle cx="61.9" cy="559.6" r="0.8" fill="#2a2a40"/>
<circle cx="63.6" cy="557.0" r="0.8" fill="#2a2a40"/>
<circle cx="65.3" cy="552.1" r="0.8" fill="#2a2a40"/>
<circle cx="67.0" cy="554.9" r="0.8" fill="#2a2a40"/>
<circle cx="68.7" cy="553.2" r="0.8" fill="#2a2a40"/>
<circle cx="70.4" cy="545.2" r="0.8" fill="#2a2a40"/>
<circle cx="72.1" cy="542.8" r="0.8" fill="#2a2a40"/>
<circle cx="73.8" cy="538.2" r="0.8" fill="#2a2a40"/>
<circle cx="75.5" cy="534.6" r="0.8" fill="#2a2a40"/>
<circle cx="77.2" cy="524.3" r="0.8" fill="#2a2a40"/>
<circle cx="78.9" cy="526.0" r="0.8" fill="#2a2a40"/>
<circle cx="80.6" cy="515.6" r="0.8" fill="#2a2a40"/>
<circle cx="82.3" cy="514.0" r="0.8" fill="#2a2a40"/>
<circle cx="84.0" cy="505.6" r="0.8" fill="#2a2a40"/>
<circle cx="85.7" cy="499.1" r="0.8" fill="#2a2a40"/>
<circle cx="87.4" cy="494.6" r="0.8" fill="#2a2a40"/>
<circle cx="89.1" cy="492.2" r="0.8" fill="#2a2a40"/>
<circle cx="90.8" cy="484.0" r="0.8" fill="#2a2a40"/>
<circle cx="92.5" cy="481.5" r="0.8" fill="#2a2a40"/>
<circle cx="94.2" cy="478.4" r="0.8" fill="#2a2a40"/>
<circle cx="95.9" cy="473.5" r="0.8" fill="#2a2a40"/>
<circle cx="97.6" cy="479.2" r="0.8" fill="#2a2a40"/>
<circle cx="99.3" cy="477.2" r="0.8" fill="#2a2a40"/>
<circle cx="101.0" cy="476.3" r="0.8" fill="#2a2a40"/>
<circle cx="102.7" cy="480.2" r="0.8" fill="#2a2a40"/>
<circle cx="104.4" cy="477.3" r="0.8" fill="#2a2a40"/>
<circle cx="106.1" cy="481.8" r="0.8" fill="#2a2a40"/>
<circle cx="107.8" cy="488.9" r="0.8" fill="#2a2a40"/>
<circle cx="109.5" cy="490.6" r="0.8" fill="#2a2a40"/>
<circle cx="111.2" cy="486.9" r="0.8" fill="#2a2a40"/>
<circle cx="112.9" cy="488.2" r="0.8" fill="#2a2a40"/>
<circle cx="114.6" cy="497.5" r="0.8" fill="#2a2a40"/>
<circle cx="116.3" cy="506.5" r="0.8" fill="#2a2a40"/>
<circle cx="118.0" cy="507.2" r="0.8" fill="#2a2a40"/>
<circle cx="119.7" cy="512.1" r="0.8" fill="#2a2a40"/>
<circle cx="121.4" cy="518.2" r="0.8" fill="#2a2a40"/>
<circle cx="123.1" cy="518.9" r="0.8" fill="#2a2a40"/>
<circle cx="124.8" cy="525.4" r="0.8" fill="#2a2a40"/>
<circle cx="126.5" cy="530.4" r="0.8" fill="#2a2a40"/>
<circle cx="128.2" cy="533.1" r="0.8" fill="#2a2a40"/>
<circle cx="129.9" cy="535.9" r="0.8" fill="#2a2a40"/>
<circle cx="131.6" cy="536.0" r="0.8" fill="#2a2a40"/>
<circle cx="133.3" cy="540.3" r="0.8" fill="#2a2a40"/>
<circle cx="135.0" cy="539.0" r="0.8" fill="#2a2a40"/>
<circle cx="136.7" cy="543.1" r="0.8" fill="#2a2a40"/>
<circle cx="138.4" cy="545.1" r="0.8" fill="#2a2a40"/>
<circle cx="140.1" cy="535.6" r="0.8" fill="#2a2a40"/>
<circle cx="141.8" cy="529.5" r="0.8" fill="#2a2a40"/>
<circle cx="143.5" cy="530.0" r="0.8" fill="#2a2a40"/>
<circle cx="145.2" cy="527.6" r="0.8" fill="#2a2a40"/>
<circle cx="146.9" cy="524.6" r="0.8" fill="#2a2a40"/>
<circle cx="148.6" cy="520.1" r="0.8" fill="#2a2a40"/>
<circle cx="150.3" cy="511.6" r="0.8" fill="#2a2a40"/>
<circle cx="152.0" cy="508.0" r="0.8" fill="#2a2a40"/>
<circle cx="153.7" cy="510.2" r="0.8" fill="#2a2a40"/>
<circle cx="155.4" cy="503.6" r="0.8" fill="#2a2a40"/>
<circle cx="157.1" cy="508.7" r="0.8" fill="#2a2a40"/>
<circle cx="158.8" cy="507.3" r="0.8" fill="#2a2a40"/>
<circle cx="160.5" cy="512.5" r="0.8" fill="#2a2a40"/>
<circle cx="162.2" cy="516.5" r="0.8" fill="#2a2a40"/>
<circle cx="163.9" cy="521.7" r="0.8" fill="#2a2a40"/>
<circle cx="165.6" cy="527.3" r="0.8" fill="#2a2a40"/>
<circle cx="167.3" cy="528.9" r="0.8" fill="#2a2a40"/>
<circle cx="169.0" cy="537.5" r="0.8" fill="#2a2a40"/>
<circle cx="170.7" cy="542.2" r="0.8" fill="#2a2a40"/>
<circle cx="172.4" cy="547.8" r="0.8" fill="#2a2a40"/>
<circle cx="174.1" cy="554.1" r="0.8" fill="#2a2a40"/>
<circle cx="175.8" cy="554.1" r="0.8" fill="#2a2a40"/>
<circle cx="177.5" cy="556.0" r="0.8" fill="#2a2a40"/>
<circle cx="179.2" cy="558.2" r="0.8" fill="#2a2a40"/>
<circle cx="180.9" cy="560.8" r="0.8" fill="#2a2a40"/>
<circle cx="182.6" cy="564.5" r="0.8" fill="#2a2a40"/>
<circle cx="184.3" cy="561.8" r="0.8" fill="#2a2a40"/>
<circle cx="186.0" cy="567.0" r="0.8" fill="#2a2a40"/>
<circle cx="187.7" cy="565.4" r="0.8" fill="#2a2a40"/>
<circle cx="189.4" cy="564.5" r="0.8" fill="#2a2a40"/>
<circle cx="191.1" cy="562.1" r="0.8" fill="#2a2a40"/>
<circle cx="192.8" cy="565.8" r="0.8" fill="#2a2a40"/>
<circle cx="194.5" cy="566.9" r="0.8" fill="#2a2a40"/>
<circle cx="196.2" cy="561.3" r="0.8" fill="#2a2a40"/>
<circle cx="197.9" cy="568.1" r="0.8" fill="#2a2a40"/>
<circle cx="199.6" cy="569.2" r="0.8" fill="#2a2a40"/>
<circle cx="201.3" cy="566.2" r="0.8" fill="#2a2a40"/>
<circle cx="203.0" cy="566.5" r="0.8" fill="#2a2a40"/>
<circle cx="204.7" cy="571.0" r="0.8" fill="#2a2a40"/>
<circle cx="206.4" cy="568.2" r="0.8" fill="#2a2a40"/>
<circle cx="208.1" cy="563.3" r="0.8" fill="#2a2a40"/>
<circle cx="209.8" cy="565.4" r="0.8" fill="#2a2a40"/>
<circle cx="211.5" cy="565.0" r="0.8" fill="#2a2a40"/>
<circle cx="213.2" cy="565.1" r="0.8" fill="#2a2a40"/>
<circle cx="214.9" cy="560.0" r="0.8" fill="#2a2a40"/>
<circle cx="216.6" cy="567.1" r="0.8" fill="#2a2a40"/>
<circle cx="218.3" cy="563.9" r="0.8" fill="#2a2a40"/>
<path d="M219.0,565.9 L220.4,565.1 L221.8,567.8 L223.2,564.7 L224.6,563.4 L226.0,566.9 L227.4,569.2 L228.8,564.7 L230.2,569.1 L231.6,566.2 L233.0,564.1 L234.4,569.5 L235.8,563.4 L237.2,568.1 L238.6,564.2 L240.0,566.7 L241.4,562.3 L242.8,563.3 L244.2,568.3 L245.6,566.0 L247.0,565.6 L248.4,564.4 L249.8,566.7" fill="none" stroke="#e8322a" stroke-width="0.9" stroke-dasharray="1.5,1"/>
<circle cx="219.0" cy="565.9" r="0.7" fill="#e8322a"/>
<circle cx="220.4" cy="565.1" r="0.7" fill="#e8322a"/>
<circle cx="221.8" cy="567.8" r="0.7" fill="#e8322a"/>
<circle cx="223.2" cy="564.7" r="0.7" fill="#e8322a"/>
<circle cx="224.6" cy="563.4" r="0.7" fill="#e8322a"/>
<circle cx="226.0" cy="566.9" r="0.7" fill="#e8322a"/>
<circle cx="227.4" cy="569.2" r="0.7" fill="#e8322a"/>
<circle cx="228.8" cy="564.7" r="0.7" fill="#e8322a"/>
<circle cx="230.2" cy="569.1" r="0.7" fill="#e8322a"/>
<circle cx="231.6" cy="566.2" r="0.7" fill="#e8322a"/>
<circle cx="233.0" cy="564.1" r="0.7" fill="#e8322a"/>
<circle cx="234.4" cy="569.5" r="0.7" fill="#e8322a"/>
<circle cx="235.8" cy="563.4" r="0.7" fill="#e8322a"/>
<circle cx="237.2" cy="568.1" r="0.7" fill="#e8322a"/>
<circle cx="238.6" cy="564.2" r="0.7" fill="#e8322a"/>
<circle cx="240.0" cy="566.7" r="0.7" fill="#e8322a"/>
<circle cx="241.4" cy="562.3" r="0.7" fill="#e8322a"/>
<circle cx="242.8" cy="563.3" r="0.7" fill="#e8322a"/>
<circle cx="244.2" cy="568.3" r="0.7" fill="#e8322a"/>
<circle cx="245.6" cy="566.0" r="0.7" fill="#e8322a"/>
<circle cx="247.0" cy="565.6" r="0.7" fill="#e8322a"/>
<circle cx="248.4" cy="564.4" r="0.7" fill="#e8322a"/>
<circle cx="249.8" cy="566.7" r="0.7" fill="#e8322a"/>
<text x="18.3" y="334.9" font-size="7.15" font-weight="bold" text-anchor="start" fill="#111" >After SF<tspan baseline-shift="-1.8" font-size="5.3">6</tspan>/Ar plasma</text>
<text x="18.2" y="457.6" font-size="7.15" font-weight="bold" text-anchor="start" fill="#111" >After CHF<tspan baseline-shift="-1.8" font-size="5.3">3</tspan>/CF<tspan baseline-shift="-1.8" font-size="5.3">4</tspan>/Ar plasma</text>
<text x="96.9" y="345.548" font-size="6.8" font-weight="bold" text-anchor="middle" fill="#1a1a1a" >Al-F<tspan baseline-shift="-1.8" font-size="5">3</tspan></text>
<text x="96.3" y="355.748" font-size="6.8" font-weight="bold" text-anchor="middle" fill="#1a1a1a" >( 76.6 eV)</text>
<text x="123.6" y="367.84799999999996" font-size="6.8" font-weight="bold" text-anchor="middle" fill="#1a1a1a" >Al-F<tspan baseline-shift="-1.8" font-size="5">x</tspan></text>
<text x="123.1" y="377.448" font-size="6.8" font-weight="bold" text-anchor="middle" fill="#1a1a1a" >( 75.8 eV)</text>
<text x="155" y="373.048" font-size="6.8" font-weight="bold" text-anchor="middle" fill="#1a1a1a" >Al-N</text>
<text x="156" y="381.64799999999997" font-size="6.8" font-weight="bold" text-anchor="middle" fill="#1a1a1a" >( 74 eV)</text>
<rect x="186.9" y="327" width="63.6" height="42" fill="#fff" stroke="#a0a0a0" stroke-width="0.7"/>
<line x1="188.5" y1="331.5" x2="201" y2="331.5" stroke="#333" stroke-width="0.6" stroke-dasharray="1.5,1" opacity="0.8"/>
<circle cx="194.5" cy="331.5" r="0.9" fill="#333"/>
<text x="203.4" y="333.8" font-size="6.3" font-weight="normal" text-anchor="start" fill="#3a3a3a" >Auquired data</text>
<line x1="188.5" y1="339.2" x2="201" y2="339.2" stroke="#e8322a" stroke-width="0.6" stroke-dasharray="1.5,1" opacity="0.8"/>
<circle cx="194.5" cy="339.2" r="0.9" fill="#e8322a"/>
<text x="203.4" y="341.5" font-size="6.3" font-weight="normal" text-anchor="start" fill="#3a3a3a" >Fitted envelope</text>
<line x1="188.5" y1="346.6" x2="201" y2="346.6" stroke="#2f5fd6" stroke-width="0.6" stroke-dasharray="1.5,1" opacity="0.8"/>
<circle cx="194.5" cy="346.6" r="0.9" fill="#2f5fd6"/>
<text x="203.4" y="348.90000000000003" font-size="6.3" font-weight="normal" text-anchor="start" fill="#3a3a3a" >Fitted Al-N peak</text>
<line x1="188.5" y1="354.2" x2="201" y2="354.2" stroke="#3a9f5a" stroke-width="0.6" stroke-dasharray="1.5,1" opacity="0.8"/>
<circle cx="194.5" cy="354.2" r="0.9" fill="#3a9f5a"/>
<text x="203.4" y="356.5" font-size="6.3" font-weight="normal" text-anchor="start" fill="#3a3a3a" >Fitted Al-F<tspan baseline-shift="-1.5" font-size="4.5">x</tspan> peak</text>
<line x1="188.5" y1="362.5" x2="201" y2="362.5" stroke="#9b55dc" stroke-width="0.6" stroke-dasharray="1.5,1" opacity="0.8"/>
<circle cx="194.5" cy="362.5" r="0.9" fill="#9b55dc"/>
<text x="203.4" y="364.8" font-size="6.3" font-weight="normal" text-anchor="start" fill="#3a3a3a" >Fitted Al-F<tspan baseline-shift="-1.5" font-size="4.5">3</tspan> peak</text>
<line x1="250.0" y1="577" x2="250.0" y2="579.5" stroke="#8a8a8a" stroke-width="0.9" />
<text x="250.0" y="587.9" font-size="7.6" font-weight="bold" text-anchor="middle" fill="#111" >70</text>
<line x1="226.54999999999998" y1="577" x2="226.54999999999998" y2="579.5" stroke="#8a8a8a" stroke-width="0.9" />
<text x="226.54999999999998" y="587.9" font-size="7.6" font-weight="bold" text-anchor="middle" fill="#111" >71</text>
<line x1="203.1" y1="577" x2="203.1" y2="579.5" stroke="#8a8a8a" stroke-width="0.9" />
<text x="203.1" y="587.9" font-size="7.6" font-weight="bold" text-anchor="middle" fill="#111" >72</text>
<line x1="179.65" y1="577" x2="179.65" y2="579.5" stroke="#8a8a8a" stroke-width="0.9" />
<text x="179.65" y="587.9" font-size="7.6" font-weight="bold" text-anchor="middle" fill="#111" >73</text>
<line x1="156.2" y1="577" x2="156.2" y2="579.5" stroke="#8a8a8a" stroke-width="0.9" />
<text x="156.2" y="587.9" font-size="7.6" font-weight="bold" text-anchor="middle" fill="#111" >74</text>
<line x1="132.75" y1="577" x2="132.75" y2="579.5" stroke="#8a8a8a" stroke-width="0.9" />
<text x="132.75" y="587.9" font-size="7.6" font-weight="bold" text-anchor="middle" fill="#111" >75</text>
<line x1="109.3" y1="577" x2="109.3" y2="579.5" stroke="#8a8a8a" stroke-width="0.9" />
<text x="109.3" y="587.9" font-size="7.6" font-weight="bold" text-anchor="middle" fill="#111" >76</text>
<line x1="85.85" y1="577" x2="85.85" y2="579.5" stroke="#8a8a8a" stroke-width="0.9" />
<text x="85.85" y="587.9" font-size="7.6" font-weight="bold" text-anchor="middle" fill="#111" >77</text>
<line x1="62.4" y1="577" x2="62.4" y2="579.5" stroke="#8a8a8a" stroke-width="0.9" />
<text x="62.4" y="587.9" font-size="7.6" font-weight="bold" text-anchor="middle" fill="#111" >78</text>
<line x1="38.95" y1="577" x2="38.95" y2="579.5" stroke="#8a8a8a" stroke-width="0.9" />
<text x="38.95" y="587.9" font-size="7.6" font-weight="bold" text-anchor="middle" fill="#111" >79</text>
<line x1="15.5" y1="577" x2="15.5" y2="579.5" stroke="#8a8a8a" stroke-width="0.9" />
<text x="15.5" y="587.9" font-size="7.6" font-weight="bold" text-anchor="middle" fill="#111" >80</text>
<line x1="238.275" y1="577" x2="238.275" y2="578.5" stroke="#a0a0a0" stroke-width="0.7" />
<line x1="214.825" y1="577" x2="214.825" y2="578.5" stroke="#a0a0a0" stroke-width="0.7" />
<line x1="191.375" y1="577" x2="191.375" y2="578.5" stroke="#a0a0a0" stroke-width="0.7" />
<line x1="167.92499999999998" y1="577" x2="167.92499999999998" y2="578.5" stroke="#a0a0a0" stroke-width="0.7" />
<line x1="144.475" y1="577" x2="144.475" y2="578.5" stroke="#a0a0a0" stroke-width="0.7" />
<line x1="121.02499999999999" y1="577" x2="121.02499999999999" y2="578.5" stroke="#a0a0a0" stroke-width="0.7" />
<line x1="97.575" y1="577" x2="97.575" y2="578.5" stroke="#a0a0a0" stroke-width="0.7" />
<line x1="74.125" y1="577" x2="74.125" y2="578.5" stroke="#a0a0a0" stroke-width="0.7" />
<line x1="50.675" y1="577" x2="50.675" y2="578.5" stroke="#a0a0a0" stroke-width="0.7" />
<line x1="27.225" y1="577" x2="27.225" y2="578.5" stroke="#a0a0a0" stroke-width="0.7" />
<text x="133.1" y="601.8" font-size="8.9" font-weight="bold" text-anchor="middle" fill="#111" >Binding Energy, eV</text>
<text transform="translate(12.3,447.4) rotate(-90)" font-size="9.0" font-weight="bold" text-anchor="middle" fill="#111">Intensity (a.u.)</text>
<text x="273" y="323.2" font-size="12.5" font-weight="bold" text-anchor="start" fill="#000" >d)</text>
<text x="405.1" y="319.8" font-size="9.1" font-weight="bold" text-anchor="middle" fill="#000" >N<tspan font-style="italic">1s</tspan> (at 76.25°)</text>
<rect x="289.5" y="324.5" width="225.0" height="254.5" fill="none" stroke="#adadad" stroke-width="1.1"/>
<line x1="289.5" y1="579" x2="514.5" y2="579" stroke="#9c9c9c" stroke-width="1.3" />
<line x1="289.5" y1="451.5" x2="514.5" y2="451.5" stroke="#c8c8c8" stroke-width="0.8" />
<line x1="449.6" y1="424" x2="449.6" y2="579" stroke="#f3c07a" stroke-width="0.8" stroke-dasharray="1.5,1.2"/>
<line x1="457.4" y1="395" x2="457.4" y2="579" stroke="#7894e8" stroke-width="0.8" stroke-dasharray="1.5,1.2"/>
<path d="M289.5,417.9 L290.5,418.2 L291.5,419.1 L292.5,418.5 L293.5,418.7 L294.5,419.3 L295.5,419.3 L296.5,419.3 L297.5,421.0 L298.5,420.4 L299.5,420.7 L300.5,419.6 L301.5,419.2 L302.5,418.4 L303.5,419.4 L304.5,417.9 L305.5,419.3 L306.5,420.6 L307.5,421.4 L308.5,420.9" fill="none" stroke="#7c7c7c" stroke-width="0.85"/>
<path d="M377.0,431.8 L378.0,433.1 L379.0,432.2 L380.0,433.8 L381.0,433.1 L382.0,434.2 L383.0,435.9 L384.0,434.5 L385.0,436.0 L386.0,434.2 L387.0,433.9 L388.0,435.6 L389.0,436.1 L390.0,434.2 L391.0,434.9 L392.0,433.7 L393.0,435.0 L394.0,436.1 L395.0,435.4 L396.0,435.1 L397.0,434.5 L398.0,436.3 L399.0,436.8 L400.0,436.8 L401.0,436.7 L402.0,435.4 L403.0,438.3 L404.0,436.9 L405.0,436.9 L406.0,437.9 L407.0,435.4 L408.0,437.4 L409.0,437.5 L410.0,438.1 L411.0,439.2 L412.0,438.5 L413.0,436.6 L414.0,438.1 L415.0,438.7 L416.0,438.8 L417.0,437.6 L418.0,437.4 L419.0,439.5 L420.0,439.4 L421.0,439.2 L422.0,437.8 L423.0,441.1 L424.0,437.0 L425.0,439.4 L426.0,441.7 L427.0,439.8 L428.0,440.3 L429.0,439.2 L430.0,441.6 L431.0,439.3 L432.0,440.8" fill="none" stroke="#7c7c7c" stroke-width="0.85"/>
<path d="M496.0,450.4 L497.0,449.4 L498.0,451.2 L499.0,449.2 L500.0,450.0 L501.0,450.6 L502.0,450.3 L503.0,451.2 L504.0,451.7 L505.0,450.6 L506.0,450.5 L507.0,450.5 L508.0,450.7 L509.0,451.8 L510.0,450.9 L511.0,451.6 L512.0,451.1 L513.0,450.5" fill="none" stroke="#7c7c7c" stroke-width="0.85"/>
<path d="M308.0,419.4 L308.4,419.4 L308.8,419.4 L309.2,419.4 L309.6,419.5 L310.0,419.5 L310.4,419.5 L310.8,419.5 L311.2,419.5 L311.6,419.5 L312.0,419.5 L312.4,419.5 L312.8,419.5 L313.2,419.6 L313.6,419.6 L314.0,419.6 L314.4,419.6 L314.8,419.6 L315.2,419.6 L315.6,419.6 L316.0,419.6 L316.4,419.6 L316.8,419.6 L317.2,419.7 L317.6,419.7 L318.0,419.7 L318.4,419.7 L318.8,419.7 L319.2,419.7 L319.6,419.7 L320.0,419.7 L320.4,419.7 L320.8,419.7 L321.2,419.7 L321.6,419.7 L322.0,419.7 L322.4,419.6 L322.8,419.6 L323.2,419.6 L323.6,419.6 L324.0,419.6 L324.4,419.5 L324.8,419.5 L325.2,419.4 L325.6,419.4 L326.0,419.3 L326.4,419.2 L326.8,419.2 L327.2,419.1 L327.6,419.0 L328.0,418.8 L328.4,418.7 L328.8,418.5 L329.2,418.3 L329.6,418.1 L330.0,417.8 L330.4,417.5 L330.8,417.1 L331.2,416.6 L331.6,416.1 L332.0,415.5 L332.4,414.9 L332.8,414.1 L333.2,413.2 L333.6,412.2 L334.0,411.1 L334.4,409.9 L334.8,408.5 L335.2,407.0 L335.6,405.3 L336.0,403.5 L336.4,401.6 L336.8,399.5 L337.2,397.4 L337.6,395.1 L338.0,392.8 L338.4,390.4 L338.8,388.0 L339.2,385.7 L339.6,383.4 L340.0,381.3 L340.4,379.4 L340.8,377.8 L341.2,376.5 L341.6,375.6 L342.0,375.1 L342.4,375.1 L342.8,375.6 L343.2,376.5 L343.6,377.7 L344.0,379.3 L344.4,381.1 L344.8,383.1 L345.2,385.3 L345.6,387.4 L346.0,389.6 L346.4,391.7 L346.8,393.7 L347.2,395.7 L347.6,397.4 L348.0,399.1 L348.4,400.6 L348.8,401.9 L349.2,403.0 L349.6,404.0 L350.0,404.8 L350.4,405.5 L350.8,406.1 L351.2,406.5 L351.6,406.9 L352.0,407.2 L352.4,407.4 L352.8,407.6 L353.2,407.7 L353.6,407.8 L354.0,407.9 L354.4,408.0 L354.8,408.1 L355.2,408.2 L355.6,408.3 L356.0,408.4 L356.4,408.6 L356.8,408.8 L357.2,409.0 L357.6,409.3 L358.0,409.6 L358.4,410.0 L358.8,410.3 L359.2,410.8 L359.6,411.2 L360.0,411.8 L360.4,412.3 L360.8,412.9 L361.2,413.6 L361.6,414.3 L362.0,415.0 L362.4,415.7 L362.8,416.5 L363.2,417.3 L363.6,418.1 L364.0,418.9 L364.4,419.7 L364.8,420.5 L365.2,421.3 L365.6,422.1 L366.0,422.8 L366.4,423.6 L366.8,424.3 L367.2,425.0 L367.6,425.6 L368.0,426.2 L368.4,426.8 L368.8,427.3 L369.2,427.8 L369.6,428.3 L370.0,428.7 L370.4,429.1 L370.8,429.4 L371.2,429.7 L371.6,430.0 L372.0,430.3 L372.4,430.5 L372.8,430.8 L373.2,431.0 L373.6,431.1 L374.0,431.3 L374.4,431.4 L374.8,431.6 L375.2,431.7 L375.6,431.8 L376.0,431.9 L376.4,432.0 L376.8,432.1 L377.2,432.2" fill="none" stroke="#d886a2" stroke-width="1.7"/>
<path d="M308.0,420.0 L308.4,420.0 L308.8,420.0 L309.2,420.1 L309.6,420.1 L310.0,420.1 L310.4,420.1 L310.8,420.2 L311.2,420.2 L311.6,420.2 L312.0,420.3 L312.4,420.3 L312.8,420.3 L313.2,420.3 L313.6,420.4 L314.0,420.4 L314.4,420.4 L314.8,420.5 L315.2,420.5 L315.6,420.6 L316.0,420.6 L316.4,420.6 L316.8,420.7 L317.2,420.7 L317.6,420.8 L318.0,420.8 L318.4,420.8 L318.8,420.9 L319.2,420.9 L319.6,421.0 L320.0,421.0 L320.4,421.1 L320.8,421.1 L321.2,421.2 L321.6,421.2 L322.0,421.2 L322.4,421.3 L322.8,421.3 L323.2,421.4 L323.6,421.4 L324.0,421.5 L324.4,421.5 L324.8,421.6 L325.2,421.6 L325.6,421.7 L326.0,421.7 L326.4,421.8 L326.8,421.8 L327.2,421.9 L327.6,421.9 L328.0,422.0 L328.4,422.1 L328.8,422.1 L329.2,422.2 L329.6,422.3 L330.0,422.3 L330.4,422.4 L330.8,422.5 L331.2,422.5 L331.6,422.6 L332.0,422.7 L332.4,422.7 L332.8,422.8 L333.2,422.9 L333.6,423.0 L334.0,423.0 L334.4,423.1 L334.8,423.2 L335.2,423.3 L335.6,423.3 L336.0,423.4 L336.4,423.5 L336.8,423.6 L337.2,423.6 L337.6,423.7 L338.0,423.8 L338.4,423.9 L338.8,424.0 L339.2,424.0 L339.6,424.1 L340.0,424.2 L340.4,424.3 L340.8,424.3 L341.2,424.4 L341.6,424.5 L342.0,424.6 L342.4,424.7 L342.8,424.8 L343.2,424.8 L343.6,424.9 L344.0,425.0 L344.4,425.1 L344.8,425.2 L345.2,425.3 L345.6,425.4 L346.0,425.5 L346.4,425.6 L346.8,425.7 L347.2,425.8 L347.6,425.9 L348.0,426.1 L348.4,426.2 L348.8,426.3 L349.2,426.4 L349.6,426.6 L350.0,426.7 L350.4,426.8 L350.8,427.0 L351.2,427.1 L351.6,427.2 L352.0,427.4 L352.4,427.5 L352.8,427.6 L353.2,427.8 L353.6,427.9 L354.0,428.0 L354.4,428.1 L354.8,428.2 L355.2,428.4 L355.6,428.5 L356.0,428.6 L356.4,428.7 L356.8,428.8 L357.2,428.9 L357.6,429.0 L358.0,429.1 L358.4,429.2 L358.8,429.3 L359.2,429.4 L359.6,429.5 L360.0,429.7 L360.4,429.8 L360.8,429.9 L361.2,430.0 L361.6,430.0 L362.0,430.1 L362.4,430.2 L362.8,430.3 L363.2,430.4 L363.6,430.5 L364.0,430.6 L364.4,430.7 L364.8,430.8 L365.2,430.8 L365.6,430.9 L366.0,431.0 L366.4,431.1 L366.8,431.1 L367.2,431.2 L367.6,431.3 L368.0,431.4 L368.4,431.4 L368.8,431.5 L369.2,431.6 L369.6,431.7 L370.0,431.7 L370.4,431.8 L370.8,431.9 L371.2,431.9 L371.6,432.0 L372.0,432.1 L372.4,432.1 L372.8,432.2 L373.2,432.2 L373.6,432.3 L374.0,432.4 L374.4,432.4 L374.8,432.5 L375.2,432.5 L375.6,432.6 L376.0,432.6 L376.4,432.7 L376.8,432.7 L377.2,432.8" fill="none" stroke="#6e2a78" stroke-width="1.2"/>
<path d="M308.0,419.4 L308.4,419.4 L308.8,419.4 L309.2,419.4 L309.6,419.5 L310.0,419.5 L310.4,419.5 L310.8,419.5 L311.2,419.5 L311.6,419.5 L312.0,419.5 L312.4,419.5 L312.8,419.5 L313.2,419.6 L313.6,419.6 L314.0,419.6 L314.4,419.6 L314.8,419.6 L315.2,419.6 L315.6,419.6 L316.0,419.6 L316.4,419.6 L316.8,419.6 L317.2,419.7 L317.6,419.7 L318.0,419.7 L318.4,419.7 L318.8,419.7 L319.2,419.7 L319.6,419.7 L320.0,419.7 L320.4,419.7 L320.8,419.7 L321.2,419.7 L321.6,419.7 L322.0,419.7 L322.4,419.6 L322.8,419.6 L323.2,419.6 L323.6,419.6 L324.0,419.6 L324.4,419.5 L324.8,419.5 L325.2,419.4 L325.6,419.4 L326.0,419.3 L326.4,419.2 L326.8,419.2 L327.2,419.1 L327.6,419.0 L328.0,418.8 L328.4,418.7 L328.8,418.5 L329.2,418.3 L329.6,418.1 L330.0,417.8 L330.4,417.5 L330.8,417.1 L331.2,416.6 L331.6,416.1 L332.0,415.5 L332.4,414.9 L332.8,414.1 L333.2,413.2 L333.6,412.2 L334.0,411.1 L334.4,409.9 L334.8,408.5 L335.2,407.0 L335.6,405.3 L336.0,403.5 L336.4,401.6 L336.8,399.5 L337.2,397.4 L337.6,395.1 L338.0,392.8 L338.4,390.4 L338.8,388.0 L339.2,385.7 L339.6,383.5 L340.0,381.4 L340.4,379.5 L340.8,377.9 L341.2,376.7 L341.6,375.8 L342.0,375.5 L342.4,375.5 L342.8,376.1 L343.2,377.1 L343.6,378.5 L344.0,380.3 L344.4,382.3 L344.8,384.6 L345.2,387.0 L345.6,389.5 L346.0,392.0 L346.4,394.6 L346.8,397.1 L347.2,399.5 L347.6,401.9 L348.0,404.2 L348.4,406.3 L348.8,408.3 L349.2,410.1 L349.6,411.9 L350.0,413.5 L350.4,414.9 L350.8,416.2 L351.2,417.4 L351.6,418.5 L352.0,419.5 L352.4,420.4 L352.8,421.2 L353.2,421.9 L353.6,422.5 L354.0,423.1 L354.4,423.6 L354.8,424.1 L355.2,424.5 L355.6,424.8 L356.0,425.2 L356.4,425.5 L356.8,425.8 L357.2,426.1 L357.6,426.3 L358.0,426.6 L358.4,426.8 L358.8,427.0 L359.2,427.2 L359.6,427.4 L360.0,427.6 L360.4,427.8 L360.8,428.0 L361.2,428.2 L361.6,428.3 L362.0,428.5 L362.4,428.7 L362.8,428.8 L363.2,428.9 L363.6,429.1 L364.0,429.2 L364.4,429.4 L364.8,429.5 L365.2,429.6 L365.6,429.7 L366.0,429.8 L366.4,429.9 L366.8,430.1 L367.2,430.2 L367.6,430.3 L368.0,430.4 L368.4,430.5 L368.8,430.6 L369.2,430.7 L369.6,430.8 L370.0,430.9 L370.4,431.0 L370.8,431.0 L371.2,431.1 L371.6,431.2 L372.0,431.3 L372.4,431.4 L372.8,431.5 L373.2,431.5 L373.6,431.6 L374.0,431.7 L374.4,431.8 L374.8,431.8 L375.2,431.9 L375.6,432.0 L376.0,432.0 L376.4,432.1 L376.8,432.2 L377.2,432.2" fill="none" stroke="#a84888" stroke-width="1.0"/>
<path d="M308.0,420.0 L308.4,420.0 L308.8,420.0 L309.2,420.1 L309.6,420.1 L310.0,420.1 L310.4,420.1 L310.8,420.2 L311.2,420.2 L311.6,420.2 L312.0,420.3 L312.4,420.3 L312.8,420.3 L313.2,420.3 L313.6,420.4 L314.0,420.4 L314.4,420.4 L314.8,420.5 L315.2,420.5 L315.6,420.6 L316.0,420.6 L316.4,420.6 L316.8,420.7 L317.2,420.7 L317.6,420.8 L318.0,420.8 L318.4,420.8 L318.8,420.9 L319.2,420.9 L319.6,421.0 L320.0,421.0 L320.4,421.1 L320.8,421.1 L321.2,421.2 L321.6,421.2 L322.0,421.2 L322.4,421.3 L322.8,421.3 L323.2,421.4 L323.6,421.4 L324.0,421.5 L324.4,421.5 L324.8,421.6 L325.2,421.6 L325.6,421.7 L326.0,421.7 L326.4,421.8 L326.8,421.8 L327.2,421.9 L327.6,421.9 L328.0,422.0 L328.4,422.1 L328.8,422.1 L329.2,422.2 L329.6,422.3 L330.0,422.3 L330.4,422.4 L330.8,422.5 L331.2,422.5 L331.6,422.6 L332.0,422.7 L332.4,422.7 L332.8,422.8 L333.2,422.9 L333.6,423.0 L334.0,423.0 L334.4,423.1 L334.8,423.2 L335.2,423.3 L335.6,423.3 L336.0,423.4 L336.4,423.5 L336.8,423.6 L337.2,423.6 L337.6,423.7 L338.0,423.8 L338.4,423.9 L338.8,423.9 L339.2,424.0 L339.6,424.1 L340.0,424.1 L340.4,424.2 L340.8,424.3 L341.2,424.3 L341.6,424.4 L342.0,424.4 L342.4,424.4 L342.8,424.4 L343.2,424.4 L343.6,424.4 L344.0,424.4 L344.4,424.3 L344.8,424.3 L345.2,424.2 L345.6,424.0 L346.0,423.9 L346.4,423.7 L346.8,423.5 L347.2,423.3 L347.6,423.1 L348.0,422.9 L348.4,422.6 L348.8,422.4 L349.2,422.2 L349.6,422.0 L350.0,421.8 L350.4,421.6 L350.8,421.5 L351.2,421.4 L351.6,421.4 L352.0,421.4 L352.4,421.5 L352.8,421.7 L353.2,421.9 L353.6,422.1 L354.0,422.4 L354.4,422.8 L354.8,423.2 L355.2,423.6 L355.6,424.0 L356.0,424.5 L356.4,425.0 L356.8,425.4 L357.2,425.9 L357.6,426.4 L358.0,426.8 L358.4,427.2 L358.8,427.6 L359.2,428.0 L359.6,428.3 L360.0,428.6 L360.4,428.9 L360.8,429.2 L361.2,429.4 L361.6,429.6 L362.0,429.8 L362.4,430.0 L362.8,430.1 L363.2,430.3 L363.6,430.4 L364.0,430.5 L364.4,430.6 L364.8,430.7 L365.2,430.8 L365.6,430.9 L366.0,431.0 L366.4,431.1 L366.8,431.1 L367.2,431.2 L367.6,431.3 L368.0,431.4 L368.4,431.4 L368.8,431.5 L369.2,431.6 L369.6,431.7 L370.0,431.7 L370.4,431.8 L370.8,431.9 L371.2,431.9 L371.6,432.0 L372.0,432.1 L372.4,432.1 L372.8,432.2 L373.2,432.2 L373.6,432.3 L374.0,432.4 L374.4,432.4 L374.8,432.5 L375.2,432.5 L375.6,432.6 L376.0,432.6 L376.4,432.7 L376.8,432.7 L377.2,432.8" fill="none" stroke="#8a3a96" stroke-width="1.0"/>
<path d="M308.0,420.0 L308.4,420.0 L308.8,420.0 L309.2,420.1 L309.6,420.1 L310.0,420.1 L310.4,420.1 L310.8,420.2 L311.2,420.2 L311.6,420.2 L312.0,420.3 L312.4,420.3 L312.8,420.3 L313.2,420.3 L313.6,420.4 L314.0,420.4 L314.4,420.4 L314.8,420.5 L315.2,420.5 L315.6,420.6 L316.0,420.6 L316.4,420.6 L316.8,420.7 L317.2,420.7 L317.6,420.8 L318.0,420.8 L318.4,420.8 L318.8,420.9 L319.2,420.9 L319.6,421.0 L320.0,421.0 L320.4,421.1 L320.8,421.1 L321.2,421.2 L321.6,421.2 L322.0,421.2 L322.4,421.3 L322.8,421.3 L323.2,421.4 L323.6,421.4 L324.0,421.5 L324.4,421.5 L324.8,421.6 L325.2,421.6 L325.6,421.7 L326.0,421.7 L326.4,421.8 L326.8,421.8 L327.2,421.9 L327.6,421.9 L328.0,422.0 L328.4,422.1 L328.8,422.1 L329.2,422.2 L329.6,422.3 L330.0,422.3 L330.4,422.4 L330.8,422.5 L331.2,422.5 L331.6,422.6 L332.0,422.7 L332.4,422.7 L332.8,422.8 L333.2,422.9 L333.6,423.0 L334.0,423.0 L334.4,423.1 L334.8,423.2 L335.2,423.3 L335.6,423.3 L336.0,423.4 L336.4,423.5 L336.8,423.6 L337.2,423.6 L337.6,423.7 L338.0,423.8 L338.4,423.9 L338.8,423.9 L339.2,424.0 L339.6,424.1 L340.0,424.2 L340.4,424.2 L340.8,424.3 L341.2,424.4 L341.6,424.4 L342.0,424.5 L342.4,424.5 L342.8,424.6 L343.2,424.6 L343.6,424.7 L344.0,424.7 L344.4,424.7 L344.8,424.7 L345.2,424.7 L345.6,424.7 L346.0,424.7 L346.4,424.6 L346.8,424.5 L347.2,424.4 L347.6,424.3 L348.0,424.2 L348.4,424.0 L348.8,423.8 L349.2,423.6 L349.6,423.3 L350.0,423.0 L350.4,422.7 L350.8,422.3 L351.2,421.9 L351.6,421.5 L352.0,421.0 L352.4,420.5 L352.8,420.0 L353.2,419.5 L353.6,419.0 L354.0,418.4 L354.4,417.9 L354.8,417.4 L355.2,416.8 L355.6,416.4 L356.0,415.9 L356.4,415.5 L356.8,415.2 L357.2,414.9 L357.6,414.6 L358.0,414.5 L358.4,414.4 L358.8,414.4 L359.2,414.4 L359.6,414.6 L360.0,414.8 L360.4,415.1 L360.8,415.5 L361.2,415.9 L361.6,416.4 L362.0,417.0 L362.4,417.6 L362.8,418.2 L363.2,418.9 L363.6,419.6 L364.0,420.3 L364.4,421.1 L364.8,421.8 L365.2,422.6 L365.6,423.3 L366.0,424.0 L366.4,424.7 L366.8,425.4 L367.2,426.0 L367.6,426.6 L368.0,427.2 L368.4,427.7 L368.8,428.2 L369.2,428.7 L369.6,429.2 L370.0,429.5 L370.4,429.9 L370.8,430.2 L371.2,430.5 L371.6,430.8 L372.0,431.1 L372.4,431.3 L372.8,431.5 L373.2,431.7 L373.6,431.8 L374.0,432.0 L374.4,432.1 L374.8,432.2 L375.2,432.3 L375.6,432.4 L376.0,432.5 L376.4,432.6 L376.8,432.6 L377.2,432.7" fill="none" stroke="#8a3a96" stroke-width="1.0"/>
<path d="M308.0,420.0 L309.2,420.5 L310.4,418.4 L311.6,419.3 L312.8,420.6 L314.0,419.5 L315.2,418.3 L316.4,420.0 L317.6,419.4 L318.8,419.0 L320.0,419.5 L321.2,419.5 L322.4,420.1 L323.6,418.7 L324.8,420.3 L326.0,419.3 L327.2,418.7 L328.4,418.6 L329.6,417.5 L330.8,417.6 L332.0,415.6 L333.2,413.9 L334.4,410.9 L335.6,404.7 L336.8,399.8 L338.0,392.0 L339.2,385.8 L340.4,380.9 L341.6,376.6 L342.8,375.1 L344.0,378.6 L345.2,384.1 L346.4,390.4 L347.6,396.9 L348.8,402.9 L350.0,405.4 L351.2,405.9 L352.4,406.7 L353.6,406.8 L354.8,408.2 L356.0,408.3 L357.2,408.1 L358.4,410.8 L359.6,410.9 L360.8,413.0 L362.0,415.1 L363.2,416.9 L364.4,420.6 L365.6,421.4 L366.8,423.0 L368.0,427.0 L369.2,428.3 L370.4,430.2 L371.6,429.3 L372.8,429.7 L374.0,431.6 L375.2,431.7 L376.4,432.6" fill="none" stroke="#c87a90" stroke-width="0.5" stroke-dasharray="1,1"/>
<path d="M432.0,440.6 L432.3,440.6 L432.6,440.6 L432.9,440.6 L433.2,440.6 L433.5,440.5 L433.8,440.5 L434.1,440.5 L434.4,440.4 L434.7,440.4 L435.0,440.4 L435.3,440.3 L435.6,440.3 L435.9,440.2 L436.2,440.1 L436.5,440.1 L436.8,440.0 L437.1,439.9 L437.4,439.9 L437.7,439.8 L438.0,439.7 L438.3,439.6 L438.6,439.5 L438.9,439.4 L439.2,439.3 L439.5,439.2 L439.8,439.1 L440.1,439.0 L440.4,438.9 L440.7,438.8 L441.0,438.6 L441.3,438.5 L441.6,438.4 L441.9,438.2 L442.2,438.0 L442.5,437.8 L442.8,437.5 L443.1,437.2 L443.4,436.8 L443.7,436.4 L444.0,436.0 L444.3,435.6 L444.6,435.1 L444.9,434.7 L445.2,434.2 L445.5,433.7 L445.8,433.3 L446.1,432.9 L446.4,432.4 L446.7,432.0 L447.0,431.5 L447.3,431.0 L447.6,430.5 L447.9,430.0 L448.2,429.5 L448.5,429.0 L448.8,428.4 L449.1,427.8 L449.4,427.1 L449.7,426.4 L450.0,425.7 L450.3,424.9 L450.6,424.2 L450.9,423.3 L451.2,422.5 L451.5,421.5 L451.8,420.6 L452.1,419.6 L452.4,418.5 L452.7,417.4 L453.0,416.2 L453.3,415.0 L453.6,413.7 L453.9,412.3 L454.2,410.6 L454.5,408.7 L454.8,406.7 L455.1,404.6 L455.4,402.5 L455.7,400.6 L456.0,398.7 L456.3,396.6 L456.6,394.6 L456.9,393.1 L457.2,392.5 L457.5,393.0 L457.8,394.2 L458.1,395.9 L458.4,397.7 L458.7,399.5 L459.0,401.0 L459.3,402.7 L459.6,404.4 L459.9,406.1 L460.2,407.7 L460.5,409.0 L460.8,410.1 L461.1,411.1 L461.4,412.0 L461.7,412.8 L462.0,413.6 L462.3,414.3 L462.6,415.0 L462.9,415.7 L463.2,416.3 L463.5,417.0 L463.8,417.6 L464.1,418.2 L464.4,418.8 L464.7,419.5 L465.0,420.2 L465.3,420.9 L465.6,421.7 L465.9,422.4 L466.2,423.2 L466.5,424.0 L466.8,424.7 L467.1,425.5 L467.4,426.3 L467.7,427.0 L468.0,427.8 L468.3,428.5 L468.6,429.2 L468.9,429.9 L469.2,430.5 L469.5,431.1 L469.8,431.6 L470.1,432.1 L470.4,432.6 L470.7,433.1 L471.0,433.5 L471.3,433.9 L471.6,434.4 L471.9,434.8 L472.2,435.2 L472.5,435.6 L472.8,435.9 L473.1,436.3 L473.4,436.7 L473.7,437.0 L474.0,437.3 L474.3,437.7 L474.6,438.0 L474.9,438.3 L475.2,438.6 L475.5,438.8 L475.8,439.1 L476.1,439.4 L476.4,439.6 L476.7,439.8 L477.0,440.0 L477.3,440.2 L477.6,440.4 L477.9,440.6 L478.2,440.8 L478.5,440.9 L478.8,441.1 L479.1,441.3 L479.4,441.4 L479.7,441.6 L480.0,441.7 L480.3,441.8 L480.6,442.0 L480.9,442.1 L481.2,442.2 L481.5,442.3 L481.8,442.5 L482.1,442.6 L482.4,442.7 L482.7,442.9 L483.0,443.0 L483.3,443.1 L483.6,443.3 L483.9,443.4 L484.2,443.5 L484.5,443.6 L484.8,443.7 L485.1,443.9 L485.4,444.0 L485.7,444.1 L486.0,444.2 L486.3,444.3 L486.6,444.4 L486.9,444.6 L487.2,444.7 L487.5,444.8 L487.8,444.9 L488.1,445.1 L488.4,445.2 L488.7,445.3 L489.0,445.5 L489.3,445.7 L489.6,445.8 L489.9,446.0 L490.2,446.2 L490.5,446.3 L490.8,446.5 L491.1,446.7 L491.4,446.9 L491.7,447.1 L492.0,447.3 L492.3,447.5 L492.6,447.7 L492.9,447.9 L493.2,448.1 L493.5,448.3 L493.8,448.6 L494.1,448.8 L494.4,449.0 L494.7,449.3 L495.0,449.5 L495.3,449.8 L495.6,450.0 L495.9,450.2 L496.2,450.5" fill="none" stroke="#c98c8c" stroke-width="1.3"/>
<path d="M432.0,440.6 L432.3,440.6 L432.6,440.6 L432.9,440.7 L433.2,440.7 L433.5,440.7 L433.8,440.7 L434.1,440.7 L434.4,440.8 L434.7,440.8 L435.0,440.8 L435.3,440.8 L435.6,440.8 L435.9,440.9 L436.2,440.9 L436.5,440.9 L436.8,440.9 L437.1,440.9 L437.4,441.0 L437.7,441.0 L438.0,441.0 L438.3,441.0 L438.6,441.0 L438.9,441.0 L439.2,440.9 L439.5,440.9 L439.8,440.9 L440.1,440.8 L440.4,440.8 L440.7,440.7 L441.0,440.6 L441.3,440.5 L441.6,440.3 L441.9,440.2 L442.2,440.0 L442.5,439.8 L442.8,439.5 L443.1,439.3 L443.4,439.0 L443.7,438.6 L444.0,438.3 L444.3,437.9 L444.6,437.5 L444.9,437.0 L445.2,436.6 L445.5,436.1 L445.8,435.6 L446.1,435.1 L446.4,434.6 L446.7,434.1 L447.0,433.6 L447.3,433.1 L447.6,432.6 L447.9,432.2 L448.2,431.8 L448.5,431.5 L448.8,431.2 L449.1,430.9 L449.4,430.7 L449.7,430.6 L450.0,430.6 L450.3,430.6 L450.6,430.6 L450.9,430.8 L451.2,431.0 L451.5,431.3 L451.8,431.6 L452.1,432.0 L452.4,432.4 L452.7,432.9 L453.0,433.4 L453.3,434.0 L453.6,434.5 L453.9,435.1 L454.2,435.7 L454.5,436.3 L454.8,436.9 L455.1,437.5 L455.4,438.1 L455.7,438.7 L456.0,439.2 L456.3,439.7 L456.6,440.2 L456.9,440.7 L457.2,441.1 L457.5,441.5 L457.8,441.9 L458.1,442.2 L458.4,442.5 L458.7,442.8 L459.0,443.1 L459.3,443.3 L459.6,443.5 L459.9,443.7 L460.2,443.9 L460.5,444.1 L460.8,444.2 L461.1,444.4 L461.4,444.5 L461.7,444.6 L462.0,444.7 L462.3,444.8 L462.6,444.9 L462.9,445.0 L463.2,445.1 L463.5,445.2 L463.8,445.3 L464.1,445.3 L464.4,445.4 L464.7,445.5 L465.0,445.6 L465.3,445.6 L465.6,445.7 L465.9,445.8 L466.2,445.8 L466.5,445.9 L466.8,446.0 L467.1,446.0 L467.4,446.1 L467.7,446.2 L468.0,446.2 L468.3,446.3 L468.6,446.4 L468.9,446.4 L469.2,446.5 L469.5,446.6 L469.8,446.6 L470.1,446.7 L470.4,446.7 L470.7,446.8 L471.0,446.8 L471.3,446.9 L471.6,446.9 L471.9,447.0 L472.2,447.1 L472.5,447.1 L472.8,447.2 L473.1,447.2 L473.4,447.3 L473.7,447.3 L474.0,447.4 L474.3,447.4 L474.6,447.5 L474.9,447.5 L475.2,447.6 L475.5,447.6 L475.8,447.7 L476.1,447.7 L476.4,447.8 L476.7,447.8 L477.0,447.8 L477.3,447.9 L477.6,447.9 L477.9,448.0 L478.2,448.0 L478.5,448.1 L478.8,448.1 L479.1,448.2 L479.4,448.2 L479.7,448.3 L480.0,448.3 L480.3,448.4 L480.6,448.4 L480.9,448.5 L481.2,448.5 L481.5,448.6 L481.8,448.6 L482.1,448.6 L482.4,448.7 L482.7,448.7 L483.0,448.8 L483.3,448.8 L483.6,448.9 L483.9,448.9 L484.2,449.0 L484.5,449.0 L484.8,449.0 L485.1,449.1 L485.4,449.1 L485.7,449.2 L486.0,449.2 L486.3,449.3 L486.6,449.3 L486.9,449.3 L487.2,449.4 L487.5,449.4 L487.8,449.5 L488.1,449.5 L488.4,449.5 L488.7,449.6 L489.0,449.6 L489.3,449.7 L489.6,449.7 L489.9,449.7 L490.2,449.8 L490.5,449.8 L490.8,449.9 L491.1,449.9 L491.4,449.9 L491.7,450.0 L492.0,450.0 L492.3,450.0 L492.6,450.1 L492.9,450.1 L493.2,450.2 L493.5,450.2 L493.8,450.2 L494.1,450.3 L494.4,450.3 L494.7,450.3 L495.0,450.4 L495.3,450.4 L495.6,450.4 L495.9,450.5 L496.2,450.5" fill="none" stroke="#f0b060" stroke-width="0.9"/>
<path d="M432.0,440.4 L432.3,440.4 L432.6,440.4 L432.9,440.4 L433.2,440.4 L433.5,440.4 L433.8,440.5 L434.1,440.5 L434.4,440.5 L434.7,440.5 L435.0,440.5 L435.3,440.5 L435.6,440.6 L435.9,440.6 L436.2,440.6 L436.5,440.6 L436.8,440.6 L437.1,440.6 L437.4,440.7 L437.7,440.7 L438.0,440.7 L438.3,440.7 L438.6,440.7 L438.9,440.7 L439.2,440.8 L439.5,440.8 L439.8,440.8 L440.1,440.8 L440.4,440.8 L440.7,440.8 L441.0,440.9 L441.3,440.9 L441.6,440.9 L441.9,440.9 L442.2,440.9 L442.5,440.9 L442.8,440.9 L443.1,440.9 L443.4,440.9 L443.7,440.9 L444.0,441.0 L444.3,441.0 L444.6,441.0 L444.9,440.9 L445.2,440.9 L445.5,440.9 L445.8,440.9 L446.1,440.9 L446.4,440.9 L446.7,440.9 L447.0,440.8 L447.3,440.8 L447.6,440.8 L447.9,440.7 L448.2,440.7 L448.5,440.6 L448.8,440.5 L449.1,440.4 L449.4,440.3 L449.7,440.1 L450.0,439.9 L450.3,439.7 L450.6,439.4 L450.9,439.1 L451.2,438.6 L451.5,438.1 L451.8,437.5 L452.1,436.7 L452.4,435.8 L452.7,434.7 L453.0,433.5 L453.3,432.0 L453.6,430.4 L453.9,428.5 L454.2,426.5 L454.5,424.3 L454.8,421.9 L455.1,419.5 L455.4,417.0 L455.7,414.6 L456.0,412.4 L456.3,410.5 L456.6,409.0 L456.9,408.1 L457.2,407.8 L457.5,408.2 L457.8,409.3 L458.1,410.9 L458.4,412.9 L458.7,415.3 L459.0,417.8 L459.3,420.4 L459.6,423.0 L459.9,425.4 L460.2,427.8 L460.5,429.9 L460.8,431.9 L461.1,433.7 L461.4,435.2 L461.7,436.6 L462.0,437.8 L462.3,438.8 L462.6,439.7 L462.9,440.5 L463.2,441.1 L463.5,441.6 L463.8,442.1 L464.1,442.5 L464.4,442.8 L464.7,443.1 L465.0,443.4 L465.3,443.6 L465.6,443.8 L465.9,444.0 L466.2,444.2 L466.5,444.4 L466.8,444.5 L467.1,444.7 L467.4,444.8 L467.7,445.0 L468.0,445.1 L468.3,445.2 L468.6,445.3 L468.9,445.4 L469.2,445.5 L469.5,445.7 L469.8,445.8 L470.1,445.8 L470.4,445.9 L470.7,446.0 L471.0,446.1 L471.3,446.2 L471.6,446.3 L471.9,446.4 L472.2,446.4 L472.5,446.5 L472.8,446.6 L473.1,446.7 L473.4,446.7 L473.7,446.8 L474.0,446.9 L474.3,446.9 L474.6,447.0 L474.9,447.1 L475.2,447.1 L475.5,447.2 L475.8,447.2 L476.1,447.3 L476.4,447.4 L476.7,447.4 L477.0,447.5 L477.3,447.5 L477.6,447.6 L477.9,447.7 L478.2,447.7 L478.5,447.8 L478.8,447.8 L479.1,447.9 L479.4,447.9 L479.7,448.0 L480.0,448.1 L480.3,448.1 L480.6,448.2 L480.9,448.2 L481.2,448.3 L481.5,448.3 L481.8,448.4 L482.1,448.4 L482.4,448.5 L482.7,448.5 L483.0,448.6 L483.3,448.6 L483.6,448.7 L483.9,448.7 L484.2,448.8 L484.5,448.8 L484.8,448.9 L485.1,448.9 L485.4,449.0 L485.7,449.0 L486.0,449.0 L486.3,449.1 L486.6,449.1 L486.9,449.2 L487.2,449.2 L487.5,449.3 L487.8,449.3 L488.1,449.4 L488.4,449.4 L488.7,449.4 L489.0,449.5 L489.3,449.5 L489.6,449.6 L489.9,449.6 L490.2,449.7 L490.5,449.7 L490.8,449.7 L491.1,449.8 L491.4,449.8 L491.7,449.9 L492.0,449.9 L492.3,449.9 L492.6,450.0 L492.9,450.0 L493.2,450.0 L493.5,450.1 L493.8,450.1 L494.1,450.2 L494.4,450.2 L494.7,450.2 L495.0,450.3 L495.3,450.3 L495.6,450.3 L495.9,450.4 L496.2,450.4" fill="none" stroke="#6f9ae6" stroke-width="1.0" stroke-dasharray="1.5,0.8"/>
<path d="M432.0,440.6 L432.3,440.6 L432.6,440.6 L432.9,440.7 L433.2,440.7 L433.5,440.7 L433.8,440.7 L434.1,440.7 L434.4,440.8 L434.7,440.8 L435.0,440.8 L435.3,440.8 L435.6,440.9 L435.9,440.9 L436.2,440.9 L436.5,440.9 L436.8,441.0 L437.1,441.0 L437.4,441.0 L437.7,441.0 L438.0,441.1 L438.3,441.1 L438.6,441.1 L438.9,441.2 L439.2,441.2 L439.5,441.2 L439.8,441.3 L440.1,441.3 L440.4,441.3 L440.7,441.4 L441.0,441.4 L441.3,441.4 L441.6,441.4 L441.9,441.5 L442.2,441.5 L442.5,441.5 L442.8,441.6 L443.1,441.6 L443.4,441.6 L443.7,441.6 L444.0,441.7 L444.3,441.7 L444.6,441.7 L444.9,441.7 L445.2,441.7 L445.5,441.8 L445.8,441.8 L446.1,441.8 L446.4,441.8 L446.7,441.7 L447.0,441.7 L447.3,441.7 L447.6,441.6 L447.9,441.6 L448.2,441.5 L448.5,441.4 L448.8,441.3 L449.1,441.2 L449.4,441.1 L449.7,440.9 L450.0,440.8 L450.3,440.5 L450.6,440.3 L450.9,440.1 L451.2,439.8 L451.5,439.4 L451.8,439.1 L452.1,438.7 L452.4,438.3 L452.7,437.8 L453.0,437.3 L453.3,436.8 L453.6,436.2 L453.9,435.6 L454.2,434.9 L454.5,434.2 L454.8,433.5 L455.1,432.8 L455.4,432.0 L455.7,431.2 L456.0,430.3 L456.3,429.5 L456.6,428.6 L456.9,427.7 L457.2,426.9 L457.5,426.0 L457.8,425.1 L458.1,424.3 L458.4,423.4 L458.7,422.6 L459.0,421.9 L459.3,421.2 L459.6,420.5 L459.9,419.9 L460.2,419.3 L460.5,418.8 L460.8,418.4 L461.1,418.1 L461.4,417.8 L461.7,417.6 L462.0,417.6 L462.3,417.6 L462.6,417.6 L462.9,417.8 L463.2,418.0 L463.5,418.3 L463.8,418.7 L464.1,419.1 L464.4,419.6 L464.7,420.2 L465.0,420.8 L465.3,421.5 L465.6,422.2 L465.9,422.9 L466.2,423.7 L466.5,424.6 L466.8,425.4 L467.1,426.3 L467.4,427.2 L467.7,428.1 L468.0,429.1 L468.3,430.0 L468.6,430.9 L468.9,431.8 L469.2,432.7 L469.5,433.6 L469.8,434.5 L470.1,435.3 L470.4,436.1 L470.7,436.9 L471.0,437.7 L471.3,438.5 L471.6,439.2 L471.9,439.8 L472.2,440.5 L472.5,441.1 L472.8,441.7 L473.1,442.2 L473.4,442.7 L473.7,443.2 L474.0,443.6 L474.3,444.1 L474.6,444.5 L474.9,444.8 L475.2,445.2 L475.5,445.5 L475.8,445.8 L476.1,446.0 L476.4,446.3 L476.7,446.5 L477.0,446.7 L477.3,446.9 L477.6,447.1 L477.9,447.2 L478.2,447.4 L478.5,447.5 L478.8,447.6 L479.1,447.8 L479.4,447.9 L479.7,448.0 L480.0,448.1 L480.3,448.1 L480.6,448.2 L480.9,448.3 L481.2,448.4 L481.5,448.4 L481.8,448.5 L482.1,448.6 L482.4,448.6 L482.7,448.7 L483.0,448.7 L483.3,448.8 L483.6,448.8 L483.9,448.9 L484.2,448.9 L484.5,449.0 L484.8,449.0 L485.1,449.1 L485.4,449.1 L485.7,449.2 L486.0,449.2 L486.3,449.3 L486.6,449.3 L486.9,449.3 L487.2,449.4 L487.5,449.4 L487.8,449.5 L488.1,449.5 L488.4,449.5 L488.7,449.6 L489.0,449.6 L489.3,449.7 L489.6,449.7 L489.9,449.7 L490.2,449.8 L490.5,449.8 L490.8,449.9 L491.1,449.9 L491.4,449.9 L491.7,450.0 L492.0,450.0 L492.3,450.0 L492.6,450.1 L492.9,450.1 L493.2,450.2 L493.5,450.2 L493.8,450.2 L494.1,450.3 L494.4,450.3 L494.7,450.3 L495.0,450.4 L495.3,450.4 L495.6,450.4 L495.9,450.5 L496.2,450.5" fill="none" stroke="#52b052" stroke-width="1.1"/>
<path d="M432.0,440.6 L432.3,440.6 L432.6,440.6 L432.9,440.7 L433.2,440.7 L433.5,440.7 L433.8,440.7 L434.1,440.7 L434.4,440.8 L434.7,440.8 L435.0,440.8 L435.3,440.8 L435.6,440.9 L435.9,440.9 L436.2,440.9 L436.5,440.9 L436.8,441.0 L437.1,441.0 L437.4,441.0 L437.7,441.1 L438.0,441.1 L438.3,441.1 L438.6,441.1 L438.9,441.2 L439.2,441.2 L439.5,441.2 L439.8,441.3 L440.1,441.3 L440.4,441.3 L440.7,441.4 L441.0,441.4 L441.3,441.4 L441.6,441.5 L441.9,441.5 L442.2,441.5 L442.5,441.6 L442.8,441.6 L443.1,441.6 L443.4,441.7 L443.7,441.7 L444.0,441.7 L444.3,441.8 L444.6,441.8 L444.9,441.9 L445.2,441.9 L445.5,441.9 L445.8,442.0 L446.1,442.0 L446.4,442.0 L446.7,442.1 L447.0,442.1 L447.3,442.2 L447.6,442.2 L447.9,442.2 L448.2,442.3 L448.5,442.3 L448.8,442.4 L449.1,442.4 L449.4,442.4 L449.7,442.5 L450.0,442.5 L450.3,442.6 L450.6,442.6 L450.9,442.7 L451.2,442.7 L451.5,442.7 L451.8,442.8 L452.1,442.8 L452.4,442.9 L452.7,442.9 L453.0,443.0 L453.3,443.0 L453.6,443.1 L453.9,443.1 L454.2,443.2 L454.5,443.3 L454.8,443.3 L455.1,443.4 L455.4,443.4 L455.7,443.5 L456.0,443.5 L456.3,443.6 L456.6,443.7 L456.9,443.7 L457.2,443.8 L457.5,443.9 L457.8,443.9 L458.1,444.0 L458.4,444.1 L458.7,444.1 L459.0,444.2 L459.3,444.3 L459.6,444.3 L459.9,444.4 L460.2,444.5 L460.5,444.5 L460.8,444.6 L461.1,444.7 L461.4,444.7 L461.7,444.8 L462.0,444.9 L462.3,444.9 L462.6,445.0 L462.9,445.1 L463.2,445.1 L463.5,445.2 L463.8,445.2 L464.1,445.3 L464.4,445.3 L464.7,445.3 L465.0,445.3 L465.3,445.3 L465.6,445.3 L465.9,445.3 L466.2,445.3 L466.5,445.2 L466.8,445.2 L467.1,445.1 L467.4,445.0 L467.7,444.9 L468.0,444.7 L468.3,444.6 L468.6,444.5 L468.9,444.3 L469.2,444.2 L469.5,444.0 L469.8,443.9 L470.1,443.7 L470.4,443.6 L470.7,443.6 L471.0,443.5 L471.3,443.5 L471.6,443.5 L471.9,443.5 L472.2,443.6 L472.5,443.7 L472.8,443.8 L473.1,444.0 L473.4,444.2 L473.7,444.4 L474.0,444.6 L474.3,444.9 L474.6,445.1 L474.9,445.4 L475.2,445.6 L475.5,445.9 L475.8,446.2 L476.1,446.4 L476.4,446.6 L476.7,446.8 L477.0,447.0 L477.3,447.2 L477.6,447.4 L477.9,447.5 L478.2,447.7 L478.5,447.8 L478.8,447.9 L479.1,448.0 L479.4,448.1 L479.7,448.2 L480.0,448.2 L480.3,448.3 L480.6,448.4 L480.9,448.4 L481.2,448.5 L481.5,448.5 L481.8,448.6 L482.1,448.6 L482.4,448.7 L482.7,448.7 L483.0,448.8 L483.3,448.8 L483.6,448.9 L483.9,448.9 L484.2,449.0 L484.5,449.0 L484.8,449.0 L485.1,449.1 L485.4,449.1 L485.7,449.2 L486.0,449.2 L486.3,449.3 L486.6,449.3 L486.9,449.3 L487.2,449.4 L487.5,449.4 L487.8,449.5 L488.1,449.5 L488.4,449.5 L488.7,449.6 L489.0,449.6 L489.3,449.7 L489.6,449.7 L489.9,449.7 L490.2,449.8 L490.5,449.8 L490.8,449.9 L491.1,449.9 L491.4,449.9 L491.7,450.0 L492.0,450.0 L492.3,450.0 L492.6,450.1 L492.9,450.1 L493.2,450.2 L493.5,450.2 L493.8,450.2 L494.1,450.3 L494.4,450.3 L494.7,450.3 L495.0,450.4 L495.3,450.4 L495.6,450.4 L495.9,450.5 L496.2,450.5" fill="none" stroke="#52b052" stroke-width="1.1"/>
<path d="M432.0,440.6 L432.3,440.6 L432.6,440.6 L432.9,440.7 L433.2,440.7 L433.5,440.7 L433.8,440.7 L434.1,440.7 L434.4,440.8 L434.7,440.8 L435.0,440.8 L435.3,440.8 L435.6,440.9 L435.9,440.9 L436.2,440.9 L436.5,440.9 L436.8,441.0 L437.1,441.0 L437.4,441.0 L437.7,441.1 L438.0,441.1 L438.3,441.1 L438.6,441.1 L438.9,441.2 L439.2,441.2 L439.5,441.2 L439.8,441.3 L440.1,441.3 L440.4,441.3 L440.7,441.4 L441.0,441.4 L441.3,441.4 L441.6,441.5 L441.9,441.5 L442.2,441.5 L442.5,441.6 L442.8,441.6 L443.1,441.6 L443.4,441.7 L443.7,441.7 L444.0,441.7 L444.3,441.8 L444.6,441.8 L444.9,441.9 L445.2,441.9 L445.5,441.9 L445.8,442.0 L446.1,442.0 L446.4,442.0 L446.7,442.1 L447.0,442.1 L447.3,442.2 L447.6,442.2 L447.9,442.2 L448.2,442.3 L448.5,442.3 L448.8,442.4 L449.1,442.4 L449.4,442.4 L449.7,442.5 L450.0,442.5 L450.3,442.6 L450.6,442.6 L450.9,442.7 L451.2,442.7 L451.5,442.7 L451.8,442.8 L452.1,442.8 L452.4,442.9 L452.7,442.9 L453.0,443.0 L453.3,443.0 L453.6,443.1 L453.9,443.1 L454.2,443.2 L454.5,443.3 L454.8,443.3 L455.1,443.4 L455.4,443.4 L455.7,443.5 L456.0,443.5 L456.3,443.6 L456.6,443.7 L456.9,443.7 L457.2,443.8 L457.5,443.9 L457.8,443.9 L458.1,444.0 L458.4,444.1 L458.7,444.1 L459.0,444.2 L459.3,444.3 L459.6,444.3 L459.9,444.4 L460.2,444.5 L460.5,444.5 L460.8,444.6 L461.1,444.7 L461.4,444.7 L461.7,444.8 L462.0,444.9 L462.3,445.0 L462.6,445.0 L462.9,445.1 L463.2,445.2 L463.5,445.2 L463.8,445.3 L464.1,445.4 L464.4,445.4 L464.7,445.5 L465.0,445.6 L465.3,445.6 L465.6,445.7 L465.9,445.8 L466.2,445.9 L466.5,445.9 L466.8,446.0 L467.1,446.0 L467.4,446.1 L467.7,446.2 L468.0,446.2 L468.3,446.3 L468.6,446.4 L468.9,446.4 L469.2,446.5 L469.5,446.5 L469.8,446.6 L470.1,446.6 L470.4,446.7 L470.7,446.7 L471.0,446.8 L471.3,446.8 L471.6,446.8 L471.9,446.9 L472.2,446.9 L472.5,446.9 L472.8,446.9 L473.1,446.9 L473.4,446.9 L473.7,446.9 L474.0,446.8 L474.3,446.8 L474.6,446.8 L474.9,446.7 L475.2,446.6 L475.5,446.6 L475.8,446.5 L476.1,446.4 L476.4,446.3 L476.7,446.2 L477.0,446.1 L477.3,446.0 L477.6,445.9 L477.9,445.8 L478.2,445.7 L478.5,445.6 L478.8,445.5 L479.1,445.4 L479.4,445.4 L479.7,445.4 L480.0,445.4 L480.3,445.4 L480.6,445.4 L480.9,445.5 L481.2,445.6 L481.5,445.7 L481.8,445.8 L482.1,445.9 L482.4,446.1 L482.7,446.2 L483.0,446.4 L483.3,446.6 L483.6,446.8 L483.9,447.0 L484.2,447.2 L484.5,447.4 L484.8,447.6 L485.1,447.8 L485.4,448.0 L485.7,448.1 L486.0,448.3 L486.3,448.5 L486.6,448.6 L486.9,448.7 L487.2,448.9 L487.5,449.0 L487.8,449.1 L488.1,449.2 L488.4,449.3 L488.7,449.4 L489.0,449.5 L489.3,449.5 L489.6,449.6 L489.9,449.7 L490.2,449.7 L490.5,449.8 L490.8,449.8 L491.1,449.9 L491.4,449.9 L491.7,450.0 L492.0,450.0 L492.3,450.0 L492.6,450.1 L492.9,450.1 L493.2,450.2 L493.5,450.2 L493.8,450.2 L494.1,450.3 L494.4,450.3 L494.7,450.3 L495.0,450.4 L495.3,450.4 L495.6,450.4 L495.9,450.5 L496.2,450.5" fill="none" stroke="#52b052" stroke-width="1.1"/>
<path d="M432.0,440.6 L432.3,440.6 L432.6,440.6 L432.9,440.7 L433.2,440.7 L433.5,440.7 L433.8,440.7 L434.1,440.7 L434.4,440.8 L434.7,440.8 L435.0,440.8 L435.3,440.8 L435.6,440.9 L435.9,440.9 L436.2,440.9 L436.5,440.9 L436.8,441.0 L437.1,441.0 L437.4,441.0 L437.7,441.1 L438.0,441.1 L438.3,441.1 L438.6,441.1 L438.9,441.2 L439.2,441.2 L439.5,441.2 L439.8,441.3 L440.1,441.3 L440.4,441.3 L440.7,441.4 L441.0,441.4 L441.3,441.4 L441.6,441.5 L441.9,441.5 L442.2,441.5 L442.5,441.6 L442.8,441.6 L443.1,441.6 L443.4,441.7 L443.7,441.7 L444.0,441.7 L444.3,441.8 L444.6,441.8 L444.9,441.9 L445.2,441.9 L445.5,441.9 L445.8,442.0 L446.1,442.0 L446.4,442.0 L446.7,442.1 L447.0,442.1 L447.3,442.2 L447.6,442.2 L447.9,442.2 L448.2,442.3 L448.5,442.3 L448.8,442.4 L449.1,442.4 L449.4,442.4 L449.7,442.5 L450.0,442.5 L450.3,442.6 L450.6,442.6 L450.9,442.7 L451.2,442.7 L451.5,442.7 L451.8,442.8 L452.1,442.8 L452.4,442.9 L452.7,442.9 L453.0,443.0 L453.3,443.0 L453.6,443.1 L453.9,443.1 L454.2,443.2 L454.5,443.3 L454.8,443.3 L455.1,443.4 L455.4,443.4 L455.7,443.5 L456.0,443.5 L456.3,443.6 L456.6,443.7 L456.9,443.7 L457.2,443.8 L457.5,443.9 L457.8,443.9 L458.1,444.0 L458.4,444.1 L458.7,444.1 L459.0,444.2 L459.3,444.3 L459.6,444.3 L459.9,444.4 L460.2,444.5 L460.5,444.5 L460.8,444.6 L461.1,444.7 L461.4,444.7 L461.7,444.8 L462.0,444.9 L462.3,445.0 L462.6,445.0 L462.9,445.1 L463.2,445.2 L463.5,445.2 L463.8,445.3 L464.1,445.4 L464.4,445.4 L464.7,445.5 L465.0,445.6 L465.3,445.6 L465.6,445.7 L465.9,445.8 L466.2,445.9 L466.5,445.9 L466.8,446.0 L467.1,446.1 L467.4,446.1 L467.7,446.2 L468.0,446.2 L468.3,446.3 L468.6,446.4 L468.9,446.4 L469.2,446.5 L469.5,446.6 L469.8,446.6 L470.1,446.7 L470.4,446.7 L470.7,446.8 L471.0,446.8 L471.3,446.9 L471.6,446.9 L471.9,447.0 L472.2,447.1 L472.5,447.1 L472.8,447.2 L473.1,447.2 L473.4,447.3 L473.7,447.3 L474.0,447.4 L474.3,447.4 L474.6,447.5 L474.9,447.5 L475.2,447.6 L475.5,447.6 L475.8,447.7 L476.1,447.7 L476.4,447.8 L476.7,447.8 L477.0,447.8 L477.3,447.9 L477.6,447.9 L477.9,448.0 L478.2,448.0 L478.5,448.1 L478.8,448.1 L479.1,448.2 L479.4,448.2 L479.7,448.3 L480.0,448.3 L480.3,448.4 L480.6,448.4 L480.9,448.5 L481.2,448.5 L481.5,448.6 L481.8,448.6 L482.1,448.6 L482.4,448.7 L482.7,448.7 L483.0,448.8 L483.3,448.8 L483.6,448.9 L483.9,448.9 L484.2,449.0 L484.5,449.0 L484.8,449.0 L485.1,449.1 L485.4,449.1 L485.7,449.2 L486.0,449.2 L486.3,449.3 L486.6,449.3 L486.9,449.3 L487.2,449.4 L487.5,449.4 L487.8,449.5 L488.1,449.5 L488.4,449.5 L488.7,449.6 L489.0,449.6 L489.3,449.7 L489.6,449.7 L489.9,449.7 L490.2,449.8 L490.5,449.8 L490.8,449.9 L491.1,449.9 L491.4,449.9 L491.7,450.0 L492.0,450.0 L492.3,450.0 L492.6,450.1 L492.9,450.1 L493.2,450.2 L493.5,450.2 L493.8,450.2 L494.1,450.3 L494.4,450.3 L494.7,450.3 L495.0,450.4 L495.3,450.4 L495.6,450.4 L495.9,450.5 L496.2,450.5" fill="none" stroke="#3c9f3c" stroke-width="1.5"/>
<path d="M289.5,530.7 L290.5,529.6 L291.5,528.9 L292.5,528.4 L293.5,529.5 L294.5,527.7 L295.5,526.3" fill="none" stroke="#7c7c7c" stroke-width="0.85"/>
<path d="M376.0,550.9 L377.0,550.8 L378.0,553.6 L379.0,552.5 L380.0,551.7 L381.0,551.8 L382.0,553.6 L383.0,552.6 L384.0,553.1 L385.0,553.8 L386.0,554.2 L387.0,554.5 L388.0,554.7 L389.0,556.1 L390.0,556.7 L391.0,553.9 L392.0,558.0 L393.0,556.0 L394.0,557.2 L395.0,555.7 L396.0,556.9 L397.0,557.0 L398.0,557.2 L399.0,558.1 L400.0,558.1 L401.0,556.9 L402.0,557.9 L403.0,558.9 L404.0,559.1 L405.0,558.5 L406.0,558.7 L407.0,559.1 L408.0,558.5 L409.0,558.5 L410.0,561.3 L411.0,559.8 L412.0,560.5 L413.0,559.9 L414.0,562.0 L415.0,562.7 L416.0,561.1 L417.0,562.0 L418.0,561.1 L419.0,563.6 L420.0,563.0 L421.0,561.7 L422.0,563.8 L423.0,563.2 L424.0,563.4 L425.0,563.6" fill="none" stroke="#7c7c7c" stroke-width="0.85"/>
<path d="M499.0,577.2 L500.0,577.3 L501.0,578.0 L502.0,577.7 L503.0,577.3 L504.0,578.9 L505.0,577.8 L506.0,577.7 L507.0,577.6 L508.0,578.4 L509.0,578.6 L510.0,578.2 L511.0,578.6 L512.0,577.4 L513.0,578.0" fill="none" stroke="#7c7c7c" stroke-width="0.85"/>
<path d="M294.0,529.4 L294.4,529.4 L294.8,529.5 L295.2,529.5 L295.6,529.5 L296.0,529.5 L296.4,529.6 L296.8,529.6 L297.2,529.6 L297.6,529.6 L298.0,529.6 L298.4,529.6 L298.8,529.6 L299.2,529.6 L299.6,529.6 L300.0,529.6 L300.4,529.6 L300.8,529.6 L301.2,529.6 L301.6,529.5 L302.0,529.5 L302.4,529.5 L302.8,529.4 L303.2,529.3 L303.6,529.3 L304.0,529.2 L304.4,529.1 L304.8,529.0 L305.2,529.0 L305.6,528.9 L306.0,528.8 L306.4,528.7 L306.8,528.6 L307.2,528.4 L307.6,528.3 L308.0,528.0 L308.4,527.8 L308.8,527.4 L309.2,527.1 L309.6,526.7 L310.0,526.3 L310.4,525.8 L310.8,525.4 L311.2,524.9 L311.6,524.5 L312.0,524.0 L312.4,523.5 L312.8,523.0 L313.2,522.5 L313.6,521.9 L314.0,521.3 L314.4,520.7 L314.8,520.0 L315.2,519.3 L315.6,518.6 L316.0,517.8 L316.4,517.0 L316.8,516.2 L317.2,515.3 L317.6,514.2 L318.0,513.0 L318.4,511.7 L318.8,510.4 L319.2,509.2 L319.6,508.0 L320.0,507.0 L320.4,506.0 L320.8,504.9 L321.2,503.9 L321.6,502.9 L322.0,502.2 L322.4,501.8 L322.8,501.7 L323.2,501.6 L323.6,501.6 L324.0,501.6 L324.4,501.5 L324.8,501.5 L325.2,501.5 L325.6,501.5 L326.0,501.6 L326.4,501.8 L326.8,502.1 L327.2,502.4 L327.6,502.7 L328.0,502.9 L328.4,503.1 L328.8,503.2 L329.2,503.3 L329.6,503.4 L330.0,503.4 L330.4,503.5 L330.8,503.5 L331.2,503.5 L331.6,503.4 L332.0,503.3 L332.4,503.1 L332.8,502.8 L333.2,502.5 L333.6,502.2 L334.0,501.9 L334.4,501.5 L334.8,501.0 L335.2,500.3 L335.6,499.5 L336.0,498.6 L336.4,497.7 L336.8,496.7 L337.2,495.7 L337.6,494.8 L338.0,493.6 L338.4,492.4 L338.8,491.1 L339.2,489.9 L339.6,488.8 L340.0,488.0 L340.4,487.3 L340.8,486.7 L341.2,486.1 L341.6,485.7 L342.0,485.4 L342.4,485.5 L342.8,485.8 L343.2,486.5 L343.6,487.5 L344.0,488.5 L344.4,489.7 L344.8,491.1 L345.2,493.2 L345.6,495.7 L346.0,498.6 L346.4,501.5 L346.8,504.2 L347.2,506.6 L347.6,508.5 L348.0,509.9 L348.4,511.3 L348.8,512.5 L349.2,513.6 L349.6,514.6 L350.0,515.6 L350.4,516.6 L350.8,517.5 L351.2,518.3 L351.6,519.2 L352.0,520.1 L352.4,520.9 L352.8,521.7 L353.2,522.5 L353.6,523.2 L354.0,523.9 L354.4,524.6 L354.8,525.2 L355.2,525.8 L355.6,526.4 L356.0,526.9 L356.4,527.4 L356.8,527.9 L357.2,528.4 L357.6,528.8 L358.0,529.3 L358.4,529.9 L358.8,530.4 L359.2,530.9 L359.6,531.4 L360.0,531.9 L360.4,532.5 L360.8,533.0 L361.2,533.6 L361.6,534.1 L362.0,534.7 L362.4,535.4 L362.8,536.0 L363.2,536.6 L363.6,537.3 L364.0,537.9 L364.4,538.5 L364.8,539.1 L365.2,539.6 L365.6,540.1 L366.0,540.6 L366.4,541.1 L366.8,541.6 L367.2,542.1 L367.6,542.6 L368.0,543.0 L368.4,543.4 L368.8,543.8 L369.2,544.1 L369.6,544.5 L370.0,544.8 L370.4,545.1 L370.8,545.4 L371.2,545.7 L371.6,546.0 L372.0,546.3 L372.4,546.7 L372.8,547.1 L373.2,547.5 L373.6,547.9 L374.0,548.4 L374.4,548.9 L374.8,549.4 L375.2,549.9 L375.6,550.4 L376.0,550.9 L376.4,551.5" fill="none" stroke="#d886a2" stroke-width="1.7"/>
<path d="M294.0,529.6 L294.4,529.6 L294.8,529.6 L295.2,529.6 L295.6,529.6 L296.0,529.6 L296.4,529.6 L296.8,529.6 L297.2,529.7 L297.6,529.7 L298.0,529.7 L298.4,529.7 L298.8,529.7 L299.2,529.7 L299.6,529.7 L300.0,529.8 L300.4,529.8 L300.8,529.8 L301.2,529.8 L301.6,529.8 L302.0,529.9 L302.4,529.9 L302.8,529.9 L303.2,529.9 L303.6,530.0 L304.0,530.0 L304.4,530.0 L304.8,530.0 L305.2,530.1 L305.6,530.1 L306.0,530.1 L306.4,530.1 L306.8,530.2 L307.2,530.2 L307.6,530.2 L308.0,530.3 L308.4,530.3 L308.8,530.3 L309.2,530.4 L309.6,530.4 L310.0,530.5 L310.4,530.5 L310.8,530.6 L311.2,530.7 L311.6,530.7 L312.0,530.8 L312.4,530.9 L312.8,530.9 L313.2,531.0 L313.6,531.1 L314.0,531.2 L314.4,531.2 L314.8,531.3 L315.2,531.4 L315.6,531.5 L316.0,531.6 L316.4,531.7 L316.8,531.8 L317.2,531.9 L317.6,532.0 L318.0,532.1 L318.4,532.2 L318.8,532.3 L319.2,532.4 L319.6,532.5 L320.0,532.6 L320.4,532.7 L320.8,532.8 L321.2,532.9 L321.6,533.0 L322.0,533.1 L322.4,533.2 L322.8,533.4 L323.2,533.5 L323.6,533.6 L324.0,533.7 L324.4,533.8 L324.8,533.9 L325.2,534.0 L325.6,534.1 L326.0,534.3 L326.4,534.4 L326.8,534.5 L327.2,534.6 L327.6,534.7 L328.0,534.8 L328.4,535.0 L328.8,535.1 L329.2,535.2 L329.6,535.4 L330.0,535.5 L330.4,535.7 L330.8,535.8 L331.2,536.0 L331.6,536.1 L332.0,536.3 L332.4,536.4 L332.8,536.6 L333.2,536.7 L333.6,536.9 L334.0,537.0 L334.4,537.2 L334.8,537.4 L335.2,537.5 L335.6,537.7 L336.0,537.9 L336.4,538.0 L336.8,538.2 L337.2,538.4 L337.6,538.6 L338.0,538.7 L338.4,538.9 L338.8,539.1 L339.2,539.2 L339.6,539.4 L340.0,539.6 L340.4,539.8 L340.8,539.9 L341.2,540.1 L341.6,540.3 L342.0,540.4 L342.4,540.6 L342.8,540.8 L343.2,541.0 L343.6,541.1 L344.0,541.3 L344.4,541.5 L344.8,541.6 L345.2,541.8 L345.6,542.0 L346.0,542.2 L346.4,542.3 L346.8,542.5 L347.2,542.7 L347.6,542.9 L348.0,543.1 L348.4,543.3 L348.8,543.5 L349.2,543.6 L349.6,543.8 L350.0,544.0 L350.4,544.2 L350.8,544.4 L351.2,544.6 L351.6,544.8 L352.0,545.0 L352.4,545.2 L352.8,545.3 L353.2,545.5 L353.6,545.7 L354.0,545.9 L354.4,546.1 L354.8,546.2 L355.2,546.4 L355.6,546.6 L356.0,546.7 L356.4,546.9 L356.8,547.1 L357.2,547.2 L357.6,547.4 L358.0,547.5 L358.4,547.6 L358.8,547.8 L359.2,547.9 L359.6,548.0 L360.0,548.2 L360.4,548.3 L360.8,548.4 L361.2,548.5 L361.6,548.6 L362.0,548.8 L362.4,548.9 L362.8,549.0 L363.2,549.1 L363.6,549.2 L364.0,549.3 L364.4,549.4 L364.8,549.5 L365.2,549.6 L365.6,549.7 L366.0,549.9 L366.4,550.0 L366.8,550.1 L367.2,550.2 L367.6,550.3 L368.0,550.3 L368.4,550.4 L368.8,550.5 L369.2,550.6 L369.6,550.7 L370.0,550.8 L370.4,550.9 L370.8,551.0 L371.2,551.1 L371.6,551.1 L372.0,551.2 L372.4,551.3 L372.8,551.4 L373.2,551.5 L373.6,551.5 L374.0,551.6 L374.4,551.7 L374.8,551.8 L375.2,551.8 L375.6,551.9 L376.0,551.9 L376.4,552.0" fill="none" stroke="#6e2a78" stroke-width="1.3"/>
<path d="M294.0,529.6 L294.4,529.6 L294.8,529.6 L295.2,529.6 L295.6,529.6 L296.0,529.6 L296.4,529.6 L296.8,529.6 L297.2,529.6 L297.6,529.7 L298.0,529.7 L298.4,529.7 L298.8,529.7 L299.2,529.7 L299.6,529.7 L300.0,529.7 L300.4,529.7 L300.8,529.8 L301.2,529.8 L301.6,529.8 L302.0,529.8 L302.4,529.8 L302.8,529.8 L303.2,529.8 L303.6,529.8 L304.0,529.8 L304.4,529.7 L304.8,529.7 L305.2,529.6 L305.6,529.6 L306.0,529.5 L306.4,529.4 L306.8,529.3 L307.2,529.2 L307.6,529.0 L308.0,528.8 L308.4,528.6 L308.8,528.3 L309.2,528.1 L309.6,527.7 L310.0,527.4 L310.4,527.0 L310.8,526.5 L311.2,526.0 L311.6,525.5 L312.0,524.9 L312.4,524.2 L312.8,523.5 L313.2,522.7 L313.6,521.9 L314.0,521.1 L314.4,520.2 L314.8,519.2 L315.2,518.2 L315.6,517.2 L316.0,516.2 L316.4,515.2 L316.8,514.1 L317.2,513.1 L317.6,512.0 L318.0,511.1 L318.4,510.1 L318.8,509.2 L319.2,508.4 L319.6,507.6 L320.0,506.9 L320.4,506.3 L320.8,505.8 L321.2,505.5 L321.6,505.2 L322.0,505.1 L322.4,505.1 L322.8,505.2 L323.2,505.4 L323.6,505.8 L324.0,506.4 L324.4,507.1 L324.8,507.9 L325.2,508.8 L325.6,509.8 L326.0,511.0 L326.4,512.2 L326.8,513.4 L327.2,514.7 L327.6,516.1 L328.0,517.4 L328.4,518.8 L328.8,520.2 L329.2,521.5 L329.6,522.8 L330.0,524.1 L330.4,525.3 L330.8,526.5 L331.2,527.6 L331.6,528.7 L332.0,529.7 L332.4,530.6 L332.8,531.5 L333.2,532.3 L333.6,533.1 L334.0,533.8 L334.4,534.4 L334.8,535.0 L335.2,535.5 L335.6,536.0 L336.0,536.4 L336.4,536.8 L336.8,537.2 L337.2,537.5 L337.6,537.9 L338.0,538.2 L338.4,538.4 L338.8,538.7 L339.2,538.9 L339.6,539.2 L340.0,539.4 L340.4,539.6 L340.8,539.8 L341.2,540.0 L341.6,540.2 L342.0,540.4 L342.4,540.6 L342.8,540.7 L343.2,540.9 L343.6,541.1 L344.0,541.3 L344.4,541.4 L344.8,541.6 L345.2,541.8 L345.6,542.0 L346.0,542.2 L346.4,542.3 L346.8,542.5 L347.2,542.7 L347.6,542.9 L348.0,543.1 L348.4,543.3 L348.8,543.5 L349.2,543.6 L349.6,543.8 L350.0,544.0 L350.4,544.2 L350.8,544.4 L351.2,544.6 L351.6,544.8 L352.0,545.0 L352.4,545.2 L352.8,545.3 L353.2,545.5 L353.6,545.7 L354.0,545.9 L354.4,546.1 L354.8,546.2 L355.2,546.4 L355.6,546.6 L356.0,546.7 L356.4,546.9 L356.8,547.1 L357.2,547.2 L357.6,547.4 L358.0,547.5 L358.4,547.6 L358.8,547.8 L359.2,547.9 L359.6,548.0 L360.0,548.2 L360.4,548.3 L360.8,548.4 L361.2,548.5 L361.6,548.6 L362.0,548.8 L362.4,548.9 L362.8,549.0 L363.2,549.1 L363.6,549.2 L364.0,549.3 L364.4,549.4 L364.8,549.5 L365.2,549.6 L365.6,549.7 L366.0,549.9 L366.4,550.0 L366.8,550.1 L367.2,550.2 L367.6,550.3 L368.0,550.3 L368.4,550.4 L368.8,550.5 L369.2,550.6 L369.6,550.7 L370.0,550.8 L370.4,550.9 L370.8,551.0 L371.2,551.1 L371.6,551.1 L372.0,551.2 L372.4,551.3 L372.8,551.4 L373.2,551.5 L373.6,551.5 L374.0,551.6 L374.4,551.7 L374.8,551.8 L375.2,551.8 L375.6,551.9 L376.0,551.9 L376.4,552.0" fill="none" stroke="#a84888" stroke-width="1.0"/>
<path d="M294.0,529.6 L294.4,529.6 L294.8,529.6 L295.2,529.6 L295.6,529.6 L296.0,529.6 L296.4,529.6 L296.8,529.6 L297.2,529.7 L297.6,529.7 L298.0,529.7 L298.4,529.7 L298.8,529.7 L299.2,529.7 L299.6,529.7 L300.0,529.8 L300.4,529.8 L300.8,529.8 L301.2,529.8 L301.6,529.8 L302.0,529.9 L302.4,529.9 L302.8,529.9 L303.2,529.9 L303.6,530.0 L304.0,530.0 L304.4,530.0 L304.8,530.0 L305.2,530.1 L305.6,530.1 L306.0,530.1 L306.4,530.1 L306.8,530.2 L307.2,530.2 L307.6,530.2 L308.0,530.3 L308.4,530.3 L308.8,530.3 L309.2,530.4 L309.6,530.4 L310.0,530.5 L310.4,530.5 L310.8,530.6 L311.2,530.7 L311.6,530.7 L312.0,530.8 L312.4,530.9 L312.8,530.9 L313.2,531.0 L313.6,531.1 L314.0,531.2 L314.4,531.2 L314.8,531.3 L315.2,531.4 L315.6,531.5 L316.0,531.6 L316.4,531.7 L316.8,531.8 L317.2,531.9 L317.6,532.0 L318.0,532.1 L318.4,532.1 L318.8,532.2 L319.2,532.3 L319.6,532.4 L320.0,532.5 L320.4,532.5 L320.8,532.5 L321.2,532.6 L321.6,532.6 L322.0,532.5 L322.4,532.4 L322.8,532.3 L323.2,532.1 L323.6,531.9 L324.0,531.6 L324.4,531.2 L324.8,530.8 L325.2,530.2 L325.6,529.6 L326.0,528.9 L326.4,528.1 L326.8,527.3 L327.2,526.4 L327.6,525.4 L328.0,524.5 L328.4,523.5 L328.8,522.6 L329.2,521.7 L329.6,520.9 L330.0,520.2 L330.4,519.7 L330.8,519.3 L331.2,519.1 L331.6,519.0 L332.0,519.2 L332.4,519.5 L332.8,520.0 L333.2,520.7 L333.6,521.6 L334.0,522.6 L334.4,523.7 L334.8,524.8 L335.2,526.1 L335.6,527.3 L336.0,528.6 L336.4,529.8 L336.8,531.0 L337.2,532.2 L337.6,533.2 L338.0,534.2 L338.4,535.1 L338.8,535.9 L339.2,536.7 L339.6,537.3 L340.0,537.9 L340.4,538.4 L340.8,538.9 L341.2,539.3 L341.6,539.7 L342.0,540.0 L342.4,540.3 L342.8,540.5 L343.2,540.8 L343.6,541.0 L344.0,541.2 L344.4,541.4 L344.8,541.6 L345.2,541.8 L345.6,542.0 L346.0,542.1 L346.4,542.3 L346.8,542.5 L347.2,542.7 L347.6,542.9 L348.0,543.1 L348.4,543.3 L348.8,543.5 L349.2,543.6 L349.6,543.8 L350.0,544.0 L350.4,544.2 L350.8,544.4 L351.2,544.6 L351.6,544.8 L352.0,545.0 L352.4,545.2 L352.8,545.3 L353.2,545.5 L353.6,545.7 L354.0,545.9 L354.4,546.1 L354.8,546.2 L355.2,546.4 L355.6,546.6 L356.0,546.7 L356.4,546.9 L356.8,547.1 L357.2,547.2 L357.6,547.4 L358.0,547.5 L358.4,547.6 L358.8,547.8 L359.2,547.9 L359.6,548.0 L360.0,548.2 L360.4,548.3 L360.8,548.4 L361.2,548.5 L361.6,548.6 L362.0,548.8 L362.4,548.9 L362.8,549.0 L363.2,549.1 L363.6,549.2 L364.0,549.3 L364.4,549.4 L364.8,549.5 L365.2,549.6 L365.6,549.7 L366.0,549.9 L366.4,550.0 L366.8,550.1 L367.2,550.2 L367.6,550.3 L368.0,550.3 L368.4,550.4 L368.8,550.5 L369.2,550.6 L369.6,550.7 L370.0,550.8 L370.4,550.9 L370.8,551.0 L371.2,551.1 L371.6,551.1 L372.0,551.2 L372.4,551.3 L372.8,551.4 L373.2,551.5 L373.6,551.5 L374.0,551.6 L374.4,551.7 L374.8,551.8 L375.2,551.8 L375.6,551.9 L376.0,551.9 L376.4,552.0" fill="none" stroke="#8a3a96" stroke-width="1.0"/>
<path d="M294.0,529.4 L294.4,529.4 L294.8,529.4 L295.2,529.4 L295.6,529.4 L296.0,529.4 L296.4,529.4 L296.8,529.4 L297.2,529.4 L297.6,529.4 L298.0,529.4 L298.4,529.4 L298.8,529.4 L299.2,529.4 L299.6,529.4 L300.0,529.5 L300.4,529.5 L300.8,529.5 L301.2,529.5 L301.6,529.5 L302.0,529.5 L302.4,529.5 L302.8,529.6 L303.2,529.6 L303.6,529.6 L304.0,529.6 L304.4,529.6 L304.8,529.7 L305.2,529.7 L305.6,529.7 L306.0,529.7 L306.4,529.7 L306.8,529.7 L307.2,529.8 L307.6,529.8 L308.0,529.8 L308.4,529.8 L308.8,529.9 L309.2,529.9 L309.6,529.9 L310.0,530.0 L310.4,530.0 L310.8,530.1 L311.2,530.1 L311.6,530.2 L312.0,530.2 L312.4,530.3 L312.8,530.3 L313.2,530.4 L313.6,530.4 L314.0,530.5 L314.4,530.6 L314.8,530.6 L315.2,530.7 L315.6,530.8 L316.0,530.8 L316.4,530.9 L316.8,531.0 L317.2,531.0 L317.6,531.1 L318.0,531.2 L318.4,531.3 L318.8,531.3 L319.2,531.4 L319.6,531.5 L320.0,531.5 L320.4,531.6 L320.8,531.7 L321.2,531.7 L321.6,531.8 L322.0,531.9 L322.4,531.9 L322.8,532.0 L323.2,532.1 L323.6,532.1 L324.0,532.2 L324.4,532.2 L324.8,532.3 L325.2,532.3 L325.6,532.3 L326.0,532.3 L326.4,532.4 L326.8,532.4 L327.2,532.4 L327.6,532.4 L328.0,532.4 L328.4,532.3 L328.8,532.3 L329.2,532.2 L329.6,532.1 L330.0,532.0 L330.4,531.8 L330.8,531.6 L331.2,531.3 L331.6,531.0 L332.0,530.6 L332.4,530.1 L332.8,529.5 L333.2,528.8 L333.6,528.0 L334.0,527.1 L334.4,526.0 L334.8,524.8 L335.2,523.4 L335.6,521.8 L336.0,520.1 L336.4,518.2 L336.8,516.2 L337.2,514.0 L337.6,511.7 L338.0,509.3 L338.4,506.9 L338.8,504.4 L339.2,501.9 L339.6,499.6 L340.0,497.3 L340.4,495.3 L340.8,493.6 L341.2,492.3 L341.6,491.5 L342.0,491.1 L342.4,491.3 L342.8,492.0 L343.2,493.2 L343.6,494.8 L344.0,496.9 L344.4,499.2 L344.8,501.8 L345.2,504.5 L345.6,507.3 L346.0,510.1 L346.4,512.9 L346.8,515.7 L347.2,518.3 L347.6,520.9 L348.0,523.2 L348.4,525.5 L348.8,527.6 L349.2,529.5 L349.6,531.2 L350.0,532.8 L350.4,534.2 L350.8,535.5 L351.2,536.7 L351.6,537.7 L352.0,538.7 L352.4,539.5 L352.8,540.2 L353.2,540.9 L353.6,541.5 L354.0,542.0 L354.4,542.5 L354.8,543.0 L355.2,543.4 L355.6,543.7 L356.0,544.1 L356.4,544.4 L356.8,544.7 L357.2,545.0 L357.6,545.2 L358.0,545.5 L358.4,545.7 L358.8,545.9 L359.2,546.2 L359.6,546.4 L360.0,546.6 L360.4,546.7 L360.8,546.9 L361.2,547.1 L361.6,547.3 L362.0,547.4 L362.4,547.6 L362.8,547.8 L363.2,547.9 L363.6,548.1 L364.0,548.2 L364.4,548.4 L364.8,548.5 L365.2,548.7 L365.6,548.8 L366.0,548.9 L366.4,549.1 L366.8,549.2 L367.2,549.3 L367.6,549.4 L368.0,549.6 L368.4,549.7 L368.8,549.8 L369.2,549.9 L369.6,550.0 L370.0,550.1 L370.4,550.2 L370.8,550.3 L371.2,550.4 L371.6,550.5 L372.0,550.6 L372.4,550.7 L372.8,550.8 L373.2,550.9 L373.6,551.0 L374.0,551.1 L374.4,551.2 L374.8,551.3 L375.2,551.3 L375.6,551.4 L376.0,551.5 L376.4,551.5" fill="none" stroke="#a84888" stroke-width="1.0"/>
<path d="M294.0,529.6 L294.4,529.6 L294.8,529.6 L295.2,529.6 L295.6,529.6 L296.0,529.6 L296.4,529.6 L296.8,529.6 L297.2,529.7 L297.6,529.7 L298.0,529.7 L298.4,529.7 L298.8,529.7 L299.2,529.7 L299.6,529.7 L300.0,529.8 L300.4,529.8 L300.8,529.8 L301.2,529.8 L301.6,529.8 L302.0,529.9 L302.4,529.9 L302.8,529.9 L303.2,529.9 L303.6,530.0 L304.0,530.0 L304.4,530.0 L304.8,530.0 L305.2,530.1 L305.6,530.1 L306.0,530.1 L306.4,530.1 L306.8,530.2 L307.2,530.2 L307.6,530.2 L308.0,530.3 L308.4,530.3 L308.8,530.3 L309.2,530.4 L309.6,530.4 L310.0,530.5 L310.4,530.5 L310.8,530.6 L311.2,530.7 L311.6,530.7 L312.0,530.8 L312.4,530.9 L312.8,530.9 L313.2,531.0 L313.6,531.1 L314.0,531.2 L314.4,531.2 L314.8,531.3 L315.2,531.4 L315.6,531.5 L316.0,531.6 L316.4,531.7 L316.8,531.8 L317.2,531.9 L317.6,532.0 L318.0,532.1 L318.4,532.2 L318.8,532.3 L319.2,532.4 L319.6,532.5 L320.0,532.6 L320.4,532.7 L320.8,532.8 L321.2,532.9 L321.6,533.0 L322.0,533.1 L322.4,533.2 L322.8,533.4 L323.2,533.5 L323.6,533.6 L324.0,533.7 L324.4,533.8 L324.8,533.9 L325.2,534.0 L325.6,534.1 L326.0,534.3 L326.4,534.4 L326.8,534.5 L327.2,534.6 L327.6,534.7 L328.0,534.8 L328.4,535.0 L328.8,535.1 L329.2,535.2 L329.6,535.4 L330.0,535.5 L330.4,535.7 L330.8,535.8 L331.2,536.0 L331.6,536.1 L332.0,536.3 L332.4,536.4 L332.8,536.6 L333.2,536.7 L333.6,536.9 L334.0,537.0 L334.4,537.2 L334.8,537.4 L335.2,537.5 L335.6,537.7 L336.0,537.9 L336.4,538.0 L336.8,538.2 L337.2,538.4 L337.6,538.5 L338.0,538.7 L338.4,538.9 L338.8,539.0 L339.2,539.2 L339.6,539.4 L340.0,539.5 L340.4,539.7 L340.8,539.8 L341.2,539.9 L341.6,540.0 L342.0,540.1 L342.4,540.2 L342.8,540.3 L343.2,540.3 L343.6,540.3 L344.0,540.3 L344.4,540.2 L344.8,540.1 L345.2,540.0 L345.6,539.9 L346.0,539.7 L346.4,539.5 L346.8,539.3 L347.2,539.0 L347.6,538.8 L348.0,538.5 L348.4,538.2 L348.8,538.0 L349.2,537.8 L349.6,537.7 L350.0,537.6 L350.4,537.5 L350.8,537.5 L351.2,537.6 L351.6,537.8 L352.0,538.0 L352.4,538.4 L352.8,538.7 L353.2,539.2 L353.6,539.7 L354.0,540.2 L354.4,540.8 L354.8,541.4 L355.2,542.0 L355.6,542.7 L356.0,543.3 L356.4,543.8 L356.8,544.4 L357.2,544.9 L357.6,545.4 L358.0,545.9 L358.4,546.3 L358.8,546.7 L359.2,547.0 L359.6,547.3 L360.0,547.6 L360.4,547.8 L360.8,548.0 L361.2,548.2 L361.6,548.4 L362.0,548.6 L362.4,548.8 L362.8,548.9 L363.2,549.0 L363.6,549.2 L364.0,549.3 L364.4,549.4 L364.8,549.5 L365.2,549.6 L365.6,549.7 L366.0,549.8 L366.4,550.0 L366.8,550.1 L367.2,550.2 L367.6,550.3 L368.0,550.3 L368.4,550.4 L368.8,550.5 L369.2,550.6 L369.6,550.7 L370.0,550.8 L370.4,550.9 L370.8,551.0 L371.2,551.1 L371.6,551.1 L372.0,551.2 L372.4,551.3 L372.8,551.4 L373.2,551.5 L373.6,551.5 L374.0,551.6 L374.4,551.7 L374.8,551.8 L375.2,551.8 L375.6,551.9 L376.0,551.9 L376.4,552.0" fill="none" stroke="#8a3a96" stroke-width="1.0"/>
<path d="M294.0,529.6 L294.4,529.6 L294.8,529.6 L295.2,529.6 L295.6,529.6 L296.0,529.6 L296.4,529.6 L296.8,529.6 L297.2,529.7 L297.6,529.7 L298.0,529.7 L298.4,529.7 L298.8,529.7 L299.2,529.7 L299.6,529.7 L300.0,529.8 L300.4,529.8 L300.8,529.8 L301.2,529.8 L301.6,529.8 L302.0,529.9 L302.4,529.9 L302.8,529.9 L303.2,529.9 L303.6,530.0 L304.0,530.0 L304.4,530.0 L304.8,530.0 L305.2,530.1 L305.6,530.1 L306.0,530.1 L306.4,530.1 L306.8,530.2 L307.2,530.2 L307.6,530.2 L308.0,530.3 L308.4,530.3 L308.8,530.3 L309.2,530.4 L309.6,530.4 L310.0,530.5 L310.4,530.5 L310.8,530.6 L311.2,530.7 L311.6,530.7 L312.0,530.8 L312.4,530.9 L312.8,530.9 L313.2,531.0 L313.6,531.1 L314.0,531.2 L314.4,531.2 L314.8,531.3 L315.2,531.4 L315.6,531.5 L316.0,531.6 L316.4,531.7 L316.8,531.8 L317.2,531.9 L317.6,532.0 L318.0,532.1 L318.4,532.2 L318.8,532.3 L319.2,532.4 L319.6,532.5 L320.0,532.6 L320.4,532.7 L320.8,532.8 L321.2,532.9 L321.6,533.0 L322.0,533.1 L322.4,533.2 L322.8,533.4 L323.2,533.5 L323.6,533.6 L324.0,533.7 L324.4,533.8 L324.8,533.9 L325.2,534.0 L325.6,534.1 L326.0,534.3 L326.4,534.4 L326.8,534.5 L327.2,534.6 L327.6,534.7 L328.0,534.8 L328.4,535.0 L328.8,535.1 L329.2,535.2 L329.6,535.4 L330.0,535.5 L330.4,535.7 L330.8,535.8 L331.2,536.0 L331.6,536.1 L332.0,536.3 L332.4,536.4 L332.8,536.6 L333.2,536.7 L333.6,536.9 L334.0,537.0 L334.4,537.2 L334.8,537.4 L335.2,537.5 L335.6,537.7 L336.0,537.9 L336.4,538.0 L336.8,538.2 L337.2,538.4 L337.6,538.5 L338.0,538.7 L338.4,538.9 L338.8,539.1 L339.2,539.2 L339.6,539.4 L340.0,539.6 L340.4,539.7 L340.8,539.9 L341.2,540.1 L341.6,540.2 L342.0,540.4 L342.4,540.5 L342.8,540.6 L343.2,540.8 L343.6,540.9 L344.0,541.0 L344.4,541.1 L344.8,541.2 L345.2,541.2 L345.6,541.3 L346.0,541.3 L346.4,541.3 L346.8,541.3 L347.2,541.2 L347.6,541.2 L348.0,541.0 L348.4,540.9 L348.8,540.7 L349.2,540.4 L349.6,540.1 L350.0,539.8 L350.4,539.4 L350.8,538.9 L351.2,538.4 L351.6,537.9 L352.0,537.4 L352.4,536.8 L352.8,536.2 L353.2,535.6 L353.6,535.0 L354.0,534.4 L354.4,533.8 L354.8,533.2 L355.2,532.7 L355.6,532.2 L356.0,531.8 L356.4,531.5 L356.8,531.3 L357.2,531.1 L357.6,531.1 L358.0,531.1 L358.4,531.2 L358.8,531.5 L359.2,531.8 L359.6,532.3 L360.0,532.8 L360.4,533.4 L360.8,534.1 L361.2,534.8 L361.6,535.6 L362.0,536.5 L362.4,537.3 L362.8,538.2 L363.2,539.2 L363.6,540.1 L364.0,541.0 L364.4,541.8 L364.8,542.7 L365.2,543.5 L365.6,544.3 L366.0,545.0 L366.4,545.7 L366.8,546.3 L367.2,546.9 L367.6,547.5 L368.0,547.9 L368.4,548.4 L368.8,548.8 L369.2,549.2 L369.6,549.5 L370.0,549.8 L370.4,550.1 L370.8,550.3 L371.2,550.5 L371.6,550.7 L372.0,550.9 L372.4,551.0 L372.8,551.2 L373.2,551.3 L373.6,551.4 L374.0,551.5 L374.4,551.6 L374.8,551.7 L375.2,551.8 L375.6,551.8 L376.0,551.9 L376.4,552.0" fill="none" stroke="#8a3a96" stroke-width="1.0"/>
<path d="M294.0,529.1 L295.2,528.1 L296.4,529.8 L297.6,529.8 L298.8,530.2 L300.0,528.0 L301.2,529.0 L302.4,528.7 L303.6,529.7 L304.8,528.7 L306.0,527.9 L307.2,528.5 L308.4,528.2 L309.6,527.0 L310.8,525.2 L312.0,524.2 L313.2,523.4 L314.4,521.0 L315.6,519.0 L316.8,515.4 L318.0,512.7 L319.2,508.5 L320.4,506.3 L321.6,503.1 L322.8,502.3 L324.0,501.4 L325.2,500.8 L326.4,502.6 L327.6,501.7 L328.8,503.2 L330.0,503.6 L331.2,504.3 L332.4,503.8 L333.6,502.0 L334.8,500.5 L336.0,498.9 L337.2,495.8 L338.4,491.3 L339.6,489.1 L340.8,486.7 L342.0,485.5 L343.2,487.0 L344.4,490.6 L345.6,495.7 L346.8,504.8 L348.0,510.6 L349.2,512.8 L350.4,516.6 L351.6,518.2 L352.8,521.6 L354.0,524.9 L355.2,526.5 L356.4,527.6 L357.6,528.0 L358.8,530.0 L360.0,531.7 L361.2,532.8 L362.4,536.4 L363.6,536.9 L364.8,538.4 L366.0,541.5 L367.2,543.5 L368.4,544.1 L369.6,544.7 L370.8,545.2 L372.0,545.8 L373.2,548.0 L374.4,549.0 L375.6,549.6" fill="none" stroke="#c87a90" stroke-width="0.5" stroke-dasharray="1,1"/>
<path d="M425.4,563.3 L425.7,563.0 L426.0,562.8 L426.3,562.5 L426.6,562.3 L426.9,562.0 L427.2,561.7 L427.5,561.5 L427.8,561.2 L428.1,560.9 L428.4,560.6 L428.7,560.3 L429.0,560.1 L429.3,559.8 L429.6,559.5 L429.9,559.2 L430.2,558.9 L430.5,558.6 L430.8,558.3 L431.1,557.9 L431.4,557.6 L431.7,557.3 L432.0,557.0 L432.3,556.7 L432.6,556.3 L432.9,556.0 L433.2,555.6 L433.5,555.3 L433.8,554.9 L434.1,554.5 L434.4,554.2 L434.7,553.8 L435.0,553.4 L435.3,553.0 L435.6,552.7 L435.9,552.3 L436.2,551.9 L436.5,551.5 L436.8,551.2 L437.1,550.8 L437.4,550.5 L437.7,550.1 L438.0,549.8 L438.3,549.5 L438.6,549.2 L438.9,548.9 L439.2,548.6 L439.5,548.3 L439.8,548.1 L440.1,547.8 L440.4,547.5 L440.7,547.3 L441.0,547.0 L441.3,546.7 L441.6,546.5 L441.9,546.2 L442.2,545.9 L442.5,545.6 L442.8,545.2 L443.1,544.9 L443.4,544.5 L443.7,544.1 L444.0,543.7 L444.3,543.2 L444.6,542.8 L444.9,542.3 L445.2,541.8 L445.5,541.3 L445.8,540.8 L446.1,540.4 L446.4,539.9 L446.7,539.5 L447.0,539.1 L447.3,538.7 L447.6,538.3 L447.9,538.0 L448.2,537.7 L448.5,537.4 L448.8,537.1 L449.1,536.8 L449.4,536.5 L449.7,536.1 L450.0,535.7 L450.3,535.3 L450.6,534.8 L450.9,534.3 L451.2,533.7 L451.5,533.0 L451.8,532.2 L452.1,531.4 L452.4,530.5 L452.7,529.5 L453.0,528.3 L453.3,527.0 L453.6,525.5 L453.9,523.9 L454.2,522.0 L454.5,519.7 L454.8,517.0 L455.1,513.9 L455.4,510.5 L455.7,506.4 L456.0,501.9 L456.3,498.0 L456.6,495.0 L456.9,492.1 L457.2,489.9 L457.5,489.0 L457.8,490.3 L458.1,493.6 L458.4,497.5 L458.7,501.2 L459.0,505.1 L459.3,509.4 L459.6,513.2 L459.9,516.2 L460.2,518.7 L460.5,520.9 L460.8,523.0 L461.1,524.8 L461.4,526.5 L461.7,528.0 L462.0,529.4 L462.3,530.6 L462.6,531.8 L462.9,532.9 L463.2,534.0 L463.5,535.2 L463.8,536.4 L464.1,537.6 L464.4,538.9 L464.7,540.1 L465.0,541.3 L465.3,542.5 L465.6,543.6 L465.9,544.7 L466.2,545.7 L466.5,546.6 L466.8,547.5 L467.1,548.4 L467.4,549.2 L467.7,550.1 L468.0,550.9 L468.3,551.7 L468.6,552.5 L468.9,553.3 L469.2,554.1 L469.5,554.9 L469.8,555.8 L470.1,556.6 L470.4,557.4 L470.7,558.1 L471.0,558.9 L471.3,559.6 L471.6,560.2 L471.9,560.9 L472.2,561.5 L472.5,562.1 L472.8,562.7 L473.1,563.3 L473.4,563.8 L473.7,564.3 L474.0,564.7 L474.3,565.1 L474.6,565.4 L474.9,565.8 L475.2,566.1 L475.5,566.4 L475.8,566.7 L476.1,566.9 L476.4,567.2 L476.7,567.4 L477.0,567.7 L477.3,567.9 L477.6,568.1 L477.9,568.2 L478.2,568.4 L478.5,568.6 L478.8,568.7 L479.1,568.9 L479.4,569.0 L479.7,569.1 L480.0,569.2 L480.3,569.3 L480.6,569.5 L480.9,569.6 L481.2,569.7 L481.5,569.8 L481.8,569.9 L482.1,570.0 L482.4,570.1 L482.7,570.2 L483.0,570.3 L483.3,570.5 L483.6,570.6 L483.9,570.7 L484.2,570.9 L484.5,571.0 L484.8,571.1 L485.1,571.3 L485.4,571.4 L485.7,571.6 L486.0,571.7 L486.3,571.9 L486.6,572.0 L486.9,572.1 L487.2,572.3 L487.5,572.4 L487.8,572.6 L488.1,572.7 L488.4,572.8 L488.7,573.0 L489.0,573.1 L489.3,573.2 L489.6,573.3 L489.9,573.5 L490.2,573.6 L490.5,573.7 L490.8,573.8 L491.1,573.8 L491.4,573.9 L491.7,574.0 L492.0,574.1 L492.3,574.1 L492.6,574.2 L492.9,574.3 L493.2,574.3 L493.5,574.4 L493.8,574.4 L494.1,574.5 L494.4,574.6 L494.7,574.6 L495.0,574.7 L495.3,574.8 L495.6,574.9 L495.9,575.0 L496.2,575.1 L496.5,575.2 L496.8,575.3 L497.1,575.5 L497.4,575.6 L497.7,575.8 L498.0,576.0 L498.3,576.3 L498.6,576.8 L498.9,577.3" fill="none" stroke="#c98c8c" stroke-width="1.3"/>
<path d="M425.4,563.3 L425.7,563.4 L426.0,563.4 L426.3,563.5 L426.6,563.5 L426.9,563.6 L427.2,563.6 L427.5,563.7 L427.8,563.7 L428.1,563.8 L428.4,563.9 L428.7,563.9 L429.0,564.0 L429.3,564.0 L429.6,564.1 L429.9,564.1 L430.2,564.2 L430.5,564.3 L430.8,564.3 L431.1,564.4 L431.4,564.4 L431.7,564.5 L432.0,564.5 L432.3,564.6 L432.6,564.7 L432.9,564.7 L433.2,564.8 L433.5,564.8 L433.8,564.9 L434.1,564.9 L434.4,565.0 L434.7,565.0 L435.0,565.1 L435.3,565.1 L435.6,565.1 L435.9,565.2 L436.2,565.2 L436.5,565.2 L436.8,565.2 L437.1,565.2 L437.4,565.2 L437.7,565.2 L438.0,565.2 L438.3,565.1 L438.6,565.1 L438.9,565.0 L439.2,564.9 L439.5,564.8 L439.8,564.7 L440.1,564.6 L440.4,564.4 L440.7,564.2 L441.0,564.0 L441.3,563.8 L441.6,563.6 L441.9,563.3 L442.2,563.1 L442.5,562.8 L442.8,562.5 L443.1,562.1 L443.4,561.8 L443.7,561.5 L444.0,561.2 L444.3,560.8 L444.6,560.5 L444.9,560.2 L445.2,559.8 L445.5,559.5 L445.8,559.2 L446.1,559.0 L446.4,558.7 L446.7,558.5 L447.0,558.4 L447.3,558.2 L447.6,558.1 L447.9,558.1 L448.2,558.1 L448.5,558.1 L448.8,558.2 L449.1,558.3 L449.4,558.5 L449.7,558.7 L450.0,558.9 L450.3,559.2 L450.6,559.6 L450.9,559.9 L451.2,560.3 L451.5,560.7 L451.8,561.2 L452.1,561.6 L452.4,562.1 L452.7,562.6 L453.0,563.0 L453.3,563.5 L453.6,564.0 L453.9,564.5 L454.2,564.9 L454.5,565.4 L454.8,565.8 L455.1,566.3 L455.4,566.7 L455.7,567.1 L456.0,567.5 L456.3,567.8 L456.6,568.1 L456.9,568.5 L457.2,568.7 L457.5,569.0 L457.8,569.3 L458.1,569.5 L458.4,569.7 L458.7,569.9 L459.0,570.1 L459.3,570.3 L459.6,570.5 L459.9,570.6 L460.2,570.8 L460.5,570.9 L460.8,571.0 L461.1,571.1 L461.4,571.3 L461.7,571.4 L462.0,571.5 L462.3,571.5 L462.6,571.6 L462.9,571.7 L463.2,571.8 L463.5,571.9 L463.8,572.0 L464.1,572.0 L464.4,572.1 L464.7,572.2 L465.0,572.2 L465.3,572.3 L465.6,572.4 L465.9,572.4 L466.2,572.5 L466.5,572.5 L466.8,572.6 L467.1,572.7 L467.4,572.7 L467.7,572.8 L468.0,572.8 L468.3,572.9 L468.6,573.0 L468.9,573.0 L469.2,573.1 L469.5,573.1 L469.8,573.2 L470.1,573.2 L470.4,573.3 L470.7,573.4 L471.0,573.4 L471.3,573.5 L471.6,573.5 L471.9,573.6 L472.2,573.6 L472.5,573.7 L472.8,573.7 L473.1,573.8 L473.4,573.9 L473.7,573.9 L474.0,574.0 L474.3,574.0 L474.6,574.1 L474.9,574.1 L475.2,574.2 L475.5,574.2 L475.8,574.3 L476.1,574.3 L476.4,574.4 L476.7,574.4 L477.0,574.5 L477.3,574.6 L477.6,574.6 L477.9,574.7 L478.2,574.7 L478.5,574.8 L478.8,574.8 L479.1,574.9 L479.4,574.9 L479.7,575.0 L480.0,575.0 L480.3,575.1 L480.6,575.1 L480.9,575.2 L481.2,575.2 L481.5,575.2 L481.8,575.3 L482.1,575.3 L482.4,575.4 L482.7,575.4 L483.0,575.5 L483.3,575.5 L483.6,575.6 L483.9,575.6 L484.2,575.7 L484.5,575.7 L484.8,575.8 L485.1,575.8 L485.4,575.8 L485.7,575.9 L486.0,575.9 L486.3,576.0 L486.6,576.0 L486.9,576.1 L487.2,576.1 L487.5,576.2 L487.8,576.2 L488.1,576.2 L488.4,576.3 L488.7,576.3 L489.0,576.4 L489.3,576.4 L489.6,576.4 L489.9,576.5 L490.2,576.5 L490.5,576.6 L490.8,576.6 L491.1,576.6 L491.4,576.7 L491.7,576.7 L492.0,576.8 L492.3,576.8 L492.6,576.8 L492.9,576.9 L493.2,576.9 L493.5,576.9 L493.8,577.0 L494.1,577.0 L494.4,577.0 L494.7,577.1 L495.0,577.1 L495.3,577.1 L495.6,577.2 L495.9,577.2 L496.2,577.2 L496.5,577.3 L496.8,577.3 L497.1,577.3 L497.4,577.3 L497.7,577.4 L498.0,577.4 L498.3,577.4 L498.6,577.5 L498.9,577.5" fill="none" stroke="#f0b060" stroke-width="0.9"/>
<path d="M425.4,563.1 L425.7,563.2 L426.0,563.2 L426.3,563.3 L426.6,563.3 L426.9,563.4 L427.2,563.4 L427.5,563.5 L427.8,563.5 L428.1,563.6 L428.4,563.6 L428.7,563.7 L429.0,563.7 L429.3,563.8 L429.6,563.8 L429.9,563.9 L430.2,564.0 L430.5,564.0 L430.8,564.1 L431.1,564.1 L431.4,564.2 L431.7,564.2 L432.0,564.3 L432.3,564.3 L432.6,564.4 L432.9,564.4 L433.2,564.5 L433.5,564.5 L433.8,564.6 L434.1,564.6 L434.4,564.7 L434.7,564.7 L435.0,564.8 L435.3,564.8 L435.6,564.9 L435.9,565.0 L436.2,565.0 L436.5,565.1 L436.8,565.1 L437.1,565.2 L437.4,565.2 L437.7,565.3 L438.0,565.3 L438.3,565.3 L438.6,565.4 L438.9,565.4 L439.2,565.5 L439.5,565.5 L439.8,565.6 L440.1,565.6 L440.4,565.7 L440.7,565.7 L441.0,565.8 L441.3,565.8 L441.6,565.8 L441.9,565.9 L442.2,565.9 L442.5,565.9 L442.8,566.0 L443.1,566.0 L443.4,566.0 L443.7,566.1 L444.0,566.1 L444.3,566.1 L444.6,566.1 L444.9,566.1 L445.2,566.2 L445.5,566.2 L445.8,566.2 L446.1,566.2 L446.4,566.2 L446.7,566.2 L447.0,566.1 L447.3,566.1 L447.6,566.1 L447.9,566.1 L448.2,566.0 L448.5,565.9 L448.8,565.9 L449.1,565.8 L449.4,565.7 L449.7,565.5 L450.0,565.3 L450.3,565.1 L450.6,564.8 L450.9,564.5 L451.2,564.0 L451.5,563.4 L451.8,562.7 L452.1,561.8 L452.4,560.7 L452.7,559.3 L453.0,557.7 L453.3,555.8 L453.6,553.5 L453.9,550.9 L454.2,547.9 L454.5,544.6 L454.8,540.9 L455.1,537.0 L455.4,532.9 L455.7,528.8 L456.0,524.8 L456.3,521.0 L456.6,517.7 L456.9,515.1 L457.2,513.5 L457.5,513.0 L457.8,513.7 L458.1,515.5 L458.4,518.2 L458.7,521.6 L459.0,525.5 L459.3,529.7 L459.6,534.0 L459.9,538.3 L460.2,542.3 L460.5,546.1 L460.8,549.6 L461.1,552.7 L461.4,555.5 L461.7,558.0 L462.0,560.0 L462.3,561.8 L462.6,563.3 L462.9,564.6 L463.2,565.6 L463.5,566.5 L463.8,567.2 L464.1,567.8 L464.4,568.3 L464.7,568.7 L465.0,569.1 L465.3,569.4 L465.6,569.7 L465.9,569.9 L466.2,570.2 L466.5,570.4 L466.8,570.6 L467.1,570.8 L467.4,570.9 L467.7,571.1 L468.0,571.2 L468.3,571.4 L468.6,571.5 L468.9,571.6 L469.2,571.8 L469.5,571.9 L469.8,572.0 L470.1,572.1 L470.4,572.2 L470.7,572.3 L471.0,572.4 L471.3,572.5 L471.6,572.6 L471.9,572.7 L472.2,572.8 L472.5,572.9 L472.8,573.0 L473.1,573.0 L473.4,573.1 L473.7,573.2 L474.0,573.3 L474.3,573.4 L474.6,573.4 L474.9,573.5 L475.2,573.6 L475.5,573.7 L475.8,573.7 L476.1,573.8 L476.4,573.9 L476.7,573.9 L477.0,574.0 L477.3,574.1 L477.6,574.1 L477.9,574.2 L478.2,574.3 L478.5,574.3 L478.8,574.4 L479.1,574.5 L479.4,574.5 L479.7,574.6 L480.0,574.6 L480.3,574.7 L480.6,574.8 L480.9,574.8 L481.2,574.9 L481.5,574.9 L481.8,575.0 L482.1,575.0 L482.4,575.1 L482.7,575.1 L483.0,575.2 L483.3,575.2 L483.6,575.3 L483.9,575.4 L484.2,575.4 L484.5,575.5 L484.8,575.5 L485.1,575.6 L485.4,575.6 L485.7,575.7 L486.0,575.7 L486.3,575.8 L486.6,575.8 L486.9,575.8 L487.2,575.9 L487.5,575.9 L487.8,576.0 L488.1,576.0 L488.4,576.1 L488.7,576.1 L489.0,576.2 L489.3,576.2 L489.6,576.3 L489.9,576.3 L490.2,576.3 L490.5,576.4 L490.8,576.4 L491.1,576.5 L491.4,576.5 L491.7,576.6 L492.0,576.6 L492.3,576.6 L492.6,576.7 L492.9,576.7 L493.2,576.7 L493.5,576.8 L493.8,576.8 L494.1,576.9 L494.4,576.9 L494.7,576.9 L495.0,577.0 L495.3,577.0 L495.6,577.0 L495.9,577.1 L496.2,577.1 L496.5,577.1 L496.8,577.2 L497.1,577.2 L497.4,577.2 L497.7,577.3 L498.0,577.3 L498.3,577.3 L498.6,577.4 L498.9,577.4" fill="none" stroke="#6f9ae6" stroke-width="1.0" stroke-dasharray="1.5,0.8"/>
<path d="M425.4,563.2 L425.7,563.3 L426.0,563.3 L426.3,563.3 L426.6,563.4 L426.9,563.4 L427.2,563.4 L427.5,563.4 L427.8,563.4 L428.1,563.5 L428.4,563.4 L428.7,563.4 L429.0,563.4 L429.3,563.4 L429.6,563.3 L429.9,563.3 L430.2,563.2 L430.5,563.1 L430.8,563.0 L431.1,562.9 L431.4,562.8 L431.7,562.6 L432.0,562.4 L432.3,562.2 L432.6,562.0 L432.9,561.7 L433.2,561.4 L433.5,561.1 L433.8,560.8 L434.1,560.5 L434.4,560.1 L434.7,559.7 L435.0,559.3 L435.3,558.8 L435.6,558.3 L435.9,557.9 L436.2,557.3 L436.5,556.8 L436.8,556.3 L437.1,555.8 L437.4,555.2 L437.7,554.7 L438.0,554.2 L438.3,553.6 L438.6,553.1 L438.9,552.6 L439.2,552.2 L439.5,551.7 L439.8,551.3 L440.1,550.9 L440.4,550.6 L440.7,550.3 L441.0,550.0 L441.3,549.8 L441.6,549.7 L441.9,549.6 L442.2,549.5 L442.5,549.6 L442.8,549.6 L443.1,549.8 L443.4,550.0 L443.7,550.2 L444.0,550.5 L444.3,550.8 L444.6,551.2 L444.9,551.7 L445.2,552.2 L445.5,552.7 L445.8,553.3 L446.1,553.8 L446.4,554.5 L446.7,555.1 L447.0,555.7 L447.3,556.4 L447.6,557.1 L447.9,557.7 L448.2,558.4 L448.5,559.1 L448.8,559.7 L449.1,560.4 L449.4,561.0 L449.7,561.6 L450.0,562.2 L450.3,562.8 L450.6,563.4 L450.9,563.9 L451.2,564.4 L451.5,564.9 L451.8,565.3 L452.1,565.8 L452.4,566.2 L452.7,566.6 L453.0,566.9 L453.3,567.2 L453.6,567.6 L453.9,567.9 L454.2,568.1 L454.5,568.4 L454.8,568.6 L455.1,568.8 L455.4,569.0 L455.7,569.2 L456.0,569.4 L456.3,569.6 L456.6,569.7 L456.9,569.9 L457.2,570.0 L457.5,570.2 L457.8,570.3 L458.1,570.4 L458.4,570.5 L458.7,570.6 L459.0,570.7 L459.3,570.8 L459.6,570.9 L459.9,571.0 L460.2,571.1 L460.5,571.2 L460.8,571.2 L461.1,571.3 L461.4,571.4 L461.7,571.5 L462.0,571.6 L462.3,571.6 L462.6,571.7 L462.9,571.8 L463.2,571.8 L463.5,571.9 L463.8,572.0 L464.1,572.0 L464.4,572.1 L464.7,572.2 L465.0,572.2 L465.3,572.3 L465.6,572.4 L465.9,572.4 L466.2,572.5 L466.5,572.5 L466.8,572.6 L467.1,572.7 L467.4,572.7 L467.7,572.8 L468.0,572.8 L468.3,572.9 L468.6,573.0 L468.9,573.0 L469.2,573.1 L469.5,573.1 L469.8,573.2 L470.1,573.2 L470.4,573.3 L470.7,573.4 L471.0,573.4 L471.3,573.5 L471.6,573.5 L471.9,573.6 L472.2,573.6 L472.5,573.7 L472.8,573.7 L473.1,573.8 L473.4,573.9 L473.7,573.9 L474.0,574.0 L474.3,574.0 L474.6,574.1 L474.9,574.1 L475.2,574.2 L475.5,574.2 L475.8,574.3 L476.1,574.3 L476.4,574.4 L476.7,574.4 L477.0,574.5 L477.3,574.6 L477.6,574.6 L477.9,574.7 L478.2,574.7 L478.5,574.8 L478.8,574.8 L479.1,574.9 L479.4,574.9 L479.7,575.0 L480.0,575.0 L480.3,575.1 L480.6,575.1 L480.9,575.2 L481.2,575.2 L481.5,575.2 L481.8,575.3 L482.1,575.3 L482.4,575.4 L482.7,575.4 L483.0,575.5 L483.3,575.5 L483.6,575.6 L483.9,575.6 L484.2,575.7 L484.5,575.7 L484.8,575.8 L485.1,575.8 L485.4,575.8 L485.7,575.9 L486.0,575.9 L486.3,576.0 L486.6,576.0 L486.9,576.1 L487.2,576.1 L487.5,576.2 L487.8,576.2 L488.1,576.2 L488.4,576.3 L488.7,576.3 L489.0,576.4 L489.3,576.4 L489.6,576.4 L489.9,576.5 L490.2,576.5 L490.5,576.6 L490.8,576.6 L491.1,576.6 L491.4,576.7 L491.7,576.7 L492.0,576.8 L492.3,576.8 L492.6,576.8 L492.9,576.9 L493.2,576.9 L493.5,576.9 L493.8,577.0 L494.1,577.0 L494.4,577.0 L494.7,577.1 L495.0,577.1 L495.3,577.1 L495.6,577.2 L495.9,577.2 L496.2,577.2 L496.5,577.3 L496.8,577.3 L497.1,577.3 L497.4,577.3 L497.7,577.4 L498.0,577.4 L498.3,577.4 L498.6,577.5 L498.9,577.5" fill="none" stroke="#52b052" stroke-width="1.1"/>
<path d="M425.4,563.3 L425.7,563.4 L426.0,563.4 L426.3,563.5 L426.6,563.5 L426.9,563.6 L427.2,563.6 L427.5,563.7 L427.8,563.7 L428.1,563.8 L428.4,563.9 L428.7,563.9 L429.0,564.0 L429.3,564.0 L429.6,564.1 L429.9,564.1 L430.2,564.2 L430.5,564.3 L430.8,564.3 L431.1,564.4 L431.4,564.4 L431.7,564.5 L432.0,564.6 L432.3,564.6 L432.6,564.7 L432.9,564.7 L433.2,564.8 L433.5,564.9 L433.8,564.9 L434.1,565.0 L434.4,565.0 L434.7,565.1 L435.0,565.2 L435.3,565.2 L435.6,565.3 L435.9,565.3 L436.2,565.4 L436.5,565.4 L436.8,565.5 L437.1,565.5 L437.4,565.6 L437.7,565.6 L438.0,565.7 L438.3,565.7 L438.6,565.7 L438.9,565.8 L439.2,565.8 L439.5,565.8 L439.8,565.8 L440.1,565.7 L440.4,565.7 L440.7,565.7 L441.0,565.6 L441.3,565.5 L441.6,565.4 L441.9,565.3 L442.2,565.1 L442.5,564.9 L442.8,564.8 L443.1,564.5 L443.4,564.3 L443.7,564.0 L444.0,563.7 L444.3,563.4 L444.6,563.1 L444.9,562.7 L445.2,562.3 L445.5,562.0 L445.8,561.6 L446.1,561.2 L446.4,560.8 L446.7,560.4 L447.0,560.1 L447.3,559.7 L447.6,559.4 L447.9,559.1 L448.2,558.9 L448.5,558.7 L448.8,558.5 L449.1,558.4 L449.4,558.4 L449.7,558.4 L450.0,558.5 L450.3,558.6 L450.6,558.8 L450.9,559.0 L451.2,559.3 L451.5,559.6 L451.8,560.0 L452.1,560.4 L452.4,560.9 L452.7,561.3 L453.0,561.8 L453.3,562.4 L453.6,562.9 L453.9,563.4 L454.2,563.9 L454.5,564.5 L454.8,565.0 L455.1,565.5 L455.4,566.0 L455.7,566.5 L456.0,566.9 L456.3,567.3 L456.6,567.7 L456.9,568.1 L457.2,568.5 L457.5,568.8 L457.8,569.1 L458.1,569.4 L458.4,569.6 L458.7,569.9 L459.0,570.1 L459.3,570.3 L459.6,570.5 L459.9,570.6 L460.2,570.8 L460.5,570.9 L460.8,571.0 L461.1,571.2 L461.4,571.3 L461.7,571.4 L462.0,571.5 L462.3,571.6 L462.6,571.6 L462.9,571.7 L463.2,571.8 L463.5,571.9 L463.8,572.0 L464.1,572.0 L464.4,572.1 L464.7,572.2 L465.0,572.2 L465.3,572.3 L465.6,572.4 L465.9,572.4 L466.2,572.5 L466.5,572.5 L466.8,572.6 L467.1,572.7 L467.4,572.7 L467.7,572.8 L468.0,572.8 L468.3,572.9 L468.6,573.0 L468.9,573.0 L469.2,573.1 L469.5,573.1 L469.8,573.2 L470.1,573.2 L470.4,573.3 L470.7,573.4 L471.0,573.4 L471.3,573.5 L471.6,573.5 L471.9,573.6 L472.2,573.6 L472.5,573.7 L472.8,573.7 L473.1,573.8 L473.4,573.9 L473.7,573.9 L474.0,574.0 L474.3,574.0 L474.6,574.1 L474.9,574.1 L475.2,574.2 L475.5,574.2 L475.8,574.3 L476.1,574.3 L476.4,574.4 L476.7,574.4 L477.0,574.5 L477.3,574.6 L477.6,574.6 L477.9,574.7 L478.2,574.7 L478.5,574.8 L478.8,574.8 L479.1,574.9 L479.4,574.9 L479.7,575.0 L480.0,575.0 L480.3,575.1 L480.6,575.1 L480.9,575.2 L481.2,575.2 L481.5,575.2 L481.8,575.3 L482.1,575.3 L482.4,575.4 L482.7,575.4 L483.0,575.5 L483.3,575.5 L483.6,575.6 L483.9,575.6 L484.2,575.7 L484.5,575.7 L484.8,575.8 L485.1,575.8 L485.4,575.8 L485.7,575.9 L486.0,575.9 L486.3,576.0 L486.6,576.0 L486.9,576.1 L487.2,576.1 L487.5,576.2 L487.8,576.2 L488.1,576.2 L488.4,576.3 L488.7,576.3 L489.0,576.4 L489.3,576.4 L489.6,576.4 L489.9,576.5 L490.2,576.5 L490.5,576.6 L490.8,576.6 L491.1,576.6 L491.4,576.7 L491.7,576.7 L492.0,576.8 L492.3,576.8 L492.6,576.8 L492.9,576.9 L493.2,576.9 L493.5,576.9 L493.8,577.0 L494.1,577.0 L494.4,577.0 L494.7,577.1 L495.0,577.1 L495.3,577.1 L495.6,577.2 L495.9,577.2 L496.2,577.2 L496.5,577.3 L496.8,577.3 L497.1,577.3 L497.4,577.3 L497.7,577.4 L498.0,577.4 L498.3,577.4 L498.6,577.5 L498.9,577.5" fill="none" stroke="#52b052" stroke-width="1.1"/>
<path d="M425.4,563.3 L425.7,563.4 L426.0,563.4 L426.3,563.5 L426.6,563.5 L426.9,563.6 L427.2,563.6 L427.5,563.7 L427.8,563.7 L428.1,563.8 L428.4,563.9 L428.7,563.9 L429.0,564.0 L429.3,564.0 L429.6,564.1 L429.9,564.1 L430.2,564.2 L430.5,564.3 L430.8,564.3 L431.1,564.4 L431.4,564.4 L431.7,564.5 L432.0,564.6 L432.3,564.6 L432.6,564.7 L432.9,564.7 L433.2,564.8 L433.5,564.9 L433.8,564.9 L434.1,565.0 L434.4,565.0 L434.7,565.1 L435.0,565.2 L435.3,565.2 L435.6,565.3 L435.9,565.4 L436.2,565.4 L436.5,565.5 L436.8,565.5 L437.1,565.6 L437.4,565.7 L437.7,565.7 L438.0,565.8 L438.3,565.9 L438.6,565.9 L438.9,566.0 L439.2,566.0 L439.5,566.1 L439.8,566.2 L440.1,566.2 L440.4,566.3 L440.7,566.4 L441.0,566.4 L441.3,566.5 L441.6,566.6 L441.9,566.6 L442.2,566.7 L442.5,566.8 L442.8,566.8 L443.1,566.9 L443.4,566.9 L443.7,567.0 L444.0,567.1 L444.3,567.1 L444.6,567.2 L444.9,567.3 L445.2,567.3 L445.5,567.4 L445.8,567.5 L446.1,567.5 L446.4,567.6 L446.7,567.6 L447.0,567.7 L447.3,567.7 L447.6,567.8 L447.9,567.8 L448.2,567.9 L448.5,567.9 L448.8,567.9 L449.1,568.0 L449.4,568.0 L449.7,568.0 L450.0,568.0 L450.3,567.9 L450.6,567.9 L450.9,567.8 L451.2,567.7 L451.5,567.6 L451.8,567.5 L452.1,567.3 L452.4,567.1 L452.7,566.9 L453.0,566.6 L453.3,566.3 L453.6,566.0 L453.9,565.6 L454.2,565.1 L454.5,564.6 L454.8,564.1 L455.1,563.5 L455.4,562.8 L455.7,562.1 L456.0,561.4 L456.3,560.6 L456.6,559.8 L456.9,558.9 L457.2,558.0 L457.5,557.1 L457.8,556.1 L458.1,555.2 L458.4,554.2 L458.7,553.3 L459.0,552.4 L459.3,551.5 L459.6,550.6 L459.9,549.8 L460.2,549.1 L460.5,548.4 L460.8,547.8 L461.1,547.3 L461.4,546.9 L461.7,546.6 L462.0,546.4 L462.3,546.3 L462.6,546.3 L462.9,546.4 L463.2,546.6 L463.5,546.9 L463.8,547.3 L464.1,547.8 L464.4,548.3 L464.7,548.9 L465.0,549.6 L465.3,550.3 L465.6,551.1 L465.9,552.0 L466.2,552.9 L466.5,553.8 L466.8,554.8 L467.1,555.7 L467.4,556.7 L467.7,557.7 L468.0,558.7 L468.3,559.6 L468.6,560.6 L468.9,561.5 L469.2,562.4 L469.5,563.3 L469.8,564.2 L470.1,565.0 L470.4,565.8 L470.7,566.5 L471.0,567.2 L471.3,567.9 L471.6,568.5 L471.9,569.1 L472.2,569.6 L472.5,570.1 L472.8,570.6 L473.1,571.0 L473.4,571.4 L473.7,571.8 L474.0,572.1 L474.3,572.4 L474.6,572.7 L474.9,572.9 L475.2,573.1 L475.5,573.3 L475.8,573.5 L476.1,573.7 L476.4,573.8 L476.7,574.0 L477.0,574.1 L477.3,574.2 L477.6,574.3 L477.9,574.4 L478.2,574.5 L478.5,574.6 L478.8,574.7 L479.1,574.7 L479.4,574.8 L479.7,574.9 L480.0,574.9 L480.3,575.0 L480.6,575.1 L480.9,575.1 L481.2,575.2 L481.5,575.2 L481.8,575.3 L482.1,575.3 L482.4,575.4 L482.7,575.4 L483.0,575.5 L483.3,575.5 L483.6,575.6 L483.9,575.6 L484.2,575.7 L484.5,575.7 L484.8,575.8 L485.1,575.8 L485.4,575.8 L485.7,575.9 L486.0,575.9 L486.3,576.0 L486.6,576.0 L486.9,576.1 L487.2,576.1 L487.5,576.2 L487.8,576.2 L488.1,576.2 L488.4,576.3 L488.7,576.3 L489.0,576.4 L489.3,576.4 L489.6,576.4 L489.9,576.5 L490.2,576.5 L490.5,576.6 L490.8,576.6 L491.1,576.6 L491.4,576.7 L491.7,576.7 L492.0,576.8 L492.3,576.8 L492.6,576.8 L492.9,576.9 L493.2,576.9 L493.5,576.9 L493.8,577.0 L494.1,577.0 L494.4,577.0 L494.7,577.1 L495.0,577.1 L495.3,577.1 L495.6,577.2 L495.9,577.2 L496.2,577.2 L496.5,577.3 L496.8,577.3 L497.1,577.3 L497.4,577.3 L497.7,577.4 L498.0,577.4 L498.3,577.4 L498.6,577.5 L498.9,577.5" fill="none" stroke="#52b052" stroke-width="1.1"/>
<path d="M425.4,563.3 L425.7,563.4 L426.0,563.4 L426.3,563.5 L426.6,563.5 L426.9,563.6 L427.2,563.6 L427.5,563.7 L427.8,563.7 L428.1,563.8 L428.4,563.9 L428.7,563.9 L429.0,564.0 L429.3,564.0 L429.6,564.1 L429.9,564.1 L430.2,564.2 L430.5,564.3 L430.8,564.3 L431.1,564.4 L431.4,564.4 L431.7,564.5 L432.0,564.6 L432.3,564.6 L432.6,564.7 L432.9,564.7 L433.2,564.8 L433.5,564.9 L433.8,564.9 L434.1,565.0 L434.4,565.0 L434.7,565.1 L435.0,565.2 L435.3,565.2 L435.6,565.3 L435.9,565.4 L436.2,565.4 L436.5,565.5 L436.8,565.5 L437.1,565.6 L437.4,565.7 L437.7,565.7 L438.0,565.8 L438.3,565.9 L438.6,565.9 L438.9,566.0 L439.2,566.0 L439.5,566.1 L439.8,566.2 L440.1,566.2 L440.4,566.3 L440.7,566.4 L441.0,566.4 L441.3,566.5 L441.6,566.6 L441.9,566.6 L442.2,566.7 L442.5,566.8 L442.8,566.8 L443.1,566.9 L443.4,567.0 L443.7,567.0 L444.0,567.1 L444.3,567.2 L444.6,567.2 L444.9,567.3 L445.2,567.4 L445.5,567.4 L445.8,567.5 L446.1,567.6 L446.4,567.6 L446.7,567.7 L447.0,567.8 L447.3,567.8 L447.6,567.9 L447.9,568.0 L448.2,568.0 L448.5,568.1 L448.8,568.2 L449.1,568.2 L449.4,568.3 L449.7,568.4 L450.0,568.5 L450.3,568.5 L450.6,568.6 L450.9,568.7 L451.2,568.8 L451.5,568.8 L451.8,568.9 L452.1,569.0 L452.4,569.1 L452.7,569.2 L453.0,569.2 L453.3,569.3 L453.6,569.4 L453.9,569.5 L454.2,569.6 L454.5,569.6 L454.8,569.7 L455.1,569.8 L455.4,569.9 L455.7,570.0 L456.0,570.0 L456.3,570.1 L456.6,570.2 L456.9,570.3 L457.2,570.4 L457.5,570.4 L457.8,570.5 L458.1,570.6 L458.4,570.7 L458.7,570.7 L459.0,570.8 L459.3,570.9 L459.6,571.0 L459.9,571.1 L460.2,571.1 L460.5,571.2 L460.8,571.3 L461.1,571.3 L461.4,571.4 L461.7,571.5 L462.0,571.6 L462.3,571.6 L462.6,571.7 L462.9,571.7 L463.2,571.8 L463.5,571.8 L463.8,571.9 L464.1,571.9 L464.4,571.9 L464.7,571.9 L465.0,571.9 L465.3,571.9 L465.6,571.9 L465.9,571.8 L466.2,571.8 L466.5,571.7 L466.8,571.6 L467.1,571.5 L467.4,571.4 L467.7,571.3 L468.0,571.1 L468.3,571.0 L468.6,570.8 L468.9,570.7 L469.2,570.5 L469.5,570.4 L469.8,570.3 L470.1,570.2 L470.4,570.1 L470.7,570.0 L471.0,570.0 L471.3,570.0 L471.6,570.0 L471.9,570.1 L472.2,570.2 L472.5,570.3 L472.8,570.5 L473.1,570.7 L473.4,570.9 L473.7,571.2 L474.0,571.4 L474.3,571.7 L474.6,572.0 L474.9,572.2 L475.2,572.5 L475.5,572.7 L475.8,573.0 L476.1,573.2 L476.4,573.4 L476.7,573.6 L477.0,573.8 L477.3,574.0 L477.6,574.1 L477.9,574.3 L478.2,574.4 L478.5,574.5 L478.8,574.6 L479.1,574.7 L479.4,574.8 L479.7,574.9 L480.0,574.9 L480.3,575.0 L480.6,575.1 L480.9,575.1 L481.2,575.2 L481.5,575.2 L481.8,575.3 L482.1,575.3 L482.4,575.4 L482.7,575.4 L483.0,575.5 L483.3,575.5 L483.6,575.6 L483.9,575.6 L484.2,575.7 L484.5,575.7 L484.8,575.8 L485.1,575.8 L485.4,575.8 L485.7,575.9 L486.0,575.9 L486.3,576.0 L486.6,576.0 L486.9,576.1 L487.2,576.1 L487.5,576.2 L487.8,576.2 L488.1,576.2 L488.4,576.3 L488.7,576.3 L489.0,576.4 L489.3,576.4 L489.6,576.4 L489.9,576.5 L490.2,576.5 L490.5,576.6 L490.8,576.6 L491.1,576.6 L491.4,576.7 L491.7,576.7 L492.0,576.8 L492.3,576.8 L492.6,576.8 L492.9,576.9 L493.2,576.9 L493.5,576.9 L493.8,577.0 L494.1,577.0 L494.4,577.0 L494.7,577.1 L495.0,577.1 L495.3,577.1 L495.6,577.2 L495.9,577.2 L496.2,577.2 L496.5,577.3 L496.8,577.3 L497.1,577.3 L497.4,577.3 L497.7,577.4 L498.0,577.4 L498.3,577.4 L498.6,577.5 L498.9,577.5" fill="none" stroke="#52b052" stroke-width="1.1"/>
<path d="M425.4,563.3 L425.7,563.4 L426.0,563.4 L426.3,563.5 L426.6,563.5 L426.9,563.6 L427.2,563.6 L427.5,563.7 L427.8,563.7 L428.1,563.8 L428.4,563.9 L428.7,563.9 L429.0,564.0 L429.3,564.0 L429.6,564.1 L429.9,564.1 L430.2,564.2 L430.5,564.3 L430.8,564.3 L431.1,564.4 L431.4,564.4 L431.7,564.5 L432.0,564.6 L432.3,564.6 L432.6,564.7 L432.9,564.7 L433.2,564.8 L433.5,564.9 L433.8,564.9 L434.1,565.0 L434.4,565.0 L434.7,565.1 L435.0,565.2 L435.3,565.2 L435.6,565.3 L435.9,565.4 L436.2,565.4 L436.5,565.5 L436.8,565.5 L437.1,565.6 L437.4,565.7 L437.7,565.7 L438.0,565.8 L438.3,565.9 L438.6,565.9 L438.9,566.0 L439.2,566.0 L439.5,566.1 L439.8,566.2 L440.1,566.2 L440.4,566.3 L440.7,566.4 L441.0,566.4 L441.3,566.5 L441.6,566.6 L441.9,566.6 L442.2,566.7 L442.5,566.8 L442.8,566.8 L443.1,566.9 L443.4,567.0 L443.7,567.0 L444.0,567.1 L444.3,567.2 L444.6,567.2 L444.9,567.3 L445.2,567.4 L445.5,567.4 L445.8,567.5 L446.1,567.6 L446.4,567.6 L446.7,567.7 L447.0,567.8 L447.3,567.8 L447.6,567.9 L447.9,568.0 L448.2,568.0 L448.5,568.1 L448.8,568.2 L449.1,568.2 L449.4,568.3 L449.7,568.4 L450.0,568.5 L450.3,568.5 L450.6,568.6 L450.9,568.7 L451.2,568.8 L451.5,568.8 L451.8,568.9 L452.1,569.0 L452.4,569.1 L452.7,569.2 L453.0,569.2 L453.3,569.3 L453.6,569.4 L453.9,569.5 L454.2,569.6 L454.5,569.6 L454.8,569.7 L455.1,569.8 L455.4,569.9 L455.7,570.0 L456.0,570.0 L456.3,570.1 L456.6,570.2 L456.9,570.3 L457.2,570.4 L457.5,570.4 L457.8,570.5 L458.1,570.6 L458.4,570.7 L458.7,570.7 L459.0,570.8 L459.3,570.9 L459.6,571.0 L459.9,571.1 L460.2,571.1 L460.5,571.2 L460.8,571.3 L461.1,571.4 L461.4,571.4 L461.7,571.5 L462.0,571.6 L462.3,571.6 L462.6,571.7 L462.9,571.8 L463.2,571.8 L463.5,571.9 L463.8,572.0 L464.1,572.0 L464.4,572.1 L464.7,572.2 L465.0,572.2 L465.3,572.3 L465.6,572.4 L465.9,572.4 L466.2,572.5 L466.5,572.5 L466.8,572.6 L467.1,572.7 L467.4,572.7 L467.7,572.8 L468.0,572.8 L468.3,572.9 L468.6,572.9 L468.9,573.0 L469.2,573.1 L469.5,573.1 L469.8,573.2 L470.1,573.2 L470.4,573.3 L470.7,573.3 L471.0,573.3 L471.3,573.4 L471.6,573.4 L471.9,573.4 L472.2,573.5 L472.5,573.5 L472.8,573.5 L473.1,573.5 L473.4,573.5 L473.7,573.5 L474.0,573.4 L474.3,573.4 L474.6,573.4 L474.9,573.3 L475.2,573.2 L475.5,573.2 L475.8,573.1 L476.1,573.0 L476.4,572.9 L476.7,572.8 L477.0,572.7 L477.3,572.6 L477.6,572.5 L477.9,572.4 L478.2,572.3 L478.5,572.2 L478.8,572.1 L479.1,572.1 L479.4,572.1 L479.7,572.0 L480.0,572.0 L480.3,572.1 L480.6,572.1 L480.9,572.2 L481.2,572.3 L481.5,572.4 L481.8,572.5 L482.1,572.6 L482.4,572.8 L482.7,573.0 L483.0,573.2 L483.3,573.4 L483.6,573.6 L483.9,573.8 L484.2,574.0 L484.5,574.2 L484.8,574.3 L485.1,574.5 L485.4,574.7 L485.7,574.9 L486.0,575.1 L486.3,575.2 L486.6,575.4 L486.9,575.5 L487.2,575.6 L487.5,575.7 L487.8,575.9 L488.1,576.0 L488.4,576.0 L488.7,576.1 L489.0,576.2 L489.3,576.3 L489.6,576.3 L489.9,576.4 L490.2,576.5 L490.5,576.5 L490.8,576.6 L491.1,576.6 L491.4,576.7 L491.7,576.7 L492.0,576.7 L492.3,576.8 L492.6,576.8 L492.9,576.9 L493.2,576.9 L493.5,576.9 L493.8,577.0 L494.1,577.0 L494.4,577.0 L494.7,577.1 L495.0,577.1 L495.3,577.1 L495.6,577.2 L495.9,577.2 L496.2,577.2 L496.5,577.3 L496.8,577.3 L497.1,577.3 L497.4,577.3 L497.7,577.4 L498.0,577.4 L498.3,577.4 L498.6,577.5 L498.9,577.5" fill="none" stroke="#52b052" stroke-width="1.1"/>
<path d="M425.4,563.3 L425.7,563.4 L426.0,563.4 L426.3,563.5 L426.6,563.5 L426.9,563.6 L427.2,563.6 L427.5,563.7 L427.8,563.7 L428.1,563.8 L428.4,563.9 L428.7,563.9 L429.0,564.0 L429.3,564.0 L429.6,564.1 L429.9,564.1 L430.2,564.2 L430.5,564.3 L430.8,564.3 L431.1,564.4 L431.4,564.4 L431.7,564.5 L432.0,564.6 L432.3,564.6 L432.6,564.7 L432.9,564.7 L433.2,564.8 L433.5,564.9 L433.8,564.9 L434.1,565.0 L434.4,565.0 L434.7,565.1 L435.0,565.2 L435.3,565.2 L435.6,565.3 L435.9,565.4 L436.2,565.4 L436.5,565.5 L436.8,565.5 L437.1,565.6 L437.4,565.7 L437.7,565.7 L438.0,565.8 L438.3,565.9 L438.6,565.9 L438.9,566.0 L439.2,566.0 L439.5,566.1 L439.8,566.2 L440.1,566.2 L440.4,566.3 L440.7,566.4 L441.0,566.4 L441.3,566.5 L441.6,566.6 L441.9,566.6 L442.2,566.7 L442.5,566.8 L442.8,566.8 L443.1,566.9 L443.4,567.0 L443.7,567.0 L444.0,567.1 L444.3,567.2 L444.6,567.2 L444.9,567.3 L445.2,567.4 L445.5,567.4 L445.8,567.5 L446.1,567.6 L446.4,567.6 L446.7,567.7 L447.0,567.8 L447.3,567.8 L447.6,567.9 L447.9,568.0 L448.2,568.0 L448.5,568.1 L448.8,568.2 L449.1,568.2 L449.4,568.3 L449.7,568.4 L450.0,568.5 L450.3,568.5 L450.6,568.6 L450.9,568.7 L451.2,568.8 L451.5,568.8 L451.8,568.9 L452.1,569.0 L452.4,569.1 L452.7,569.2 L453.0,569.2 L453.3,569.3 L453.6,569.4 L453.9,569.5 L454.2,569.6 L454.5,569.6 L454.8,569.7 L455.1,569.8 L455.4,569.9 L455.7,570.0 L456.0,570.0 L456.3,570.1 L456.6,570.2 L456.9,570.3 L457.2,570.4 L457.5,570.4 L457.8,570.5 L458.1,570.6 L458.4,570.7 L458.7,570.7 L459.0,570.8 L459.3,570.9 L459.6,571.0 L459.9,571.1 L460.2,571.1 L460.5,571.2 L460.8,571.3 L461.1,571.4 L461.4,571.4 L461.7,571.5 L462.0,571.6 L462.3,571.6 L462.6,571.7 L462.9,571.8 L463.2,571.8 L463.5,571.9 L463.8,572.0 L464.1,572.0 L464.4,572.1 L464.7,572.2 L465.0,572.2 L465.3,572.3 L465.6,572.4 L465.9,572.4 L466.2,572.5 L466.5,572.5 L466.8,572.6 L467.1,572.7 L467.4,572.7 L467.7,572.8 L468.0,572.8 L468.3,572.9 L468.6,573.0 L468.9,573.0 L469.2,573.1 L469.5,573.1 L469.8,573.2 L470.1,573.2 L470.4,573.3 L470.7,573.4 L471.0,573.4 L471.3,573.5 L471.6,573.5 L471.9,573.6 L472.2,573.6 L472.5,573.7 L472.8,573.7 L473.1,573.8 L473.4,573.9 L473.7,573.9 L474.0,574.0 L474.3,574.0 L474.6,574.1 L474.9,574.1 L475.2,574.2 L475.5,574.2 L475.8,574.3 L476.1,574.3 L476.4,574.4 L476.7,574.4 L477.0,574.5 L477.3,574.6 L477.6,574.6 L477.9,574.7 L478.2,574.7 L478.5,574.8 L478.8,574.8 L479.1,574.9 L479.4,574.9 L479.7,575.0 L480.0,575.0 L480.3,575.1 L480.6,575.1 L480.9,575.2 L481.2,575.2 L481.5,575.2 L481.8,575.3 L482.1,575.3 L482.4,575.4 L482.7,575.4 L483.0,575.5 L483.3,575.5 L483.6,575.6 L483.9,575.6 L484.2,575.7 L484.5,575.7 L484.8,575.8 L485.1,575.8 L485.4,575.8 L485.7,575.9 L486.0,575.9 L486.3,576.0 L486.6,576.0 L486.9,576.1 L487.2,576.1 L487.5,576.2 L487.8,576.2 L488.1,576.2 L488.4,576.3 L488.7,576.3 L489.0,576.4 L489.3,576.4 L489.6,576.4 L489.9,576.5 L490.2,576.5 L490.5,576.6 L490.8,576.6 L491.1,576.6 L491.4,576.7 L491.7,576.7 L492.0,576.8 L492.3,576.8 L492.6,576.8 L492.9,576.9 L493.2,576.9 L493.5,576.9 L493.8,577.0 L494.1,577.0 L494.4,577.0 L494.7,577.1 L495.0,577.1 L495.3,577.1 L495.6,577.2 L495.9,577.2 L496.2,577.2 L496.5,577.3 L496.8,577.3 L497.1,577.3 L497.4,577.3 L497.7,577.4 L498.0,577.4 L498.3,577.4 L498.6,577.5 L498.9,577.5" fill="none" stroke="#3c9f3c" stroke-width="1.5"/>
<text x="291.4" y="333" font-size="7.6" font-weight="bold" text-anchor="start" fill="#111" >After SF<tspan baseline-shift="-1.8" font-size="5.5">6</tspan>/Ar plasma</text>
<text x="290.9" y="460.1" font-size="7.6" font-weight="bold" text-anchor="start" fill="#111" >After CHF<tspan baseline-shift="-1.8" font-size="5.5">3</tspan>/CF<tspan baseline-shift="-1.8" font-size="5.5">4</tspan>/Ar plasma</text>
<text x="345.3" y="358.408" font-size="7.8" font-weight="bold" text-anchor="start" fill="#1a1a1a" >P<tspan baseline-shift="-1.8" font-size="5.5">3</tspan></text>
<line x1="346.0" y1="359.5" x2="343.6" y2="369.6" stroke="#222" stroke-width="0.8"/>
<path d="M342.7,373.5 L341.8,369.2 L345.5,370.0 Z" fill="#222"/>
<text x="360.8" y="385.70799999999997" font-size="7.8" font-weight="bold" text-anchor="start" fill="#1a1a1a" >P<tspan baseline-shift="-1.8" font-size="5.5">2</tspan></text>
<line x1="362.9" y1="386.8" x2="354.3" y2="412.7" stroke="#222" stroke-width="0.8"/>
<path d="M353.0,416.5 L352.5,412.1 L356.1,413.3 Z" fill="#222"/>
<text x="368.1" y="401.20799999999997" font-size="7.8" font-weight="bold" text-anchor="start" fill="#1a1a1a" >P<tspan baseline-shift="-1.8" font-size="5.5">1</tspan></text>
<line x1="369.4" y1="402.3" x2="364.1" y2="408.9" stroke="#222" stroke-width="0.8"/>
<path d="M361.6,412.0 L362.6,407.7 L365.6,410.1 Z" fill="#222"/>
<text x="309.5" y="486.608" font-size="7.8" font-weight="bold" text-anchor="start" fill="#1a1a1a" >P<tspan baseline-shift="-1.8" font-size="5.5">5</tspan></text>
<line x1="316.5" y1="490.2" x2="319.4" y2="498.7" stroke="#222" stroke-width="0.8"/>
<path d="M320.7,502.5 L317.6,499.3 L321.2,498.1 Z" fill="#222"/>
<text x="328.4" y="484.70799999999997" font-size="7.8" font-weight="bold" text-anchor="start" fill="#1a1a1a" >P<tspan baseline-shift="-1.8" font-size="5.5">4</tspan></text>
<line x1="331.3" y1="487.3" x2="331.3" y2="510.0" stroke="#222" stroke-width="0.8"/>
<path d="M331.3,514.0 L329.4,510.0 L333.2,510.0 Z" fill="#222"/>
<text x="347.6" y="474.808" font-size="7.8" font-weight="bold" text-anchor="start" fill="#1a1a1a" >P<tspan baseline-shift="-1.8" font-size="5.5">3</tspan></text>
<line x1="345.7" y1="475.8" x2="344.3" y2="479.3" stroke="#222" stroke-width="0.8"/>
<path d="M342.8,483.0 L342.5,478.6 L346.1,480.0 Z" fill="#222"/>
<text x="354.3" y="510.308" font-size="7.8" font-weight="bold" text-anchor="start" fill="#1a1a1a" >P<tspan baseline-shift="-1.8" font-size="5.5">2</tspan></text>
<line x1="356.8" y1="511.3" x2="352.3" y2="533.1" stroke="#222" stroke-width="0.8"/>
<path d="M351.5,537.0 L350.4,532.7 L354.2,533.5 Z" fill="#222"/>
<text x="365.9" y="519.008" font-size="7.8" font-weight="bold" text-anchor="start" fill="#1a1a1a" >P<tspan baseline-shift="-1.8" font-size="5.5">1</tspan></text>
<line x1="366.8" y1="520.0" x2="364.3" y2="523.7" stroke="#222" stroke-width="0.8"/>
<path d="M362.0,527.0 L362.7,522.6 L365.8,524.8 Z" fill="#222"/>
<text x="471" y="401.408" font-size="7.8" font-weight="bold" text-anchor="start" fill="#1a1a1a" >P<tspan baseline-shift="-1.8" font-size="5.5">3</tspan><tspan baseline-shift="3" font-size="5.5">*</tspan></text>
<line x1="471.9" y1="402.9" x2="465.5" y2="412.6" stroke="#222" stroke-width="0.8"/>
<path d="M463.3,415.9 L463.9,411.5 L467.1,413.6 Z" fill="#222"/>
<text x="479.7" y="423.008" font-size="7.8" font-weight="bold" text-anchor="start" fill="#1a1a1a" >P<tspan baseline-shift="-1.8" font-size="5.5">2</tspan><tspan baseline-shift="3" font-size="5.5">*</tspan></text>
<line x1="481.4" y1="425.4" x2="475.4" y2="438.4" stroke="#222" stroke-width="0.8"/>
<path d="M473.7,442.0 L473.7,437.6 L477.1,439.2 Z" fill="#222"/>
<text x="489.2" y="431.608" font-size="7.8" font-weight="bold" text-anchor="start" fill="#1a1a1a" >P<tspan baseline-shift="-1.8" font-size="5.5">1</tspan><tspan baseline-shift="3" font-size="5.5">*</tspan></text>
<line x1="488.4" y1="434.9" x2="484.8" y2="439.5" stroke="#222" stroke-width="0.8"/>
<path d="M482.3,442.7 L483.3,438.4 L486.3,440.7 Z" fill="#222"/>
<text x="431.8" y="511.70799999999997" font-size="7.8" font-weight="bold" text-anchor="start" fill="#1a1a1a" >P<tspan baseline-shift="-1.8" font-size="5.5">4</tspan><tspan baseline-shift="3" font-size="5.5">*</tspan></text>
<line x1="442.6" y1="516.2" x2="451.6" y2="549.6" stroke="#222" stroke-width="0.8"/>
<path d="M452.6,553.5 L449.7,550.1 L453.4,549.1 Z" fill="#222"/>
<text x="466.7" y="517.208" font-size="7.8" font-weight="bold" text-anchor="start" fill="#1a1a1a" >P<tspan baseline-shift="-1.8" font-size="5.5">3</tspan><tspan baseline-shift="3" font-size="5.5">*</tspan></text>
<line x1="470.7" y1="520.7" x2="464.8" y2="538.7" stroke="#222" stroke-width="0.8"/>
<path d="M463.5,542.5 L463.0,538.1 L466.6,539.3 Z" fill="#222"/>
<text x="423.6" y="538.008" font-size="7.8" font-weight="bold" text-anchor="start" fill="#1a1a1a" >P<tspan baseline-shift="-1.8" font-size="5.5">5</tspan><tspan baseline-shift="3" font-size="5.5">*</tspan></text>
<line x1="432.7" y1="543.3" x2="436.4" y2="546.4" stroke="#222" stroke-width="0.8"/>
<path d="M439.5,549.0 L435.2,547.9 L437.7,545.0 Z" fill="#222"/>
<text x="480.7" y="546.108" font-size="7.8" font-weight="bold" text-anchor="start" fill="#1a1a1a" >P<tspan baseline-shift="-1.8" font-size="5.5">2</tspan><tspan baseline-shift="3" font-size="5.5">*</tspan></text>
<line x1="483.4" y1="549.7" x2="477.1" y2="561.8" stroke="#222" stroke-width="0.8"/>
<path d="M475.2,565.3 L475.4,560.9 L478.7,562.6 Z" fill="#222"/>
<text x="487" y="561.508" font-size="7.8" font-weight="bold" text-anchor="start" fill="#1a1a1a" >P<tspan baseline-shift="-1.8" font-size="5.5">1</tspan><tspan baseline-shift="3" font-size="5.5">*</tspan></text>
<line x1="488.8" y1="565.1" x2="486.2" y2="567.7" stroke="#222" stroke-width="0.8"/>
<path d="M483.4,570.5 L484.9,566.3 L487.6,569.0 Z" fill="#222"/>
<text x="457.2" y="382.52" font-size="7.0" font-weight="bold" text-anchor="middle" fill="#1a1a1a" >N-(Al/Ga)</text>
<text x="457.2" y="390.02" font-size="7.0" font-weight="normal" text-anchor="middle" fill="#555" >(397.5 eV)</text>
<text x="436.4" y="413.21999999999997" font-size="7.0" font-weight="bold" text-anchor="middle" fill="#1a1a1a" >N-F<tspan baseline-shift="-1.8" font-size="5">x</tspan></text>
<text x="438.2" y="422.71999999999997" font-size="7.0" font-weight="normal" text-anchor="middle" fill="#555" >(399.1 eV)</text>
<rect x="433.8" y="325" width="79.4" height="49.2" fill="#fff" stroke="#b0b0b0" stroke-width="0.7"/>
<line x1="436" y1="329" x2="448" y2="329" stroke="#d8d8d8" stroke-width="0.8"/>
<text x="449.8" y="331.3" font-size="6.3" font-weight="normal" text-anchor="start" fill="#3a3a3a" >Aquired data</text>
<line x1="436" y1="336.7" x2="448" y2="336.7" stroke="#f4c8c8" stroke-width="0.8"/>
<text x="449.8" y="339.0" font-size="6.3" font-weight="normal" text-anchor="start" fill="#3a3a3a" >Fitted&#160; envelope</text>
<line x1="436" y1="344.4" x2="448" y2="344.4" stroke="#c4d8f4" stroke-width="0.8"/>
<text x="449.8" y="346.7" font-size="6.3" font-weight="normal" text-anchor="start" fill="#3a3a3a" >Fitted N-(Al/Ga) peak</text>
<line x1="436" y1="352" x2="448" y2="352" stroke="#f8e0c4" stroke-width="0.8"/>
<text x="449.8" y="354.3" font-size="6.3" font-weight="normal" text-anchor="start" fill="#3a3a3a" >Fitted N-F peak</text>
<line x1="436" y1="359.8" x2="448" y2="359.8" stroke="#c4e4c4" stroke-width="0.8"/>
<text x="449.8" y="362.1" font-size="6.3" font-weight="normal" text-anchor="start" fill="#3a3a3a" >Fitted Ga L<tspan baseline-shift="-1.6" font-size="5.0">2</tspan>M<tspan baseline-shift="-1.6" font-size="5.0">4,5</tspan>M<tspan baseline-shift="-1.6" font-size="5.0">4,5</tspan></text>
<line x1="436" y1="369.6" x2="448" y2="369.6" stroke="#e4c4e4" stroke-width="0.8"/>
<text x="449.8" y="371.90000000000003" font-size="6.3" font-weight="normal" text-anchor="start" fill="#3a3a3a" >Fitted Ga L<tspan baseline-shift="-1.6" font-size="5.0">3</tspan>M<tspan baseline-shift="-1.6" font-size="5.0">4,5</tspan>M<tspan baseline-shift="-1.6" font-size="5.0">4,5</tspan></text>
<line x1="514.2" y1="579" x2="514.2" y2="581.5" stroke="#8a8a8a" stroke-width="0.9" />
<text x="514.2" y="591.2" font-size="7.4" font-weight="bold" text-anchor="middle" fill="#111" >385</text>
<line x1="491.75" y1="579" x2="491.75" y2="581.5" stroke="#8a8a8a" stroke-width="0.9" />
<text x="491.75" y="591.2" font-size="7.4" font-weight="bold" text-anchor="middle" fill="#111" >390</text>
<line x1="469.3" y1="579" x2="469.3" y2="581.5" stroke="#8a8a8a" stroke-width="0.9" />
<text x="469.3" y="591.2" font-size="7.4" font-weight="bold" text-anchor="middle" fill="#111" >395</text>
<line x1="446.85" y1="579" x2="446.85" y2="581.5" stroke="#8a8a8a" stroke-width="0.9" />
<text x="446.85" y="591.2" font-size="7.4" font-weight="bold" text-anchor="middle" fill="#111" >400</text>
<line x1="424.4" y1="579" x2="424.4" y2="581.5" stroke="#8a8a8a" stroke-width="0.9" />
<text x="424.4" y="591.2" font-size="7.4" font-weight="bold" text-anchor="middle" fill="#111" >405</text>
<line x1="401.95" y1="579" x2="401.95" y2="581.5" stroke="#8a8a8a" stroke-width="0.9" />
<text x="401.95" y="591.2" font-size="7.4" font-weight="bold" text-anchor="middle" fill="#111" >410</text>
<line x1="379.5" y1="579" x2="379.5" y2="581.5" stroke="#8a8a8a" stroke-width="0.9" />
<text x="379.5" y="591.2" font-size="7.4" font-weight="bold" text-anchor="middle" fill="#111" >415</text>
<line x1="357.05" y1="579" x2="357.05" y2="581.5" stroke="#8a8a8a" stroke-width="0.9" />
<text x="357.05" y="591.2" font-size="7.4" font-weight="bold" text-anchor="middle" fill="#111" >420</text>
<line x1="334.6" y1="579" x2="334.6" y2="581.5" stroke="#8a8a8a" stroke-width="0.9" />
<text x="334.6" y="591.2" font-size="7.4" font-weight="bold" text-anchor="middle" fill="#111" >425</text>
<line x1="312.15" y1="579" x2="312.15" y2="581.5" stroke="#8a8a8a" stroke-width="0.9" />
<text x="312.15" y="591.2" font-size="7.4" font-weight="bold" text-anchor="middle" fill="#111" >430</text>
<line x1="289.7" y1="579" x2="289.7" y2="581.5" stroke="#8a8a8a" stroke-width="0.9" />
<text x="289.7" y="591.2" font-size="7.4" font-weight="bold" text-anchor="middle" fill="#111" >435</text>
<line x1="509.71000000000004" y1="579" x2="509.71000000000004" y2="580.3" stroke="#888" stroke-width="0.5" />
<line x1="505.22" y1="579" x2="505.22" y2="580.3" stroke="#888" stroke-width="0.5" />
<line x1="500.73" y1="579" x2="500.73" y2="580.3" stroke="#888" stroke-width="0.5" />
<line x1="496.24" y1="579" x2="496.24" y2="580.3" stroke="#888" stroke-width="0.5" />
<line x1="487.26" y1="579" x2="487.26" y2="580.3" stroke="#888" stroke-width="0.5" />
<line x1="482.77" y1="579" x2="482.77" y2="580.3" stroke="#888" stroke-width="0.5" />
<line x1="478.28" y1="579" x2="478.28" y2="580.3" stroke="#888" stroke-width="0.5" />
<line x1="473.78999999999996" y1="579" x2="473.78999999999996" y2="580.3" stroke="#888" stroke-width="0.5" />
<line x1="464.81" y1="579" x2="464.81" y2="580.3" stroke="#888" stroke-width="0.5" />
<line x1="460.32" y1="579" x2="460.32" y2="580.3" stroke="#888" stroke-width="0.5" />
<line x1="455.83" y1="579" x2="455.83" y2="580.3" stroke="#888" stroke-width="0.5" />
<line x1="451.34000000000003" y1="579" x2="451.34000000000003" y2="580.3" stroke="#888" stroke-width="0.5" />
<line x1="442.36" y1="579" x2="442.36" y2="580.3" stroke="#888" stroke-width="0.5" />
<line x1="437.87" y1="579" x2="437.87" y2="580.3" stroke="#888" stroke-width="0.5" />
<line x1="433.38" y1="579" x2="433.38" y2="580.3" stroke="#888" stroke-width="0.5" />
<line x1="428.89" y1="579" x2="428.89" y2="580.3" stroke="#888" stroke-width="0.5" />
<line x1="419.90999999999997" y1="579" x2="419.90999999999997" y2="580.3" stroke="#888" stroke-width="0.5" />
<line x1="415.41999999999996" y1="579" x2="415.41999999999996" y2="580.3" stroke="#888" stroke-width="0.5" />
<line x1="410.93" y1="579" x2="410.93" y2="580.3" stroke="#888" stroke-width="0.5" />
<line x1="406.44" y1="579" x2="406.44" y2="580.3" stroke="#888" stroke-width="0.5" />
<line x1="397.46" y1="579" x2="397.46" y2="580.3" stroke="#888" stroke-width="0.5" />
<line x1="392.97" y1="579" x2="392.97" y2="580.3" stroke="#888" stroke-width="0.5" />
<line x1="388.48" y1="579" x2="388.48" y2="580.3" stroke="#888" stroke-width="0.5" />
<line x1="383.99" y1="579" x2="383.99" y2="580.3" stroke="#888" stroke-width="0.5" />
<line x1="375.01" y1="579" x2="375.01" y2="580.3" stroke="#888" stroke-width="0.5" />
<line x1="370.52" y1="579" x2="370.52" y2="580.3" stroke="#888" stroke-width="0.5" />
<line x1="366.03" y1="579" x2="366.03" y2="580.3" stroke="#888" stroke-width="0.5" />
<line x1="361.53999999999996" y1="579" x2="361.53999999999996" y2="580.3" stroke="#888" stroke-width="0.5" />
<line x1="352.56" y1="579" x2="352.56" y2="580.3" stroke="#888" stroke-width="0.5" />
<line x1="348.07" y1="579" x2="348.07" y2="580.3" stroke="#888" stroke-width="0.5" />
<line x1="343.58" y1="579" x2="343.58" y2="580.3" stroke="#888" stroke-width="0.5" />
<line x1="339.09" y1="579" x2="339.09" y2="580.3" stroke="#888" stroke-width="0.5" />
<line x1="330.11" y1="579" x2="330.11" y2="580.3" stroke="#888" stroke-width="0.5" />
<line x1="325.62" y1="579" x2="325.62" y2="580.3" stroke="#888" stroke-width="0.5" />
<line x1="321.13" y1="579" x2="321.13" y2="580.3" stroke="#888" stroke-width="0.5" />
<line x1="316.64" y1="579" x2="316.64" y2="580.3" stroke="#888" stroke-width="0.5" />
<line x1="307.65999999999997" y1="579" x2="307.65999999999997" y2="580.3" stroke="#888" stroke-width="0.5" />
<line x1="303.17" y1="579" x2="303.17" y2="580.3" stroke="#888" stroke-width="0.5" />
<line x1="298.68" y1="579" x2="298.68" y2="580.3" stroke="#888" stroke-width="0.5" />
<line x1="294.19" y1="579" x2="294.19" y2="580.3" stroke="#888" stroke-width="0.5" />
<text x="402" y="605" font-size="8.9" font-weight="bold" text-anchor="middle" fill="#111" >Binding energy, eV</text>
<text transform="translate(282.1,438.1) rotate(-90)" font-size="9.0" font-weight="bold" text-anchor="middle" fill="#111">Intensity (a.u.)</text>
</svg>
</body></html>
